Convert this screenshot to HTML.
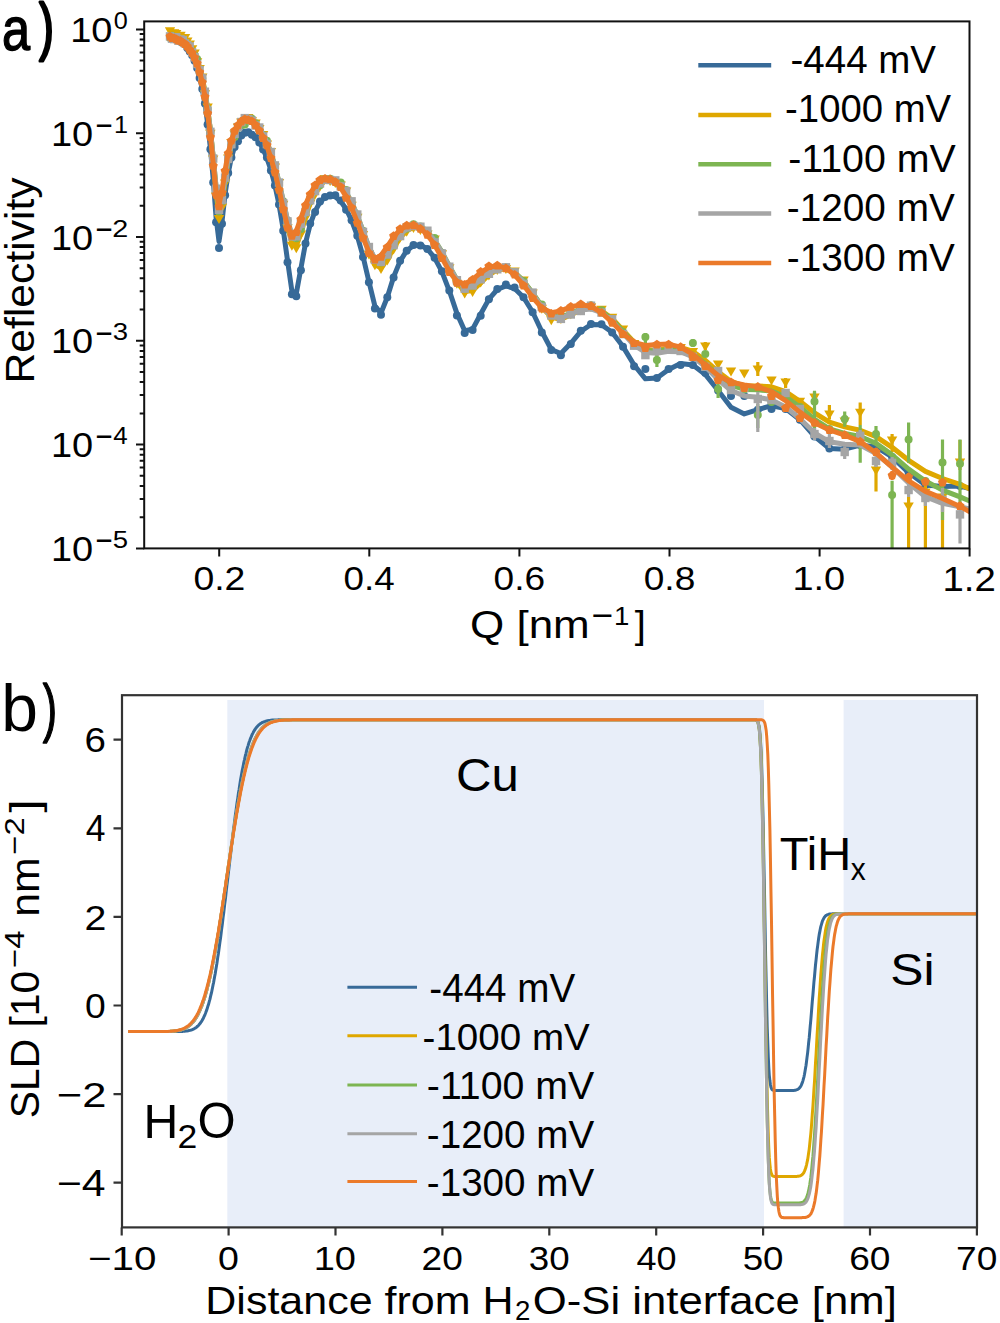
<!DOCTYPE html><html><head><meta charset="utf-8"><style>html,body{margin:0;padding:0;background:#fff;width:1000px;height:1323px;overflow:hidden;position:relative}text{font-family:"Liberation Sans",sans-serif}</style></head><body><svg width="1000" height="1323" viewBox="0 0 1000 1323" style="position:absolute;left:0;top:0">
<rect width="1000" height="1323" fill="#fff"/>
<defs><clipPath id="ca"><rect x="144.2" y="21.4" width="825.3" height="527"/></clipPath></defs>
<g clip-path="url(#ca)">
<g fill="#376a98"><circle cx="170.0" cy="36.2" r="4"/><circle cx="172.0" cy="36.6" r="4"/><circle cx="174.1" cy="37.8" r="4"/><circle cx="176.2" cy="39.1" r="4"/><circle cx="178.3" cy="40.0" r="4"/><circle cx="180.5" cy="41.7" r="4"/><circle cx="182.8" cy="42.8" r="4"/><circle cx="185.0" cy="44.1" r="4"/><circle cx="187.3" cy="48.0" r="4"/><circle cx="189.7" cy="51.5" r="4"/><circle cx="192.1" cy="55.2" r="4"/><circle cx="194.6" cy="60.8" r="4"/><circle cx="197.1" cy="68.1" r="4"/><circle cx="199.6" cy="77.9" r="4"/><circle cx="202.3" cy="89.1" r="4"/><circle cx="204.9" cy="103.6" r="4"/><circle cx="207.6" cy="124.4" r="4"/><circle cx="210.4" cy="149.2" r="4"/><circle cx="213.2" cy="182.4" r="4"/><circle cx="216.1" cy="222.3" r="4"/><circle cx="219.0" cy="247.9" r="4"/><circle cx="222.0" cy="223.7" r="4"/><circle cx="225.1" cy="195.3" r="4"/><circle cx="228.2" cy="173.0" r="4"/><circle cx="231.4" cy="157.4" r="4"/><circle cx="234.6" cy="146.9" r="4"/><circle cx="238.0" cy="141.2" r="4"/><circle cx="241.3" cy="135.4" r="4"/><circle cx="244.8" cy="132.8" r="4"/><circle cx="248.3" cy="132.3" r="4"/><circle cx="251.9" cy="134.8" r="4"/><circle cx="255.5" cy="137.3" r="4"/><circle cx="259.3" cy="142.6" r="4"/><circle cx="263.1" cy="149.4" r="4"/><circle cx="266.9" cy="157.5" r="4"/><circle cx="270.9" cy="170.6" r="4"/><circle cx="274.9" cy="185.4" r="4"/><circle cx="279.0" cy="204.4" r="4"/><circle cx="283.2" cy="230.7" r="4"/><circle cx="287.5" cy="262.3" r="4"/><circle cx="291.9" cy="294.3" r="4"/><circle cx="296.3" cy="296.3" r="4"/><circle cx="300.9" cy="270.2" r="4"/><circle cx="305.5" cy="243.4" r="4"/><circle cx="310.2" cy="223.4" r="4"/><circle cx="315.1" cy="211.9" r="4"/><circle cx="320.0" cy="201.5" r="4"/><circle cx="325.0" cy="196.9" r="4"/><circle cx="330.1" cy="195.6" r="4"/><circle cx="335.3" cy="195.3" r="4"/><circle cx="340.7" cy="200.6" r="4"/><circle cx="346.1" cy="209.7" r="4"/><circle cx="351.6" cy="220.3" r="4"/><circle cx="357.3" cy="235.7" r="4"/><circle cx="363.0" cy="257.0" r="4"/><circle cx="368.9" cy="282.3" r="4"/><circle cx="374.9" cy="308.4" r="4"/><circle cx="381.0" cy="314.7" r="4"/><circle cx="387.3" cy="297.2" r="4"/><circle cx="393.6" cy="277.6" r="4"/><circle cx="400.1" cy="260.8" r="4"/><circle cx="406.7" cy="250.7" r="4"/><circle cx="413.5" cy="245.1" r="4"/><circle cx="420.4" cy="245.4" r="4"/><circle cx="427.4" cy="249.1" r="4"/><circle cx="434.6" cy="257.8" r="4"/><circle cx="441.9" cy="271.2" r="4"/><circle cx="449.3" cy="290.6" r="4"/><circle cx="456.9" cy="315.5" r="4"/><circle cx="464.7" cy="333.1" r="4"/><circle cx="472.6" cy="330.1" r="4"/><circle cx="480.7" cy="315.7" r="4"/><circle cx="488.9" cy="299.2" r="4"/><circle cx="497.3" cy="289.1" r="4"/><circle cx="505.9" cy="284.6" r="4"/><circle cx="514.6" cy="287.6" r="4"/><circle cx="523.5" cy="297.2" r="4"/><circle cx="532.6" cy="312.3" r="4"/><circle cx="541.8" cy="332.5" r="4"/><circle cx="551.3" cy="350.1" r="4"/><circle cx="560.9" cy="355.3" r="4"/><circle cx="570.8" cy="343.9" r="4"/><circle cx="580.8" cy="330.8" r="4"/><circle cx="591.0" cy="324.0" r="4"/><circle cx="601.5" cy="324.3" r="4"/><circle cx="612.1" cy="332.6" r="4"/><circle cx="623.0" cy="346.8" r="4"/><circle cx="634.1" cy="366.2" r="4"/><circle cx="645.4" cy="369.0" r="4"/><circle cx="656.9" cy="378.0" r="4"/><circle cx="668.6" cy="369.0" r="4"/><circle cx="680.6" cy="365.0" r="4"/><circle cx="692.9" cy="365.0" r="4"/><circle cx="705.3" cy="373.0" r="4"/><circle cx="718.1" cy="390.5" r="4"/><circle cx="731.0" cy="396.0" r="4"/><circle cx="744.3" cy="396.0" r="4"/><circle cx="757.8" cy="409.7" r="4"/><circle cx="771.5" cy="409.0" r="4"/><circle cx="785.6" cy="409.0" r="4"/><circle cx="799.9" cy="419.7" r="4"/><circle cx="814.5" cy="436.4" r="4"/><circle cx="829.4" cy="448.6" r="4"/><circle cx="844.7" cy="449.2" r="4"/><circle cx="860.2" cy="445.0" r="4"/><circle cx="876.0" cy="446.9" r="4"/><circle cx="892.1" cy="457.0" r="4"/><circle cx="908.6" cy="472.6" r="4"/><circle cx="925.4" cy="484.9" r="4"/><circle cx="942.5" cy="486.6" r="4"/><circle cx="960.0" cy="486.0" r="4"/></g>
<polyline points="170.0,36.2 172.0,36.8 174.1,37.6 176.2,38.6 178.3,39.7 180.5,41.1 182.8,42.8 185.0,45.0 187.3,47.7 189.7,51.1 192.1,55.5 194.6,61.1 197.1,68.2 199.6,77.3 202.3,89.0 204.9,103.9 207.6,123.1 210.4,148.1 213.2,179.4 216.1,217.7 219.0,241.4 222.0,221.6 225.1,194.0 228.2,173.2 231.4,157.6 234.6,146.9 238.0,139.7 241.3,135.2 244.8,132.9 248.3,132.5 251.9,133.9 255.5,137.1 259.3,142.0 263.1,149.0 266.9,158.2 270.9,170.0 274.9,185.2 279.0,204.6 283.2,229.4 287.5,260.4 291.9,291.0 296.3,293.5 300.9,268.4 305.5,243.2 310.2,224.3 315.1,211.1 320.0,202.3 325.0,197.2 330.1,195.4 335.3,196.8 340.7,201.3 346.1,209.0 351.6,220.3 357.3,235.9 363.0,256.3 368.9,281.5 374.9,306.2 381.0,313.0 387.3,297.2 393.6,276.9 400.1,261.1 406.7,250.7 413.5,245.5 420.4,245.0 427.4,249.0 434.6,257.8 441.9,271.7 449.3,290.8 456.9,313.4 464.7,330.7 472.6,329.1 480.7,314.0 488.9,299.1 497.3,289.5 505.9,285.9 514.6,288.5 523.5,297.2 532.6,312.0 541.8,331.5 551.3,349.5 560.9,353.6 570.8,343.3 580.8,331.3 591.0,324.5 601.5,324.7 612.1,332.3 623.0,346.6 634.1,365.0 645.4,378.8 656.9,378.1 668.6,369.4 680.6,363.5 692.9,365.0 705.3,374.4 718.1,390.5 731.0,407.3 744.3,413.9 757.8,409.7 771.5,405.7 785.6,408.5 799.9,419.7 814.5,436.4 829.4,448.6 844.7,449.2 860.2,445.0 876.0,446.9 892.1,457.0 908.6,472.6 925.4,484.9 942.5,486.6 960.0,486.0 973.4,489.6" fill="none" stroke="#376a98" stroke-width="5" stroke-linejoin="round"/>
<g fill="#dfa700"><path d="M164.8,27.2H175.2L170.0,36.2Z"/><path d="M166.8,29.8H177.2L172.0,38.8Z"/><path d="M168.9,29.2H179.3L174.1,38.2Z"/><path d="M171.0,29.9H181.4L176.2,38.9Z"/><path d="M173.1,32.3H183.5L178.3,41.3Z"/><path d="M175.3,31.8H185.7L180.5,40.8Z"/><path d="M177.6,34.7H188.0L182.8,43.7Z"/><path d="M179.8,34.1H190.2L185.0,43.1Z"/><path d="M182.1,37.5H192.5L187.3,46.5Z"/><path d="M184.5,40.6H194.9L189.7,49.6Z"/><path d="M186.9,45.3H197.3L192.1,54.3Z"/><path d="M189.4,49.5H199.8L194.6,58.5Z"/><path d="M191.9,58.2H202.3L197.1,67.2Z"/><path d="M194.4,65.1H204.8L199.6,74.1Z"/><path d="M197.1,73.5H207.5L202.3,82.5Z"/><path d="M199.7,90.2H210.1L204.9,99.2Z"/><path d="M202.4,103.6H212.8L207.6,112.6Z"/><path d="M205.2,129.7H215.6L210.4,138.7Z"/><path d="M208.0,155.4H218.4L213.2,164.4Z"/><path d="M210.9,192.5H221.3L216.1,201.5Z"/><path d="M213.8,215.1H224.2L219.0,224.1Z"/><path d="M216.8,203.5H227.2L222.0,212.5Z"/><path d="M219.9,179.6H230.3L225.1,188.6Z"/><path d="M223.0,154.6H233.4L228.2,163.6Z"/><path d="M226.2,139.1H236.6L231.4,148.1Z"/><path d="M229.4,130.4H239.8L234.6,139.4Z"/><path d="M232.8,123.4H243.2L238.0,132.4Z"/><path d="M236.1,118.6H246.5L241.3,127.6Z"/><path d="M239.6,117.3H250.0L244.8,126.3Z"/><path d="M243.1,113.9H253.5L248.3,122.9Z"/><path d="M246.7,117.2H257.1L251.9,126.2Z"/><path d="M250.3,119.4H260.7L255.5,128.4Z"/><path d="M254.1,124.9H264.5L259.3,133.9Z"/><path d="M257.9,131.1H268.3L263.1,140.1Z"/><path d="M261.7,140.5H272.1L266.9,149.5Z"/><path d="M265.7,148.0H276.1L270.9,157.0Z"/><path d="M269.7,163.6H280.1L274.9,172.6Z"/><path d="M273.8,179.1H284.2L279.0,188.1Z"/><path d="M278.0,200.8H288.4L283.2,209.8Z"/><path d="M282.3,224.2H292.7L287.5,233.2Z"/><path d="M286.7,241.7H297.1L291.9,250.7Z"/><path d="M291.1,244.2H301.5L296.3,253.2Z"/><path d="M295.7,230.5H306.1L300.9,239.5Z"/><path d="M300.3,214.3H310.7L305.5,223.3Z"/><path d="M305.0,199.8H315.4L310.2,208.8Z"/><path d="M309.9,190.5H320.3L315.1,199.5Z"/><path d="M314.8,182.5H325.2L320.0,191.5Z"/><path d="M319.8,175.1H330.2L325.0,184.1Z"/><path d="M324.9,177.0H335.3L330.1,186.0Z"/><path d="M330.1,179.1H340.5L335.3,188.1Z"/><path d="M335.5,181.6H345.9L340.7,190.6Z"/><path d="M340.9,187.5H351.3L346.1,196.5Z"/><path d="M346.4,201.7H356.8L351.6,210.7Z"/><path d="M352.1,213.7H362.5L357.3,222.7Z"/><path d="M357.8,231.0H368.2L363.0,240.0Z"/><path d="M363.7,250.5H374.1L368.9,259.5Z"/><path d="M369.7,261.2H380.1L374.9,270.2Z"/><path d="M375.8,265.1H386.2L381.0,274.1Z"/><path d="M382.1,256.6H392.5L387.3,265.6Z"/><path d="M388.4,245.6H398.8L393.6,254.6Z"/><path d="M394.9,233.4H405.3L400.1,242.4Z"/><path d="M401.5,227.7H411.9L406.7,236.7Z"/><path d="M408.3,223.9H418.7L413.5,232.9Z"/><path d="M415.2,225.9H425.6L420.4,234.9Z"/><path d="M422.2,230.6H432.6L427.4,239.6Z"/><path d="M429.4,235.6H439.8L434.6,244.6Z"/><path d="M436.7,250.3H447.1L441.9,259.3Z"/><path d="M444.1,264.3H454.5L449.3,273.3Z"/><path d="M451.7,279.8H462.1L456.9,288.8Z"/><path d="M459.5,289.4H469.9L464.7,298.4Z"/><path d="M467.4,288.1H477.8L472.6,297.1Z"/><path d="M475.5,278.6H485.9L480.7,287.6Z"/><path d="M483.7,271.5H494.1L488.9,280.5Z"/><path d="M492.1,266.1H502.5L497.3,275.1Z"/><path d="M500.7,265.0H511.1L505.9,274.0Z"/><path d="M509.4,267.4H519.8L514.6,276.4Z"/><path d="M518.3,276.6H528.7L523.5,285.6Z"/><path d="M527.4,289.5H537.8L532.6,298.5Z"/><path d="M536.6,304.7H547.0L541.8,313.7Z"/><path d="M546.1,316.2H556.5L551.3,325.2Z"/><path d="M555.7,315.0H566.1L560.9,324.0Z"/><path d="M565.6,310.2H576.0L570.8,319.2Z"/><path d="M575.6,306.2H586.0L580.8,315.2Z"/><path d="M585.8,303.2H596.2L591.0,312.2Z"/><path d="M596.3,305.7H606.7L601.5,314.7Z"/><path d="M606.9,313.7H617.3L612.1,322.7Z"/><path d="M617.8,325.5H628.2L623.0,334.5Z"/><path d="M628.9,339.9H639.3L634.1,348.9Z"/><path d="M640.2,344.8H650.6L645.4,353.8Z"/><path d="M651.7,349.0H662.1L656.9,358.0Z"/><path d="M663.4,342.9H673.8L668.6,351.9Z"/><path d="M675.4,343.9H685.8L680.6,352.9Z"/><path d="M687.7,347.9H698.1L692.9,356.9Z"/><path d="M705.3,342.0V350.0" stroke="#dfa700" stroke-width="3.2"/><path d="M700.1,342.4H710.5L705.3,351.4Z"/><path d="M712.9,360.4H723.3L718.1,369.4Z"/><path d="M725.8,367.4H736.2L731.0,376.4Z"/><path d="M739.1,369.4H749.5L744.3,378.4Z"/><path d="M757.8,362.0V376.0" stroke="#dfa700" stroke-width="3.2"/><path d="M752.6,365.4H763.0L757.8,374.4Z"/><path d="M766.3,376.4H776.7L771.5,385.4Z"/><path d="M785.6,378.0V388.0" stroke="#dfa700" stroke-width="3.2"/><path d="M780.4,378.4H790.8L785.6,387.4Z"/><path d="M794.7,397.7H805.1L799.9,406.7Z"/><path d="M814.5,392.0V402.0" stroke="#dfa700" stroke-width="3.2"/><path d="M809.3,393.4H819.7L814.5,402.4Z"/><path d="M829.4,405.0V419.6" stroke="#dfa700" stroke-width="3.2"/><path d="M824.2,410.4H834.6L829.4,419.4Z"/><path d="M844.7,415.0V427.0" stroke="#dfa700" stroke-width="3.2"/><path d="M839.5,417.4H849.9L844.7,426.4Z"/><path d="M860.2,402.5V425.0" stroke="#dfa700" stroke-width="3.2"/><path d="M855.0,408.8H865.4L860.2,417.8Z"/><path d="M876.0,461.0V491.6" stroke="#dfa700" stroke-width="3.2"/><path d="M870.8,466.4H881.2L876.0,475.4Z"/><path d="M892.1,434.0V452.0" stroke="#dfa700" stroke-width="3.2"/><path d="M886.9,436.4H897.3L892.1,445.4Z"/><path d="M908.6,497.0V548.0" stroke="#dfa700" stroke-width="3.2"/><path d="M903.4,502.4H913.8L908.6,511.4Z"/><path d="M925.4,480.0V548.0" stroke="#dfa700" stroke-width="3.2"/><path d="M920.2,488.4H930.6L925.4,497.4Z"/><path d="M942.5,488.0V548.0" stroke="#dfa700" stroke-width="3.2"/><path d="M937.3,493.4H947.7L942.5,502.4Z"/><path d="M960.0,440.0V470.0" stroke="#dfa700" stroke-width="3.2"/><path d="M954.8,458.4H965.2L960.0,467.4Z"/></g>
<polyline points="170.0,31.5 172.0,32.0 174.1,32.7 176.2,33.5 178.3,34.5 180.5,35.7 182.8,37.2 185.0,39.1 187.3,41.4 189.7,44.3 192.1,48.1 194.6,52.9 197.1,59.2 199.6,67.2 202.3,77.5 204.9,90.9 207.6,108.1 210.4,130.3 213.2,158.7 216.1,192.4 219.0,216.2 222.0,205.4 225.1,180.6 228.2,159.8 231.4,144.7 234.6,134.0 238.0,126.8 241.3,122.2 244.8,119.7 248.3,119.1 251.9,120.2 255.5,123.0 259.3,127.5 263.1,133.9 266.9,142.4 270.9,153.2 274.9,166.9 279.0,183.7 283.2,203.8 287.5,225.8 291.9,243.4 296.3,245.8 300.9,233.4 305.5,217.2 310.2,203.1 315.1,192.4 320.0,185.2 325.0,181.1 330.1,179.9 335.3,181.5 340.7,185.9 346.1,193.1 351.6,203.4 357.3,216.9 363.0,233.3 368.9,250.9 374.9,264.7 381.0,267.7 387.3,259.8 393.6,248.1 400.1,237.8 406.7,230.8 413.5,227.6 420.4,228.3 427.4,232.8 434.6,241.1 441.9,253.1 449.3,267.9 456.9,282.6 464.7,291.5 472.6,290.5 480.7,282.9 488.9,274.8 497.3,269.8 505.9,269.0 514.6,272.9 523.5,281.3 532.6,293.4 541.8,307.0 551.3,317.2 560.9,319.3 570.8,315.0 580.8,309.8 591.0,307.9 601.5,310.7 612.1,318.5 623.0,330.1 634.1,342.2 645.4,349.8 656.9,350.5 668.6,348.0 680.6,347.5 692.9,351.5 705.3,360.4 718.1,371.7 731.0,381.4 744.3,385.8 757.8,385.9 771.5,386.8 785.6,391.7 799.9,401.3 814.5,412.8 829.4,422.2 844.7,426.9 860.2,430.3 876.0,436.6 892.1,447.3 908.6,460.3 925.4,471.4 942.5,478.5 960.0,484.4 973.4,490.5" fill="none" stroke="#dfa700" stroke-width="5" stroke-linejoin="round"/>
<g fill="#7db552"><circle cx="170.0" cy="38.1" r="4"/><circle cx="172.0" cy="35.7" r="4"/><circle cx="174.1" cy="37.1" r="4"/><circle cx="176.2" cy="37.2" r="4"/><circle cx="178.3" cy="40.0" r="4"/><circle cx="180.5" cy="40.7" r="4"/><circle cx="182.8" cy="42.5" r="4"/><circle cx="185.0" cy="44.1" r="4"/><circle cx="187.3" cy="44.8" r="4"/><circle cx="189.7" cy="48.9" r="4"/><circle cx="192.1" cy="50.9" r="4"/><circle cx="194.6" cy="55.5" r="4"/><circle cx="197.1" cy="59.1" r="4"/><circle cx="199.6" cy="71.5" r="4"/><circle cx="202.3" cy="78.3" r="4"/><circle cx="204.9" cy="92.5" r="4"/><circle cx="207.6" cy="109.1" r="4"/><circle cx="210.4" cy="132.7" r="4"/><circle cx="213.2" cy="158.7" r="4"/><circle cx="216.1" cy="188.8" r="4"/><circle cx="219.0" cy="211.4" r="4"/><circle cx="222.0" cy="201.6" r="4"/><circle cx="225.1" cy="179.2" r="4"/><circle cx="228.2" cy="157.4" r="4"/><circle cx="231.4" cy="144.5" r="4"/><circle cx="234.6" cy="137.1" r="4"/><circle cx="238.0" cy="128.0" r="4"/><circle cx="241.3" cy="125.2" r="4"/><circle cx="244.8" cy="124.6" r="4"/><circle cx="248.3" cy="120.2" r="4"/><circle cx="251.9" cy="118.8" r="4"/><circle cx="255.5" cy="123.3" r="4"/><circle cx="259.3" cy="129.4" r="4"/><circle cx="263.1" cy="135.3" r="4"/><circle cx="266.9" cy="140.7" r="4"/><circle cx="270.9" cy="152.6" r="4"/><circle cx="274.9" cy="166.0" r="4"/><circle cx="279.0" cy="182.4" r="4"/><circle cx="283.2" cy="201.3" r="4"/><circle cx="287.5" cy="220.4" r="4"/><circle cx="291.9" cy="236.1" r="4"/><circle cx="296.3" cy="238.3" r="4"/><circle cx="300.9" cy="229.1" r="4"/><circle cx="305.5" cy="212.4" r="4"/><circle cx="310.2" cy="201.1" r="4"/><circle cx="315.1" cy="188.7" r="4"/><circle cx="320.0" cy="185.3" r="4"/><circle cx="325.0" cy="179.9" r="4"/><circle cx="330.1" cy="178.8" r="4"/><circle cx="335.3" cy="182.3" r="4"/><circle cx="340.7" cy="182.5" r="4"/><circle cx="346.1" cy="190.1" r="4"/><circle cx="351.6" cy="203.0" r="4"/><circle cx="357.3" cy="214.4" r="4"/><circle cx="363.0" cy="230.8" r="4"/><circle cx="368.9" cy="251.4" r="4"/><circle cx="374.9" cy="259.7" r="4"/><circle cx="381.0" cy="262.4" r="4"/><circle cx="387.3" cy="254.8" r="4"/><circle cx="393.6" cy="245.7" r="4"/><circle cx="400.1" cy="235.2" r="4"/><circle cx="406.7" cy="228.8" r="4"/><circle cx="413.5" cy="224.2" r="4"/><circle cx="420.4" cy="226.4" r="4"/><circle cx="427.4" cy="231.6" r="4"/><circle cx="434.6" cy="237.9" r="4"/><circle cx="441.9" cy="252.8" r="4"/><circle cx="449.3" cy="267.0" r="4"/><circle cx="456.9" cy="282.8" r="4"/><circle cx="464.7" cy="286.1" r="4"/><circle cx="472.6" cy="285.5" r="4"/><circle cx="480.7" cy="278.4" r="4"/><circle cx="488.9" cy="271.4" r="4"/><circle cx="497.3" cy="267.8" r="4"/><circle cx="505.9" cy="267.5" r="4"/><circle cx="514.6" cy="272.4" r="4"/><circle cx="523.5" cy="281.1" r="4"/><circle cx="532.6" cy="293.0" r="4"/><circle cx="541.8" cy="304.4" r="4"/><circle cx="551.3" cy="315.3" r="4"/><circle cx="560.9" cy="317.8" r="4"/><circle cx="570.8" cy="314.2" r="4"/><circle cx="580.8" cy="309.6" r="4"/><circle cx="591.0" cy="305.2" r="4"/><circle cx="601.5" cy="310.2" r="4"/><circle cx="612.1" cy="319.3" r="4"/><circle cx="623.0" cy="331.9" r="4"/><circle cx="634.1" cy="345.3" r="4"/><path d="M645.4,333.0V343.0" stroke="#7db552" stroke-width="3.2"/><circle cx="645.4" cy="337.0" r="4"/><path d="M656.9,353.0V367.0" stroke="#7db552" stroke-width="3.2"/><circle cx="656.9" cy="360.0" r="4"/><circle cx="668.6" cy="349.7" r="4"/><circle cx="680.6" cy="349.5" r="4"/><path d="M692.9,339.0V347.0" stroke="#7db552" stroke-width="3.2"/><circle cx="692.9" cy="343.0" r="4"/><circle cx="705.3" cy="354.0" r="4"/><path d="M718.1,384.0V398.0" stroke="#7db552" stroke-width="3.2"/><circle cx="718.1" cy="389.0" r="4"/><circle cx="731.0" cy="385.1" r="4"/><circle cx="744.3" cy="389.4" r="4"/><path d="M757.8,404.0V428.0" stroke="#7db552" stroke-width="3.2"/><circle cx="757.8" cy="415.0" r="4"/><circle cx="771.5" cy="402.0" r="4"/><circle cx="785.6" cy="396.7" r="4"/><circle cx="799.9" cy="407.0" r="4"/><path d="M814.5,390.8V437.6" stroke="#7db552" stroke-width="3.2"/><circle cx="814.5" cy="401.6" r="4"/><circle cx="829.4" cy="428.9" r="4"/><path d="M844.7,411.5V426.8" stroke="#7db552" stroke-width="3.2"/><circle cx="844.7" cy="419.0" r="4"/><path d="M860.2,425.0V462.8" stroke="#7db552" stroke-width="3.2"/><circle cx="860.2" cy="443.0" r="4"/><path d="M876.0,426.0V443.0" stroke="#7db552" stroke-width="3.2"/><circle cx="876.0" cy="434.0" r="4"/><path d="M892.1,480.8V548.0" stroke="#7db552" stroke-width="3.2"/><circle cx="892.1" cy="495.0" r="4"/><path d="M908.6,422.5V462.8" stroke="#7db552" stroke-width="3.2"/><circle cx="908.6" cy="439.4" r="4"/><circle cx="925.4" cy="481.0" r="4"/><path d="M942.5,439.6V520.0" stroke="#7db552" stroke-width="3.2"/><circle cx="942.5" cy="462.4" r="4"/><path d="M960.0,439.6V503.0" stroke="#7db552" stroke-width="3.2"/><circle cx="960.0" cy="463.7" r="4"/></g>
<polyline points="170.0,35.8 172.0,36.4 174.1,37.0 176.2,37.7 178.3,38.7 180.5,39.8 182.8,41.2 185.0,42.9 187.3,45.1 189.7,47.9 192.1,51.5 194.6,56.0 197.1,61.9 199.6,69.6 202.3,79.5 204.9,92.3 207.6,108.8 210.4,130.1 213.2,156.9 216.1,187.6 219.0,208.4 222.0,200.2 225.1,178.3 228.2,159.0 231.4,144.5 234.6,134.2 238.0,127.2 241.3,122.7 244.8,120.2 248.3,119.6 251.9,120.7 255.5,123.4 259.3,127.8 263.1,134.1 266.9,142.3 270.9,152.8 274.9,166.0 279.0,182.0 283.2,200.8 287.5,220.6 291.9,235.6 296.3,237.5 300.9,227.1 305.5,212.9 310.2,200.2 315.1,190.4 320.0,183.7 325.0,180.0 330.1,179.0 335.3,180.7 340.7,185.1 346.1,192.2 351.6,202.3 357.3,215.3 363.0,230.9 368.9,247.0 374.9,259.1 381.0,261.5 387.3,254.5 393.6,244.2 400.1,235.0 406.7,228.8 413.5,226.1 420.4,227.1 427.4,231.8 434.6,240.1 441.9,251.9 449.3,266.0 456.9,279.6 464.7,287.5 472.6,286.4 480.7,279.6 488.9,272.5 497.3,268.3 505.9,268.1 514.6,272.3 523.5,280.9 532.6,292.9 541.8,305.9 551.3,315.4 560.9,317.2 570.8,313.4 580.8,309.0 591.0,307.8 601.5,311.3 612.1,319.5 623.0,331.2 634.1,343.1 645.4,350.4 656.9,351.2 668.6,349.3 680.6,349.5 692.9,354.2 705.3,363.8 718.1,375.3 731.0,385.1 744.3,389.4 757.8,389.8 771.5,391.1 785.6,396.7 799.9,407.0 814.5,419.4 829.4,428.9 844.7,433.4 860.2,436.5 876.0,443.4 892.1,454.9 908.6,469.1 925.4,481.0 942.5,490.1 960.0,496.9 973.4,502.6" fill="none" stroke="#7db552" stroke-width="5" stroke-linejoin="round"/>
<g fill="#a5a5a5"><rect x="165.8" y="32.2" width="8.4" height="8.4"/><rect x="167.8" y="34.5" width="8.4" height="8.4"/><rect x="169.9" y="34.9" width="8.4" height="8.4"/><rect x="172.0" y="33.0" width="8.4" height="8.4"/><rect x="174.1" y="36.4" width="8.4" height="8.4"/><rect x="176.3" y="35.2" width="8.4" height="8.4"/><rect x="178.6" y="36.1" width="8.4" height="8.4"/><rect x="180.8" y="39.2" width="8.4" height="8.4"/><rect x="183.1" y="41.0" width="8.4" height="8.4"/><rect x="185.5" y="42.2" width="8.4" height="8.4"/><rect x="187.9" y="48.2" width="8.4" height="8.4"/><rect x="190.4" y="53.1" width="8.4" height="8.4"/><rect x="192.9" y="59.9" width="8.4" height="8.4"/><rect x="195.4" y="65.9" width="8.4" height="8.4"/><rect x="198.1" y="74.1" width="8.4" height="8.4"/><rect x="200.7" y="87.5" width="8.4" height="8.4"/><rect x="203.4" y="106.3" width="8.4" height="8.4"/><rect x="206.2" y="127.6" width="8.4" height="8.4"/><rect x="209.0" y="154.3" width="8.4" height="8.4"/><rect x="211.9" y="184.5" width="8.4" height="8.4"/><rect x="214.8" y="205.7" width="8.4" height="8.4"/><rect x="217.8" y="195.8" width="8.4" height="8.4"/><rect x="220.9" y="173.4" width="8.4" height="8.4"/><rect x="224.0" y="154.7" width="8.4" height="8.4"/><rect x="227.2" y="140.0" width="8.4" height="8.4"/><rect x="230.4" y="129.6" width="8.4" height="8.4"/><rect x="233.8" y="122.9" width="8.4" height="8.4"/><rect x="237.1" y="117.8" width="8.4" height="8.4"/><rect x="240.6" y="113.9" width="8.4" height="8.4"/><rect x="244.1" y="114.8" width="8.4" height="8.4"/><rect x="247.7" y="116.5" width="8.4" height="8.4"/><rect x="251.3" y="121.2" width="8.4" height="8.4"/><rect x="255.1" y="123.3" width="8.4" height="8.4"/><rect x="258.9" y="132.2" width="8.4" height="8.4"/><rect x="262.7" y="139.9" width="8.4" height="8.4"/><rect x="266.7" y="147.8" width="8.4" height="8.4"/><rect x="270.7" y="161.2" width="8.4" height="8.4"/><rect x="274.8" y="178.3" width="8.4" height="8.4"/><rect x="279.0" y="199.0" width="8.4" height="8.4"/><rect x="283.3" y="217.2" width="8.4" height="8.4"/><rect x="287.7" y="232.2" width="8.4" height="8.4"/><rect x="292.1" y="232.1" width="8.4" height="8.4"/><rect x="296.7" y="219.6" width="8.4" height="8.4"/><rect x="301.3" y="207.7" width="8.4" height="8.4"/><rect x="306.0" y="196.1" width="8.4" height="8.4"/><rect x="310.9" y="186.9" width="8.4" height="8.4"/><rect x="315.8" y="179.1" width="8.4" height="8.4"/><rect x="320.8" y="175.6" width="8.4" height="8.4"/><rect x="325.9" y="175.8" width="8.4" height="8.4"/><rect x="331.1" y="176.2" width="8.4" height="8.4"/><rect x="336.5" y="182.1" width="8.4" height="8.4"/><rect x="341.9" y="186.8" width="8.4" height="8.4"/><rect x="347.4" y="197.1" width="8.4" height="8.4"/><rect x="353.1" y="210.3" width="8.4" height="8.4"/><rect x="358.8" y="227.7" width="8.4" height="8.4"/><rect x="364.7" y="242.8" width="8.4" height="8.4"/><rect x="370.7" y="255.5" width="8.4" height="8.4"/><rect x="376.8" y="257.7" width="8.4" height="8.4"/><rect x="383.1" y="250.3" width="8.4" height="8.4"/><rect x="389.4" y="240.9" width="8.4" height="8.4"/><rect x="395.9" y="231.9" width="8.4" height="8.4"/><rect x="402.5" y="223.2" width="8.4" height="8.4"/><rect x="409.3" y="221.8" width="8.4" height="8.4"/><rect x="416.2" y="222.5" width="8.4" height="8.4"/><rect x="423.2" y="226.5" width="8.4" height="8.4"/><rect x="430.4" y="238.2" width="8.4" height="8.4"/><rect x="437.7" y="249.2" width="8.4" height="8.4"/><rect x="445.1" y="262.5" width="8.4" height="8.4"/><rect x="452.7" y="276.0" width="8.4" height="8.4"/><rect x="460.5" y="284.5" width="8.4" height="8.4"/><rect x="468.4" y="281.3" width="8.4" height="8.4"/><rect x="476.5" y="275.1" width="8.4" height="8.4"/><rect x="484.7" y="269.6" width="8.4" height="8.4"/><rect x="493.1" y="265.1" width="8.4" height="8.4"/><rect x="501.7" y="263.1" width="8.4" height="8.4"/><rect x="510.4" y="268.1" width="8.4" height="8.4"/><rect x="519.3" y="279.7" width="8.4" height="8.4"/><rect x="528.4" y="288.4" width="8.4" height="8.4"/><rect x="537.6" y="302.7" width="8.4" height="8.4"/><rect x="547.1" y="311.3" width="8.4" height="8.4"/><rect x="556.7" y="314.7" width="8.4" height="8.4"/><rect x="566.6" y="310.3" width="8.4" height="8.4"/><rect x="576.6" y="306.8" width="8.4" height="8.4"/><rect x="586.8" y="301.5" width="8.4" height="8.4"/><rect x="597.3" y="308.4" width="8.4" height="8.4"/><rect x="607.9" y="315.0" width="8.4" height="8.4"/><rect x="618.8" y="329.9" width="8.4" height="8.4"/><rect x="629.9" y="341.5" width="8.4" height="8.4"/><rect x="641.2" y="350.9" width="8.4" height="8.4"/><rect x="652.7" y="344.8" width="8.4" height="8.4"/><rect x="664.4" y="344.8" width="8.4" height="8.4"/><rect x="676.4" y="346.8" width="8.4" height="8.4"/><rect x="688.7" y="352.7" width="8.4" height="8.4"/><rect x="701.1" y="362.6" width="8.4" height="8.4"/><rect x="713.9" y="366.8" width="8.4" height="8.4"/><rect x="726.8" y="385.8" width="8.4" height="8.4"/><rect x="740.1" y="383.8" width="8.4" height="8.4"/><path d="M757.8,392.0V432.0" stroke="#a5a5a5" stroke-width="3.2"/><rect x="753.6" y="394.8" width="8.4" height="8.4"/><rect x="767.3" y="395.7" width="8.4" height="8.4"/><rect x="781.4" y="388.8" width="8.4" height="8.4"/><rect x="795.7" y="404.8" width="8.4" height="8.4"/><path d="M814.5,428.0V440.0" stroke="#a5a5a5" stroke-width="3.2"/><rect x="810.3" y="429.8" width="8.4" height="8.4"/><path d="M829.4,434.0V448.0" stroke="#a5a5a5" stroke-width="3.2"/><rect x="825.2" y="436.8" width="8.4" height="8.4"/><path d="M844.7,446.6V459.0" stroke="#a5a5a5" stroke-width="3.2"/><rect x="840.5" y="447.8" width="8.4" height="8.4"/><path d="M860.2,430.0V441.0" stroke="#a5a5a5" stroke-width="3.2"/><rect x="856.0" y="431.6" width="8.4" height="8.4"/><path d="M876.0,455.0V467.0" stroke="#a5a5a5" stroke-width="3.2"/><rect x="871.8" y="456.8" width="8.4" height="8.4"/><path d="M892.1,457.0V470.0" stroke="#a5a5a5" stroke-width="3.2"/><rect x="887.9" y="458.6" width="8.4" height="8.4"/><path d="M908.6,484.0V497.0" stroke="#a5a5a5" stroke-width="3.2"/><rect x="904.4" y="485.8" width="8.4" height="8.4"/><path d="M925.4,491.6V506.0" stroke="#a5a5a5" stroke-width="3.2"/><rect x="921.2" y="493.8" width="8.4" height="8.4"/><path d="M942.5,488.0V512.0" stroke="#a5a5a5" stroke-width="3.2"/><rect x="938.3" y="495.8" width="8.4" height="8.4"/><path d="M960.0,505.0V543.6" stroke="#a5a5a5" stroke-width="3.2"/><rect x="955.8" y="510.2" width="8.4" height="8.4"/></g>
<polyline points="170.0,36.7 172.0,37.3 174.1,37.9 176.2,38.6 178.3,39.5 180.5,40.7 182.8,42.0 185.0,43.7 187.3,45.9 189.7,48.7 192.1,52.2 194.6,56.7 197.1,62.6 199.6,70.1 202.3,80.0 204.9,92.7 207.6,109.2 210.4,130.3 213.2,156.8 216.1,186.9 219.0,206.9 222.0,198.8 225.1,177.5 228.2,158.5 231.4,144.3 234.6,134.1 238.0,127.2 241.3,122.7 244.8,120.3 248.3,119.8 251.9,120.9 255.5,123.6 259.3,128.0 263.1,134.2 266.9,142.5 270.9,153.0 274.9,166.1 279.0,182.0 283.2,200.6 287.5,220.0 291.9,234.4 296.3,236.0 300.9,225.8 305.5,212.0 310.2,199.5 315.1,189.9 320.0,183.4 325.0,179.8 330.1,178.9 335.3,180.7 340.7,185.1 346.1,192.4 351.6,202.5 357.3,215.5 363.0,231.0 368.9,246.9 374.9,258.6 381.0,260.7 387.3,253.7 393.6,243.5 400.1,234.6 406.7,228.6 413.5,226.1 420.4,227.2 427.4,232.1 434.6,240.5 441.9,252.4 449.3,266.5 456.9,279.9 464.7,287.5 472.6,286.2 480.7,279.5 488.9,272.6 497.3,268.6 505.9,268.6 514.6,273.1 523.5,281.8 532.6,293.9 541.8,307.0 551.3,316.3 560.9,318.0 570.8,314.1 580.8,309.9 591.0,309.0 601.5,312.7 612.1,321.1 623.0,333.1 634.1,345.2 645.4,352.5 656.9,353.2 668.6,351.4 680.6,351.8 692.9,356.9 705.3,366.8 718.1,379.5 731.0,390.5 744.3,395.9 757.8,397.3 771.5,399.9 785.6,406.9 799.9,418.7 814.5,432.8 829.4,441.8 844.7,444.3 860.2,445.1 876.0,453.5 892.1,466.9 908.6,483.0 925.4,496.7 942.5,503.4 960.0,506.7 973.4,509.7" fill="none" stroke="#a5a5a5" stroke-width="5" stroke-linejoin="round"/>
<g fill="#eb7a2a"><polygon points="170.0,31.7 174.6,35.1 172.9,40.4 167.2,40.4 165.5,35.1"/><polygon points="172.0,33.4 176.6,36.8 174.9,42.1 169.2,42.1 167.5,36.8"/><polygon points="174.1,33.4 178.7,36.8 176.9,42.1 171.3,42.1 169.5,36.8"/><polygon points="176.2,34.5 180.8,37.8 179.0,43.2 173.4,43.2 171.6,37.8"/><polygon points="178.3,35.7 182.9,39.0 181.2,44.4 175.5,44.4 173.8,39.0"/><polygon points="180.5,36.1 185.1,39.4 183.3,44.8 177.7,44.8 176.0,39.4"/><polygon points="182.8,37.9 187.3,41.2 185.6,46.6 179.9,46.6 178.2,41.2"/><polygon points="185.0,39.2 189.6,42.5 187.8,47.9 182.2,47.9 180.5,42.5"/><polygon points="187.3,41.8 191.9,45.1 190.2,50.5 184.5,50.5 182.8,45.1"/><polygon points="189.7,45.1 194.3,48.5 192.5,53.8 186.9,53.8 185.1,48.5"/><polygon points="192.1,48.3 196.7,51.6 194.9,56.9 189.3,56.9 187.6,51.6"/><polygon points="194.6,52.9 199.1,56.2 197.4,61.6 191.8,61.6 190.0,56.2"/><polygon points="197.1,58.6 201.7,61.9 199.9,67.2 194.3,67.2 192.5,61.9"/><polygon points="199.6,67.5 204.2,70.8 202.5,76.2 196.8,76.2 195.1,70.8"/><polygon points="202.3,77.5 206.8,80.9 205.1,86.2 199.4,86.2 197.7,80.9"/><polygon points="204.9,92.1 209.5,95.4 207.7,100.7 202.1,100.7 200.4,95.4"/><polygon points="207.6,108.6 212.2,111.9 210.5,117.3 204.8,117.3 203.1,111.9"/><polygon points="210.4,132.4 215.0,135.7 213.2,141.1 207.6,141.1 205.8,135.7"/><polygon points="213.2,161.1 217.8,164.4 216.0,169.8 210.4,169.8 208.7,164.4"/><polygon points="216.1,190.1 220.7,193.4 218.9,198.8 213.3,198.8 211.5,193.4"/><polygon points="219.0,201.7 223.6,205.0 221.9,210.3 216.2,210.3 214.5,205.0"/><polygon points="222.0,187.9 226.6,191.2 224.9,196.6 219.2,196.6 217.5,191.2"/><polygon points="225.1,166.2 229.7,169.6 227.9,174.9 222.3,174.9 220.5,169.6"/><polygon points="228.2,148.6 232.8,151.9 231.0,157.3 225.4,157.3 223.7,151.9"/><polygon points="231.4,135.9 236.0,139.2 234.2,144.5 228.6,144.5 226.8,139.2"/><polygon points="234.6,126.0 239.2,129.3 237.5,134.7 231.8,134.7 230.1,129.3"/><polygon points="238.0,120.6 242.5,123.9 240.8,129.2 235.1,129.2 233.4,123.9"/><polygon points="241.3,116.8 245.9,120.1 244.2,125.5 238.5,125.5 236.8,120.1"/><polygon points="244.8,114.5 249.3,117.8 247.6,123.1 242.0,123.1 240.2,117.8"/><polygon points="248.3,115.2 252.9,118.6 251.1,123.9 245.5,123.9 243.7,118.6"/><polygon points="251.9,116.4 256.4,119.7 254.7,125.1 249.1,125.1 247.3,119.7"/><polygon points="255.5,120.5 260.1,123.8 258.3,129.2 252.7,129.2 251.0,123.8"/><polygon points="259.3,125.8 263.8,129.1 262.1,134.5 256.4,134.5 254.7,129.1"/><polygon points="263.1,133.2 267.6,136.5 265.9,141.9 260.2,141.9 258.5,136.5"/><polygon points="266.9,140.5 271.5,143.8 269.8,149.2 264.1,149.2 262.4,143.8"/><polygon points="270.9,153.3 275.5,156.7 273.7,162.0 268.1,162.0 266.3,156.7"/><polygon points="274.9,167.5 279.5,170.8 277.7,176.2 272.1,176.2 270.4,170.8"/><polygon points="279.0,185.0 283.6,188.4 281.9,193.7 276.2,193.7 274.5,188.4"/><polygon points="283.2,204.5 287.8,207.8 286.1,213.2 280.4,213.2 278.7,207.8"/><polygon points="287.5,222.9 292.1,226.2 290.3,231.5 284.7,231.5 283.0,226.2"/><polygon points="291.9,231.0 296.4,234.3 294.7,239.7 289.1,239.7 287.3,234.3"/><polygon points="296.3,227.5 300.9,230.8 299.2,236.1 293.5,236.1 291.8,230.8"/><polygon points="300.9,214.6 305.4,217.9 303.7,223.3 298.1,223.3 296.3,217.9"/><polygon points="305.5,200.6 310.1,203.9 308.3,209.3 302.7,209.3 301.0,203.9"/><polygon points="310.2,189.6 314.8,192.9 313.1,198.3 307.4,198.3 305.7,192.9"/><polygon points="315.1,180.4 319.6,183.7 317.9,189.1 312.2,189.1 310.5,183.7"/><polygon points="320.0,175.3 324.5,178.6 322.8,183.9 317.2,183.9 315.4,178.6"/><polygon points="325.0,173.9 329.6,177.3 327.8,182.6 322.2,182.6 320.4,177.3"/><polygon points="330.1,174.6 334.7,177.9 332.9,183.3 327.3,183.3 325.6,177.9"/><polygon points="335.3,177.2 339.9,180.5 338.2,185.9 332.5,185.9 330.8,180.5"/><polygon points="340.7,182.2 345.2,185.5 343.5,190.9 337.8,190.9 336.1,185.5"/><polygon points="346.1,193.1 350.7,196.4 348.9,201.7 343.3,201.7 341.5,196.4"/><polygon points="351.6,203.0 356.2,206.3 354.4,211.6 348.8,211.6 347.1,206.3"/><polygon points="357.3,218.2 361.8,221.5 360.1,226.8 354.5,226.8 352.7,221.5"/><polygon points="363.0,233.1 367.6,236.4 365.9,241.7 360.2,241.7 358.5,236.4"/><polygon points="368.9,248.4 373.5,251.8 371.7,257.1 366.1,257.1 364.4,251.8"/><polygon points="374.9,254.8 379.5,258.1 377.7,263.5 372.1,263.5 370.3,258.1"/><polygon points="381.0,252.0 385.6,255.3 383.8,260.7 378.2,260.7 376.5,255.3"/><polygon points="387.3,242.4 391.8,245.7 390.1,251.0 384.4,251.0 382.7,245.7"/><polygon points="393.6,231.3 398.2,234.6 396.4,240.0 390.8,240.0 389.1,234.6"/><polygon points="400.1,224.2 404.7,227.5 402.9,232.9 397.3,232.9 395.6,227.5"/><polygon points="406.7,220.7 411.3,224.1 409.6,229.4 403.9,229.4 402.2,224.1"/><polygon points="413.5,220.5 418.1,223.8 416.3,229.2 410.7,229.2 408.9,223.8"/><polygon points="420.4,224.1 424.9,227.5 423.2,232.8 417.6,232.8 415.8,227.5"/><polygon points="427.4,230.1 432.0,233.4 430.2,238.8 424.6,238.8 422.8,233.4"/><polygon points="434.6,240.2 439.1,243.5 437.4,248.9 431.7,248.9 430.0,243.5"/><polygon points="441.9,253.3 446.4,256.6 444.7,262.0 439.0,262.0 437.3,256.6"/><polygon points="449.3,267.2 453.9,270.5 452.1,275.9 446.5,275.9 444.8,270.5"/><polygon points="456.9,278.1 461.5,281.4 459.8,286.8 454.1,286.8 452.4,281.4"/><polygon points="464.7,279.9 469.2,283.2 467.5,288.5 461.9,288.5 460.1,283.2"/><polygon points="472.6,274.9 477.2,278.2 475.4,283.6 469.8,283.6 468.0,278.2"/><polygon points="480.7,267.1 485.2,270.4 483.5,275.7 477.8,275.7 476.1,270.4"/><polygon points="488.9,261.4 493.5,264.7 491.7,270.1 486.1,270.1 484.3,264.7"/><polygon points="497.3,260.7 501.9,264.0 500.1,269.4 494.5,269.4 492.7,264.0"/><polygon points="505.9,263.5 510.4,266.8 508.7,272.2 503.0,272.2 501.3,266.8"/><polygon points="514.6,269.9 519.1,273.2 517.4,278.6 511.8,278.6 510.0,273.2"/><polygon points="523.5,280.7 528.1,284.0 526.3,289.4 520.7,289.4 518.9,284.0"/><polygon points="532.6,293.3 537.1,296.6 535.4,302.0 529.8,302.0 528.0,296.6"/><polygon points="541.8,303.8 546.4,307.1 544.7,312.5 539.0,312.5 537.3,307.1"/><polygon points="551.3,308.9 555.9,312.2 554.1,317.6 548.5,317.6 546.7,312.2"/><polygon points="560.9,306.0 565.5,309.3 563.8,314.7 558.1,314.7 556.4,309.3"/><polygon points="570.8,302.0 575.3,305.3 573.6,310.7 568.0,310.7 566.2,305.3"/><polygon points="580.8,299.4 585.4,302.7 583.6,308.1 578.0,308.1 576.2,302.7"/><polygon points="591.0,301.3 595.6,304.6 593.9,310.0 588.2,310.0 586.5,304.6"/><polygon points="601.5,307.9 606.0,311.2 604.3,316.5 598.7,316.5 596.9,311.2"/><polygon points="612.1,318.1 616.7,321.4 615.0,326.8 609.3,326.8 607.6,321.4"/><polygon points="623.0,329.4 627.6,332.7 625.8,338.1 620.2,338.1 618.4,332.7"/><polygon points="634.1,338.4 638.6,341.7 636.9,347.1 631.2,347.1 629.5,341.7"/><polygon points="645.4,343.2 649.9,346.5 648.2,351.9 642.5,351.9 640.8,346.5"/><polygon points="656.9,339.7 661.5,343.0 659.7,348.4 654.1,348.4 652.3,343.0"/><polygon points="668.6,339.7 673.2,343.1 671.5,348.4 665.8,348.4 664.1,343.1"/><polygon points="680.6,342.3 685.2,345.6 683.5,351.0 677.8,351.0 676.1,345.6"/><polygon points="692.9,352.2 697.4,355.5 695.7,360.9 690.0,360.9 688.3,355.5"/><polygon points="705.3,361.2 709.9,364.5 708.2,369.9 702.5,369.9 700.8,364.5"/><polygon points="718.1,375.2 722.6,378.5 720.9,383.9 715.2,383.9 713.5,378.5"/><polygon points="731.0,377.5 735.6,380.8 733.9,386.2 728.2,386.2 726.5,380.8"/><polygon points="744.3,383.2 748.8,386.5 747.1,391.9 741.5,391.9 739.7,386.5"/><polygon points="757.8,382.1 762.3,385.4 760.6,390.8 755.0,390.8 753.2,385.4"/><polygon points="771.5,391.2 776.1,394.5 774.4,399.9 768.7,399.9 767.0,394.5"/><polygon points="785.6,403.2 790.2,406.5 788.4,411.9 782.8,411.9 781.0,406.5"/><polygon points="799.9,413.2 804.5,416.5 802.7,421.9 797.1,421.9 795.4,416.5"/><polygon points="814.5,418.0 819.1,421.3 817.4,426.7 811.7,426.7 810.0,421.3"/><polygon points="829.4,425.2 834.0,428.5 832.3,433.9 826.6,433.9 824.9,428.5"/><polygon points="844.7,430.3 849.2,433.6 847.5,438.9 841.8,438.9 840.1,433.6"/><polygon points="860.2,436.8 864.7,440.2 863.0,445.5 857.3,445.5 855.6,440.2"/><path d="M876.0,448.0V456.0" stroke="#eb7a2a" stroke-width="3.2"/><polygon points="876.0,447.2 880.5,450.5 878.8,455.9 873.2,455.9 871.4,450.5"/><path d="M892.1,471.0V480.0" stroke="#eb7a2a" stroke-width="3.2"/><polygon points="892.1,470.6 896.7,473.9 894.9,479.3 889.3,479.3 887.6,473.9"/><path d="M908.6,473.0V481.0" stroke="#eb7a2a" stroke-width="3.2"/><polygon points="908.6,472.2 913.1,475.5 911.4,480.9 905.8,480.9 904.0,475.5"/><path d="M925.4,478.0V486.0" stroke="#eb7a2a" stroke-width="3.2"/><polygon points="925.4,476.9 929.9,480.2 928.2,485.6 922.5,485.6 920.8,480.2"/><path d="M942.5,479.0V486.0" stroke="#eb7a2a" stroke-width="3.2"/><polygon points="942.5,477.8 947.1,481.1 945.3,486.5 939.7,486.5 937.9,481.1"/><path d="M960.0,502.0V510.0" stroke="#eb7a2a" stroke-width="3.2"/><polygon points="960.0,501.2 964.5,504.5 962.8,509.9 957.1,509.9 955.4,504.5"/></g>
<polyline points="170.0,37.3 172.0,37.8 174.1,38.5 176.2,39.2 178.3,40.1 180.5,41.2 182.8,42.6 185.0,44.4 187.3,46.6 189.7,49.4 192.1,53.1 194.6,57.8 197.1,63.9 199.6,71.9 202.3,82.3 204.9,95.9 207.6,113.4 210.4,135.9 213.2,163.6 216.1,192.4 219.0,204.5 222.0,190.8 225.1,170.2 228.2,153.0 231.4,140.2 234.6,131.1 238.0,125.1 241.3,121.4 244.8,119.7 248.3,119.8 251.9,121.5 255.5,124.9 259.3,130.1 263.1,137.1 266.9,146.3 270.9,157.9 274.9,172.2 279.0,189.4 283.2,208.7 287.5,226.6 291.9,235.6 296.3,230.9 300.9,218.3 305.5,204.8 310.2,193.8 315.1,185.7 320.0,180.7 325.0,178.4 330.1,178.9 335.3,182.0 340.7,187.8 346.1,196.4 351.6,207.9 357.3,222.1 363.0,237.8 368.9,251.9 374.9,258.6 381.0,255.5 387.3,246.5 393.6,236.9 400.1,229.6 406.7,225.6 413.5,225.1 420.4,228.2 427.4,234.9 434.6,244.9 441.9,257.8 449.3,271.4 456.9,281.5 464.7,284.0 472.6,279.4 480.7,272.6 488.9,267.4 497.3,265.8 505.9,268.2 514.6,274.9 523.5,285.1 532.6,297.3 541.8,307.9 551.3,312.6 560.9,310.9 570.8,306.9 580.8,304.7 591.0,306.4 601.5,312.5 612.1,322.3 623.0,333.6 634.1,342.3 645.4,345.4 656.9,344.6 668.6,344.1 680.6,347.1 692.9,354.4 705.3,364.9 718.1,375.5 731.0,382.3 744.3,384.9 757.8,386.9 771.5,391.7 785.6,400.6 799.9,412.1 814.5,422.8 829.4,430.0 844.7,435.1 860.2,441.6 876.0,453.0 892.1,467.1 908.6,480.8 925.4,491.4 942.5,498.4 960.0,506.4 973.4,513.9" fill="none" stroke="#eb7a2a" stroke-width="5" stroke-linejoin="round"/>
</g>
<rect x="144.2" y="21.4" width="825.3" height="527.0" fill="none" stroke="#111" stroke-width="2"/>
<path d="M136.0,29.4H144.2 M136.0,133.2H144.2 M139.7,102.0H144.2 M139.7,83.7H144.2 M139.7,70.7H144.2 M139.7,60.6H144.2 M139.7,52.4H144.2 M139.7,45.5H144.2 M139.7,39.5H144.2 M139.7,34.1H144.2 M136.0,237.0H144.2 M139.7,205.8H144.2 M139.7,187.5H144.2 M139.7,174.5H144.2 M139.7,164.4H144.2 M139.7,156.2H144.2 M139.7,149.3H144.2 M139.7,143.3H144.2 M139.7,137.9H144.2 M136.0,340.8H144.2 M139.7,309.6H144.2 M139.7,291.3H144.2 M139.7,278.3H144.2 M139.7,268.2H144.2 M139.7,260.0H144.2 M139.7,253.1H144.2 M139.7,247.1H144.2 M139.7,241.7H144.2 M136.0,444.6H144.2 M139.7,413.4H144.2 M139.7,395.1H144.2 M139.7,382.1H144.2 M139.7,372.0H144.2 M139.7,363.8H144.2 M139.7,356.9H144.2 M139.7,350.9H144.2 M139.7,345.5H144.2 M136.0,548.4H144.2 M139.7,517.2H144.2 M139.7,498.9H144.2 M139.7,485.9H144.2 M139.7,475.8H144.2 M139.7,467.6H144.2 M139.7,460.7H144.2 M139.7,454.7H144.2 M139.7,449.3H144.2 M219.2,548.4V556.6 M369.3,548.4V556.6 M519.4,548.4V556.6 M669.5,548.4V556.6 M819.6,548.4V556.6 M969.6,548.4V556.6" stroke="#111" stroke-width="2" fill="none"/>
<g font-family="Liberation Sans, sans-serif">
<text font-size="34.93" fill="#000" transform="translate(70.15,42.05) scale(1.0879,1)">10</text>
<text font-size="24.79" fill="#000" transform="translate(113.79,28.95) scale(1.0169,1)">0</text>
<text font-size="34.79" fill="#000" transform="translate(50.90,145.85) scale(1.0909,1)">10</text>
<text font-size="34.29" fill="#000" transform="translate(95.23,136.99) scale(0.8600,1)">−</text>
<text font-size="23.91" fill="#000" transform="translate(114.00,133.00) scale(1.0575,1)">1</text>
<text font-size="34.79" fill="#000" transform="translate(50.90,249.65) scale(1.0909,1)">10</text>
<text font-size="34.29" fill="#000" transform="translate(95.23,240.79) scale(0.8600,1)">−</text>
<text font-size="23.57" fill="#000" transform="translate(112.36,236.80) scale(1.2214,1)">2</text>
<text font-size="34.79" fill="#000" transform="translate(50.90,353.45) scale(1.0909,1)">10</text>
<text font-size="34.29" fill="#000" transform="translate(95.23,344.59) scale(0.8600,1)">−</text>
<text font-size="23.24" fill="#000" transform="translate(112.70,340.37) scale(1.1867,1)">3</text>
<text font-size="34.79" fill="#000" transform="translate(50.90,457.25) scale(1.0909,1)">10</text>
<text font-size="34.29" fill="#000" transform="translate(95.23,448.39) scale(0.8600,1)">−</text>
<text font-size="23.91" fill="#000" transform="translate(113.28,444.40) scale(1.0848,1)">4</text>
<text font-size="34.79" fill="#000" transform="translate(50.90,561.05) scale(1.0909,1)">10</text>
<text font-size="34.29" fill="#000" transform="translate(95.23,552.19) scale(0.8600,1)">−</text>
<text font-size="23.57" fill="#000" transform="translate(112.70,547.96) scale(1.1700,1)">5</text>
<text font-size="33.94" fill="#000" transform="translate(193.44,590.26) scale(1.1014,1)">0.2</text>
<text font-size="33.94" fill="#000" transform="translate(343.55,590.26) scale(1.0847,1)">0.4</text>
<text font-size="33.94" fill="#000" transform="translate(493.62,590.26) scale(1.0930,1)">0.6</text>
<text font-size="33.94" fill="#000" transform="translate(643.70,590.26) scale(1.0930,1)">0.8</text>
<text font-size="33.94" fill="#000" transform="translate(792.41,590.26) scale(1.1186,1)">1.0</text>
<text font-size="34.43" fill="#000" transform="translate(942.46,590.60) scale(1.1159,1)">1.2</text>
<text font-size="38.99" fill="#000" transform="translate(470.02,638.20) scale(1.1280,1)">Q [nm</text>
<text font-size="34.29" fill="#000" transform="translate(591.14,627.49) scale(1.0825,1)">−</text>
<text font-size="26.09" fill="#000" transform="translate(613.93,625.00) scale(1.0575,1)">1</text>
<text font-size="38.99" fill="#000" transform="translate(634.80,638.20) scale(1.0260,1)">]</text>
<text font-size="40.72" fill="#000" transform="translate(33.50,383.62) rotate(-90) scale(1.0483,1)">Reflectivity</text>
<text font-size="61.64" fill="#000" transform="translate(1.98,49.68) scale(0.8191,1)" stroke="#000" stroke-width="1.4" stroke-linejoin="round">a</text>
<text font-size="63.37" fill="#000" transform="translate(39.28,48.19) scale(0.6848,1)" stroke="#000" stroke-width="3" stroke-linejoin="round">)</text>
<line x1="698.3" y1="65.3" x2="771.2" y2="65.3" stroke="#376a98" stroke-width="4.4"/>
<line x1="698.3" y1="115" x2="771.2" y2="115" stroke="#dfa700" stroke-width="4.4"/>
<line x1="698.3" y1="164.3" x2="771.2" y2="164.3" stroke="#7db552" stroke-width="4.4"/>
<line x1="698.3" y1="213.5" x2="771.2" y2="213.5" stroke="#a5a5a5" stroke-width="4.4"/>
<line x1="698.3" y1="263" x2="771.2" y2="263" stroke="#eb7a2a" stroke-width="4.4"/>
<text font-size="39.13" fill="#000" transform="translate(790.47,73.30) scale(0.9845,1)">-444 mV</text>
<text font-size="38.73" fill="#000" transform="translate(785.08,122.01) scale(0.9893,1)">-1000 mV</text>
<text font-size="38.59" fill="#000" transform="translate(788.13,172.31) scale(1.0193,1)">-1100 mV</text>
<text font-size="38.03" fill="#000" transform="translate(786.86,221.42) scale(1.0187,1)">-1200 mV</text>
<text font-size="38.03" fill="#000" transform="translate(786.86,270.92) scale(1.0187,1)">-1300 mV</text>
</g>
<rect x="227.3" y="700" width="536.7" height="527.4000000000001" fill="#e8eef9"/>
<rect x="843.6" y="700" width="133.4" height="527.4000000000001" fill="#e8eef9"/>
<defs><clipPath id="cb"><rect x="122" y="695.2" width="855" height="532.2"/></clipPath></defs><g clip-path="url(#cb)">
<polyline points="128.1,1031.6 128.6,1031.6 129.2,1031.6 129.7,1031.6 130.2,1031.6 130.8,1031.6 131.3,1031.6 131.8,1031.6 132.4,1031.6 132.9,1031.6 133.4,1031.6 134.0,1031.6 134.5,1031.6 135.0,1031.6 135.5,1031.6 136.1,1031.6 136.6,1031.6 137.1,1031.6 137.7,1031.6 138.2,1031.6 138.7,1031.6 139.3,1031.6 139.8,1031.6 140.3,1031.6 140.9,1031.6 141.4,1031.6 141.9,1031.6 142.4,1031.6 143.0,1031.6 143.5,1031.6 144.0,1031.6 144.6,1031.6 145.1,1031.6 145.6,1031.6 146.2,1031.6 146.7,1031.6 147.2,1031.6 147.8,1031.6 148.3,1031.6 148.8,1031.6 149.3,1031.6 149.9,1031.6 150.4,1031.6 150.9,1031.6 151.5,1031.6 152.0,1031.6 152.5,1031.6 153.1,1031.6 153.6,1031.6 154.1,1031.6 154.7,1031.6 155.2,1031.6 155.7,1031.6 156.2,1031.6 156.8,1031.6 157.3,1031.6 157.8,1031.6 158.4,1031.6 158.9,1031.6 159.4,1031.6 160.0,1031.6 160.5,1031.6 161.0,1031.6 161.6,1031.6 162.1,1031.6 162.6,1031.6 163.1,1031.6 163.7,1031.6 164.2,1031.6 164.7,1031.6 165.3,1031.6 165.8,1031.6 166.3,1031.6 166.9,1031.6 167.4,1031.6 167.9,1031.6 168.5,1031.6 169.0,1031.6 169.5,1031.6 170.0,1031.6 170.6,1031.6 171.1,1031.6 171.6,1031.6 172.2,1031.6 172.7,1031.6 173.2,1031.6 173.8,1031.6 174.3,1031.6 174.8,1031.6 175.4,1031.6 175.9,1031.6 176.4,1031.6 176.9,1031.6 177.5,1031.6 178.0,1031.6 178.5,1031.5 179.1,1031.5 179.6,1031.5 180.1,1031.5 180.7,1031.5 181.2,1031.5 181.7,1031.4 182.3,1031.4 182.8,1031.4 183.3,1031.3 183.9,1031.3 184.4,1031.3 184.9,1031.2 185.4,1031.1 186.0,1031.1 186.5,1031.0 187.0,1030.9 187.6,1030.9 188.1,1030.8 188.6,1030.7 189.2,1030.5 189.7,1030.4 190.2,1030.3 190.8,1030.1 191.3,1030.0 191.8,1029.8 192.3,1029.6 192.9,1029.3 193.4,1029.1 193.9,1028.8 194.5,1028.5 195.0,1028.2 195.5,1027.9 196.1,1027.5 196.6,1027.1 197.1,1026.6 197.7,1026.2 198.2,1025.7 198.7,1025.1 199.2,1024.5 199.8,1023.8 200.3,1023.2 200.8,1022.4 201.4,1021.6 201.9,1020.8 202.4,1019.8 203.0,1018.9 203.5,1017.8 204.0,1016.7 204.6,1015.5 205.1,1014.3 205.6,1013.0 206.1,1011.6 206.7,1010.1 207.2,1008.5 207.7,1006.8 208.3,1005.1 208.8,1003.3 209.3,1001.4 209.9,999.3 210.4,997.2 210.9,995.0 211.5,992.7 212.0,990.3 212.5,987.8 213.0,985.2 213.6,982.5 214.1,979.6 214.6,976.7 215.2,973.7 215.7,970.6 216.2,967.4 216.8,964.0 217.3,960.6 217.8,957.1 218.4,953.5 218.9,949.8 219.4,946.0 219.9,942.2 220.5,938.2 221.0,934.2 221.5,930.1 222.1,925.9 222.6,921.7 223.1,917.4 223.7,913.1 224.2,908.7 224.7,904.3 225.3,899.8 225.8,895.3 226.3,890.7 226.8,886.2 227.4,881.6 227.9,877.1 228.4,872.5 229.0,867.9 229.5,863.3 230.0,858.8 230.6,854.3 231.1,849.8 231.6,845.3 232.2,840.9 232.7,836.5 233.2,832.2 233.7,827.9 234.3,823.7 234.8,819.6 235.3,815.5 235.9,811.5 236.4,807.6 236.9,803.8 237.5,800.1 238.0,796.4 238.5,792.8 239.1,789.4 239.6,786.0 240.1,782.7 240.6,779.5 241.2,776.4 241.7,773.5 242.2,770.6 242.8,767.8 243.3,765.2 243.8,762.6 244.4,760.1 244.9,757.7 245.4,755.5 246.0,753.3 246.5,751.2 247.0,749.2 247.5,747.4 248.1,745.6 248.6,743.9 249.1,742.2 249.7,740.7 250.2,739.3 250.7,737.9 251.3,736.6 251.8,735.4 252.3,734.2 252.9,733.1 253.4,732.1 253.9,731.2 254.4,730.3 255.0,729.5 255.5,728.7 256.0,728.0 256.6,727.3 257.1,726.7 257.6,726.1 258.2,725.5 258.7,725.0 259.2,724.6 259.8,724.1 260.3,723.8 260.8,723.4 261.4,723.1 261.9,722.7 262.4,722.5 262.9,722.2 263.5,722.0 264.0,721.8 264.5,721.6 265.1,721.4 265.6,721.2 266.1,721.1 266.7,720.9 267.2,720.8 267.7,720.7 268.3,720.6 268.8,720.5 269.3,720.4 269.8,720.4 270.4,720.3 270.9,720.2 271.4,720.2 272.0,720.1 272.5,720.1 273.0,720.1 273.6,720.0 274.1,720.0 274.6,720.0 275.2,719.9 275.7,719.9 276.2,719.9 276.7,719.9 277.3,719.9 277.8,719.9 278.3,719.8 278.9,719.8 279.4,719.8 279.9,719.8 280.5,719.8 281.0,719.8 281.5,719.8 282.1,719.8 282.6,719.8 283.1,719.8 283.6,719.8 284.2,719.8 284.7,719.8 285.2,719.8 285.8,719.8 286.3,719.8 286.8,719.8 287.4,719.8 287.9,719.8 288.4,719.8 289.0,719.8 289.5,719.8 290.0,719.8 290.5,719.8 291.1,719.8 291.6,719.8 292.1,719.8 292.7,719.8 293.2,719.8 293.7,719.8 294.3,719.8 294.8,719.8 295.3,719.8 295.9,719.8 296.4,719.8 296.9,719.8 297.4,719.8 298.0,719.8 298.5,719.8 299.0,719.8 299.6,719.8 300.1,719.8 300.6,719.8 301.2,719.8 301.7,719.8 302.2,719.8 302.8,719.8 303.3,719.8 303.8,719.8 304.3,719.8 304.9,719.8 305.4,719.8 305.9,719.8 306.5,719.8 307.0,719.8 307.5,719.8 308.1,719.8 308.6,719.8 309.1,719.8 309.7,719.8 310.2,719.8 310.7,719.8 311.2,719.8 311.8,719.8 312.3,719.8 312.8,719.8 313.4,719.8 313.9,719.8 314.4,719.8 315.0,719.8 315.5,719.8 316.0,719.8 316.6,719.8 317.1,719.8 317.6,719.8 318.1,719.8 318.7,719.8 319.2,719.8 319.7,719.8 320.3,719.8 320.8,719.8 321.3,719.8 321.9,719.8 322.4,719.8 322.9,719.8 323.5,719.8 324.0,719.8 324.5,719.8 325.0,719.8 325.6,719.8 326.1,719.8 326.6,719.8 327.2,719.8 327.7,719.8 328.2,719.8 328.8,719.8 329.3,719.8 329.8,719.8 330.4,719.8 330.9,719.8 331.4,719.8 332.0,719.8 332.5,719.8 333.0,719.8 333.5,719.8 334.1,719.8 334.6,719.8 335.1,719.8 335.7,719.8 336.2,719.8 336.7,719.8 337.3,719.8 337.8,719.8 338.3,719.8 338.9,719.8 339.4,719.8 339.9,719.8 340.4,719.8 341.0,719.8 341.5,719.8 342.0,719.8 342.6,719.8 343.1,719.8 343.6,719.8 344.2,719.8 344.7,719.8 345.2,719.8 345.8,719.8 346.3,719.8 346.8,719.8 347.3,719.8 347.9,719.8 348.4,719.8 348.9,719.8 349.5,719.8 350.0,719.8 350.5,719.8 351.1,719.8 351.6,719.8 352.1,719.8 352.7,719.8 353.2,719.8 353.7,719.8 354.2,719.8 354.8,719.8 355.3,719.8 355.8,719.8 356.4,719.8 356.9,719.8 357.4,719.8 358.0,719.8 358.5,719.8 359.0,719.8 359.6,719.8 360.1,719.8 360.6,719.8 361.1,719.8 361.7,719.8 362.2,719.8 362.7,719.8 363.3,719.8 363.8,719.8 364.3,719.8 364.9,719.8 365.4,719.8 365.9,719.8 366.5,719.8 367.0,719.8 367.5,719.8 368.0,719.8 368.6,719.8 369.1,719.8 369.6,719.8 370.2,719.8 370.7,719.8 371.2,719.8 371.8,719.8 372.3,719.8 372.8,719.8 373.4,719.8 373.9,719.8 374.4,719.8 374.9,719.8 375.5,719.8 376.0,719.8 376.5,719.8 377.1,719.8 377.6,719.8 378.1,719.8 378.7,719.8 379.2,719.8 379.7,719.8 380.3,719.8 380.8,719.8 381.3,719.8 381.8,719.8 382.4,719.8 382.9,719.8 383.4,719.8 384.0,719.8 384.5,719.8 385.0,719.8 385.6,719.8 386.1,719.8 386.6,719.8 387.2,719.8 387.7,719.8 388.2,719.8 388.7,719.8 389.3,719.8 389.8,719.8 390.3,719.8 390.9,719.8 391.4,719.8 391.9,719.8 392.5,719.8 393.0,719.8 393.5,719.8 394.1,719.8 394.6,719.8 395.1,719.8 395.6,719.8 396.2,719.8 396.7,719.8 397.2,719.8 397.8,719.8 398.3,719.8 398.8,719.8 399.4,719.8 399.9,719.8 400.4,719.8 401.0,719.8 401.5,719.8 402.0,719.8 402.5,719.8 403.1,719.8 403.6,719.8 404.1,719.8 404.7,719.8 405.2,719.8 405.7,719.8 406.3,719.8 406.8,719.8 407.3,719.8 407.9,719.8 408.4,719.8 408.9,719.8 409.5,719.8 410.0,719.8 410.5,719.8 411.0,719.8 411.6,719.8 412.1,719.8 412.6,719.8 413.2,719.8 413.7,719.8 414.2,719.8 414.8,719.8 415.3,719.8 415.8,719.8 416.4,719.8 416.9,719.8 417.4,719.8 417.9,719.8 418.5,719.8 419.0,719.8 419.5,719.8 420.1,719.8 420.6,719.8 421.1,719.8 421.7,719.8 422.2,719.8 422.7,719.8 423.3,719.8 423.8,719.8 424.3,719.8 424.8,719.8 425.4,719.8 425.9,719.8 426.4,719.8 427.0,719.8 427.5,719.8 428.0,719.8 428.6,719.8 429.1,719.8 429.6,719.8 430.2,719.8 430.7,719.8 431.2,719.8 431.7,719.8 432.3,719.8 432.8,719.8 433.3,719.8 433.9,719.8 434.4,719.8 434.9,719.8 435.5,719.8 436.0,719.8 436.5,719.8 437.1,719.8 437.6,719.8 438.1,719.8 438.6,719.8 439.2,719.8 439.7,719.8 440.2,719.8 440.8,719.8 441.3,719.8 441.8,719.8 442.4,719.8 442.9,719.8 443.4,719.8 444.0,719.8 444.5,719.8 445.0,719.8 445.5,719.8 446.1,719.8 446.6,719.8 447.1,719.8 447.7,719.8 448.2,719.8 448.7,719.8 449.3,719.8 449.8,719.8 450.3,719.8 450.9,719.8 451.4,719.8 451.9,719.8 452.4,719.8 453.0,719.8 453.5,719.8 454.0,719.8 454.6,719.8 455.1,719.8 455.6,719.8 456.2,719.8 456.7,719.8 457.2,719.8 457.8,719.8 458.3,719.8 458.8,719.8 459.3,719.8 459.9,719.8 460.4,719.8 460.9,719.8 461.5,719.8 462.0,719.8 462.5,719.8 463.1,719.8 463.6,719.8 464.1,719.8 464.7,719.8 465.2,719.8 465.7,719.8 466.2,719.8 466.8,719.8 467.3,719.8 467.8,719.8 468.4,719.8 468.9,719.8 469.4,719.8 470.0,719.8 470.5,719.8 471.0,719.8 471.6,719.8 472.1,719.8 472.6,719.8 473.1,719.8 473.7,719.8 474.2,719.8 474.7,719.8 475.3,719.8 475.8,719.8 476.3,719.8 476.9,719.8 477.4,719.8 477.9,719.8 478.5,719.8 479.0,719.8 479.5,719.8 480.0,719.8 480.6,719.8 481.1,719.8 481.6,719.8 482.2,719.8 482.7,719.8 483.2,719.8 483.8,719.8 484.3,719.8 484.8,719.8 485.4,719.8 485.9,719.8 486.4,719.8 487.0,719.8 487.5,719.8 488.0,719.8 488.5,719.8 489.1,719.8 489.6,719.8 490.1,719.8 490.7,719.8 491.2,719.8 491.7,719.8 492.3,719.8 492.8,719.8 493.3,719.8 493.9,719.8 494.4,719.8 494.9,719.8 495.4,719.8 496.0,719.8 496.5,719.8 497.0,719.8 497.6,719.8 498.1,719.8 498.6,719.8 499.2,719.8 499.7,719.8 500.2,719.8 500.8,719.8 501.3,719.8 501.8,719.8 502.3,719.8 502.9,719.8 503.4,719.8 503.9,719.8 504.5,719.8 505.0,719.8 505.5,719.8 506.1,719.8 506.6,719.8 507.1,719.8 507.7,719.8 508.2,719.8 508.7,719.8 509.2,719.8 509.8,719.8 510.3,719.8 510.8,719.8 511.4,719.8 511.9,719.8 512.4,719.8 513.0,719.8 513.5,719.8 514.0,719.8 514.6,719.8 515.1,719.8 515.6,719.8 516.1,719.8 516.7,719.8 517.2,719.8 517.7,719.8 518.3,719.8 518.8,719.8 519.3,719.8 519.9,719.8 520.4,719.8 520.9,719.8 521.5,719.8 522.0,719.8 522.5,719.8 523.0,719.8 523.6,719.8 524.1,719.8 524.6,719.8 525.2,719.8 525.7,719.8 526.2,719.8 526.8,719.8 527.3,719.8 527.8,719.8 528.4,719.8 528.9,719.8 529.4,719.8 529.9,719.8 530.5,719.8 531.0,719.8 531.5,719.8 532.1,719.8 532.6,719.8 533.1,719.8 533.7,719.8 534.2,719.8 534.7,719.8 535.3,719.8 535.8,719.8 536.3,719.8 536.8,719.8 537.4,719.8 537.9,719.8 538.4,719.8 539.0,719.8 539.5,719.8 540.0,719.8 540.6,719.8 541.1,719.8 541.6,719.8 542.2,719.8 542.7,719.8 543.2,719.8 543.7,719.8 544.3,719.8 544.8,719.8 545.3,719.8 545.9,719.8 546.4,719.8 546.9,719.8 547.5,719.8 548.0,719.8 548.5,719.8 549.1,719.8 549.6,719.8 550.1,719.8 550.6,719.8 551.2,719.8 551.7,719.8 552.2,719.8 552.8,719.8 553.3,719.8 553.8,719.8 554.4,719.8 554.9,719.8 555.4,719.8 556.0,719.8 556.5,719.8 557.0,719.8 557.5,719.8 558.1,719.8 558.6,719.8 559.1,719.8 559.7,719.8 560.2,719.8 560.7,719.8 561.3,719.8 561.8,719.8 562.3,719.8 562.9,719.8 563.4,719.8 563.9,719.8 564.5,719.8 565.0,719.8 565.5,719.8 566.0,719.8 566.6,719.8 567.1,719.8 567.6,719.8 568.2,719.8 568.7,719.8 569.2,719.8 569.8,719.8 570.3,719.8 570.8,719.8 571.4,719.8 571.9,719.8 572.4,719.8 572.9,719.8 573.5,719.8 574.0,719.8 574.5,719.8 575.1,719.8 575.6,719.8 576.1,719.8 576.7,719.8 577.2,719.8 577.7,719.8 578.3,719.8 578.8,719.8 579.3,719.8 579.8,719.8 580.4,719.8 580.9,719.8 581.4,719.8 582.0,719.8 582.5,719.8 583.0,719.8 583.6,719.8 584.1,719.8 584.6,719.8 585.2,719.8 585.7,719.8 586.2,719.8 586.7,719.8 587.3,719.8 587.8,719.8 588.3,719.8 588.9,719.8 589.4,719.8 589.9,719.8 590.5,719.8 591.0,719.8 591.5,719.8 592.1,719.8 592.6,719.8 593.1,719.8 593.6,719.8 594.2,719.8 594.7,719.8 595.2,719.8 595.8,719.8 596.3,719.8 596.8,719.8 597.4,719.8 597.9,719.8 598.4,719.8 599.0,719.8 599.5,719.8 600.0,719.8 600.5,719.8 601.1,719.8 601.6,719.8 602.1,719.8 602.7,719.8 603.2,719.8 603.7,719.8 604.3,719.8 604.8,719.8 605.3,719.8 605.9,719.8 606.4,719.8 606.9,719.8 607.4,719.8 608.0,719.8 608.5,719.8 609.0,719.8 609.6,719.8 610.1,719.8 610.6,719.8 611.2,719.8 611.7,719.8 612.2,719.8 612.8,719.8 613.3,719.8 613.8,719.8 614.3,719.8 614.9,719.8 615.4,719.8 615.9,719.8 616.5,719.8 617.0,719.8 617.5,719.8 618.1,719.8 618.6,719.8 619.1,719.8 619.7,719.8 620.2,719.8 620.7,719.8 621.2,719.8 621.8,719.8 622.3,719.8 622.8,719.8 623.4,719.8 623.9,719.8 624.4,719.8 625.0,719.8 625.5,719.8 626.0,719.8 626.6,719.8 627.1,719.8 627.6,719.8 628.1,719.8 628.7,719.8 629.2,719.8 629.7,719.8 630.3,719.8 630.8,719.8 631.3,719.8 631.9,719.8 632.4,719.8 632.9,719.8 633.5,719.8 634.0,719.8 634.5,719.8 635.0,719.8 635.6,719.8 636.1,719.8 636.6,719.8 637.2,719.8 637.7,719.8 638.2,719.8 638.8,719.8 639.3,719.8 639.8,719.8 640.4,719.8 640.9,719.8 641.4,719.8 642.0,719.8 642.5,719.8 643.0,719.8 643.5,719.8 644.1,719.8 644.6,719.8 645.1,719.8 645.7,719.8 646.2,719.8 646.7,719.8 647.3,719.8 647.8,719.8 648.3,719.8 648.9,719.8 649.4,719.8 649.9,719.8 650.4,719.8 651.0,719.8 651.5,719.8 652.0,719.8 652.6,719.8 653.1,719.8 653.6,719.8 654.2,719.8 654.7,719.8 655.2,719.8 655.8,719.8 656.3,719.8 656.8,719.8 657.3,719.8 657.9,719.8 658.4,719.8 658.9,719.8 659.5,719.8 660.0,719.8 660.5,719.8 661.1,719.8 661.6,719.8 662.1,719.8 662.7,719.8 663.2,719.8 663.7,719.8 664.2,719.8 664.8,719.8 665.3,719.8 665.8,719.8 666.4,719.8 666.9,719.8 667.4,719.8 668.0,719.8 668.5,719.8 669.0,719.8 669.6,719.8 670.1,719.8 670.6,719.8 671.1,719.8 671.7,719.8 672.2,719.8 672.7,719.8 673.3,719.8 673.8,719.8 674.3,719.8 674.9,719.8 675.4,719.8 675.9,719.8 676.5,719.8 677.0,719.8 677.5,719.8 678.0,719.8 678.6,719.8 679.1,719.8 679.6,719.8 680.2,719.8 680.7,719.8 681.2,719.8 681.8,719.8 682.3,719.8 682.8,719.8 683.4,719.8 683.9,719.8 684.4,719.8 684.9,719.8 685.5,719.8 686.0,719.8 686.5,719.8 687.1,719.8 687.6,719.8 688.1,719.8 688.7,719.8 689.2,719.8 689.7,719.8 690.3,719.8 690.8,719.8 691.3,719.8 691.8,719.8 692.4,719.8 692.9,719.8 693.4,719.8 694.0,719.8 694.5,719.8 695.0,719.8 695.6,719.8 696.1,719.8 696.6,719.8 697.2,719.8 697.7,719.8 698.2,719.8 698.7,719.8 699.3,719.8 699.8,719.8 700.3,719.8 700.9,719.8 701.4,719.8 701.9,719.8 702.5,719.8 703.0,719.8 703.5,719.8 704.1,719.8 704.6,719.8 705.1,719.8 705.6,719.8 706.2,719.8 706.7,719.8 707.2,719.8 707.8,719.8 708.3,719.8 708.8,719.8 709.4,719.8 709.9,719.8 710.4,719.8 711.0,719.8 711.5,719.8 712.0,719.8 712.6,719.8 713.1,719.8 713.6,719.8 714.1,719.8 714.7,719.8 715.2,719.8 715.7,719.8 716.3,719.8 716.8,719.8 717.3,719.8 717.9,719.8 718.4,719.8 718.9,719.8 719.5,719.8 720.0,719.8 720.5,719.8 721.0,719.8 721.6,719.8 722.1,719.8 722.6,719.8 723.2,719.8 723.7,719.8 724.2,719.8 724.8,719.8 725.3,719.8 725.8,719.8 726.4,719.8 726.9,719.8 727.4,719.8 727.9,719.8 728.5,719.8 729.0,719.8 729.5,719.8 730.1,719.8 730.6,719.8 731.1,719.8 731.7,719.8 732.2,719.8 732.7,719.8 733.3,719.8 733.8,719.8 734.3,719.8 734.8,719.8 735.4,719.8 735.9,719.8 736.4,719.8 737.0,719.8 737.5,719.8 738.0,719.8 738.6,719.8 739.1,719.8 739.6,719.8 740.2,719.8 740.7,719.8 741.2,719.8 741.7,719.8 742.3,719.8 742.8,719.8 743.3,719.8 743.9,719.8 744.4,719.8 744.9,719.8 745.5,719.8 746.0,719.8 746.5,719.8 747.1,719.8 747.6,719.8 748.1,719.8 748.6,719.8 749.2,719.8 749.7,719.8 750.2,719.8 750.8,719.8 751.3,719.8 751.8,719.8 752.4,719.8 752.9,719.8 753.4,719.8 754.0,719.8 754.5,719.8 755.0,719.8 755.5,719.9 756.1,720.0 756.6,720.2 757.1,720.6 757.7,721.3 758.2,722.5 758.7,724.5 759.3,727.5 759.8,732.0 760.3,738.5 760.9,747.5 761.4,759.5 761.9,774.8 762.4,793.7 763.0,815.9 763.5,841.2 764.0,868.8 764.6,897.8 765.1,927.1 765.6,955.6 766.2,982.1 766.7,1005.9 767.2,1026.5 767.8,1043.6 768.3,1057.2 768.8,1067.6 769.3,1075.3 769.9,1080.8 770.4,1084.5 770.9,1086.9 771.5,1088.5 772.0,1089.4 772.5,1089.9 773.1,1090.2 773.6,1090.4 774.1,1090.5 774.7,1090.5 775.2,1090.5 775.7,1090.5 776.2,1090.6 776.8,1090.6 777.3,1090.6 777.8,1090.6 778.4,1090.6 778.9,1090.6 779.4,1090.6 780.0,1090.6 780.5,1090.6 781.0,1090.6 781.6,1090.6 782.1,1090.6 782.6,1090.6 783.1,1090.6 783.7,1090.6 784.2,1090.6 784.7,1090.6 785.3,1090.6 785.8,1090.6 786.3,1090.6 786.9,1090.6 787.4,1090.6 787.9,1090.6 788.5,1090.6 789.0,1090.5 789.5,1090.5 790.1,1090.5 790.6,1090.5 791.1,1090.5 791.6,1090.5 792.2,1090.5 792.7,1090.5 793.2,1090.4 793.8,1090.4 794.3,1090.4 794.8,1090.3 795.4,1090.2 795.9,1090.1 796.4,1089.9 797.0,1089.7 797.5,1089.5 798.0,1089.2 798.5,1088.8 799.1,1088.4 799.6,1087.8 800.1,1087.1 800.7,1086.3 801.2,1085.3 801.7,1084.1 802.3,1082.7 802.8,1081.1 803.3,1079.3 803.9,1077.1 804.4,1074.7 804.9,1071.9 805.4,1068.9 806.0,1065.5 806.5,1061.7 807.0,1057.6 807.6,1053.1 808.1,1048.3 808.6,1043.2 809.2,1037.9 809.7,1032.2 810.2,1026.3 810.8,1020.2 811.3,1014.0 811.8,1007.7 812.3,1001.3 812.9,995.0 813.4,988.7 813.9,982.5 814.5,976.5 815.0,970.6 815.5,965.0 816.1,959.7 816.6,954.7 817.1,950.0 817.7,945.6 818.2,941.6 818.7,938.0 819.2,934.6 819.8,931.6 820.3,929.0 820.8,926.6 821.4,924.6 821.9,922.8 822.4,921.2 823.0,919.9 823.5,918.8 824.0,917.8 824.6,917.0 825.1,916.4 825.6,915.9 826.1,915.4 826.7,915.1 827.2,914.8 827.7,914.6 828.3,914.4 828.8,914.2 829.3,914.1 829.9,914.0 830.4,914.0 830.9,913.9 831.5,913.9 832.0,913.9 832.5,913.8 833.0,913.8 833.6,913.8 834.1,913.8 834.6,913.8 835.2,913.8 835.7,913.8 836.2,913.8 836.8,913.8 837.3,913.8 837.8,913.8 838.4,913.8 838.9,913.8 839.4,913.8 839.9,913.8 840.5,913.8 841.0,913.8 841.5,913.8 842.1,913.8 842.6,913.8 843.1,913.8 843.7,913.8 844.2,913.8 844.7,913.8 845.3,913.8 845.8,913.8 846.3,913.8 846.8,913.8 847.4,913.8 847.9,913.8 848.4,913.8 849.0,913.8 849.5,913.8 850.0,913.8 850.6,913.8 851.1,913.8 851.6,913.8 852.2,913.8 852.7,913.8 853.2,913.8 853.7,913.8 854.3,913.8 854.8,913.8 855.3,913.8 855.9,913.8 856.4,913.8 856.9,913.8 857.5,913.8 858.0,913.8 858.5,913.8 859.1,913.8 859.6,913.8 860.1,913.8 860.6,913.8 861.2,913.8 861.7,913.8 862.2,913.8 862.8,913.8 863.3,913.8 863.8,913.8 864.4,913.8 864.9,913.8 865.4,913.8 866.0,913.8 866.5,913.8 867.0,913.8 867.6,913.8 868.1,913.8 868.6,913.8 869.1,913.8 869.7,913.8 870.2,913.8 870.7,913.8 871.3,913.8 871.8,913.8 872.3,913.8 872.9,913.8 873.4,913.8 873.9,913.8 874.5,913.8 875.0,913.8 875.5,913.8 876.0,913.8 876.6,913.8 877.1,913.8 877.6,913.8 878.2,913.8 878.7,913.8 879.2,913.8 879.8,913.8 880.3,913.8 880.8,913.8 881.4,913.8 881.9,913.8 882.4,913.8 882.9,913.8 883.5,913.8 884.0,913.8 884.5,913.8 885.1,913.8 885.6,913.8 886.1,913.8 886.7,913.8 887.2,913.8 887.7,913.8 888.3,913.8 888.8,913.8 889.3,913.8 889.8,913.8 890.4,913.8 890.9,913.8 891.4,913.8 892.0,913.8 892.5,913.8 893.0,913.8 893.6,913.8 894.1,913.8 894.6,913.8 895.2,913.8 895.7,913.8 896.2,913.8 896.7,913.8 897.3,913.8 897.8,913.8 898.3,913.8 898.9,913.8 899.4,913.8 899.9,913.8 900.5,913.8 901.0,913.8 901.5,913.8 902.1,913.8 902.6,913.8 903.1,913.8 903.6,913.8 904.2,913.8 904.7,913.8 905.2,913.8 905.8,913.8 906.3,913.8 906.8,913.8 907.4,913.8 907.9,913.8 908.4,913.8 909.0,913.8 909.5,913.8 910.0,913.8 910.5,913.8 911.1,913.8 911.6,913.8 912.1,913.8 912.7,913.8 913.2,913.8 913.7,913.8 914.3,913.8 914.8,913.8 915.3,913.8 915.9,913.8 916.4,913.8 916.9,913.8 917.4,913.8 918.0,913.8 918.5,913.8 919.0,913.8 919.6,913.8 920.1,913.8 920.6,913.8 921.2,913.8 921.7,913.8 922.2,913.8 922.8,913.8 923.3,913.8 923.8,913.8 924.3,913.8 924.9,913.8 925.4,913.8 925.9,913.8 926.5,913.8 927.0,913.8 927.5,913.8 928.1,913.8 928.6,913.8 929.1,913.8 929.7,913.8 930.2,913.8 930.7,913.8 931.2,913.8 931.8,913.8 932.3,913.8 932.8,913.8 933.4,913.8 933.9,913.8 934.4,913.8 935.0,913.8 935.5,913.8 936.0,913.8 936.6,913.8 937.1,913.8 937.6,913.8 938.1,913.8 938.7,913.8 939.2,913.8 939.7,913.8 940.3,913.8 940.8,913.8 941.3,913.8 941.9,913.8 942.4,913.8 942.9,913.8 943.5,913.8 944.0,913.8 944.5,913.8 945.1,913.8 945.6,913.8 946.1,913.8 946.6,913.8 947.2,913.8 947.7,913.8 948.2,913.8 948.8,913.8 949.3,913.8 949.8,913.8 950.4,913.8 950.9,913.8 951.4,913.8 952.0,913.8 952.5,913.8 953.0,913.8 953.5,913.8 954.1,913.8 954.6,913.8 955.1,913.8 955.7,913.8 956.2,913.8 956.7,913.8 957.3,913.8 957.8,913.8 958.3,913.8 958.9,913.8 959.4,913.8 959.9,913.8 960.4,913.8 961.0,913.8 961.5,913.8 962.0,913.8 962.6,913.8 963.1,913.8 963.6,913.8 964.2,913.8 964.7,913.8 965.2,913.8 965.8,913.8 966.3,913.8 966.8,913.8 967.3,913.8 967.9,913.8 968.4,913.8 968.9,913.8 969.5,913.8 970.0,913.8 970.5,913.8 971.1,913.8 971.6,913.8 972.1,913.8 972.7,913.8 973.2,913.8 973.7,913.8 974.2,913.8 974.8,913.8 975.3,913.8 975.8,913.8 976.4,913.8 976.9,913.8" fill="none" stroke="#376a98" stroke-width="3" stroke-linejoin="round"/>
<polyline points="128.1,1031.6 128.6,1031.6 129.2,1031.6 129.7,1031.6 130.2,1031.6 130.8,1031.6 131.3,1031.6 131.8,1031.6 132.4,1031.6 132.9,1031.6 133.4,1031.6 134.0,1031.6 134.5,1031.6 135.0,1031.6 135.5,1031.6 136.1,1031.6 136.6,1031.6 137.1,1031.6 137.7,1031.6 138.2,1031.6 138.7,1031.6 139.3,1031.6 139.8,1031.6 140.3,1031.6 140.9,1031.6 141.4,1031.6 141.9,1031.6 142.4,1031.6 143.0,1031.6 143.5,1031.6 144.0,1031.6 144.6,1031.6 145.1,1031.6 145.6,1031.6 146.2,1031.6 146.7,1031.6 147.2,1031.6 147.8,1031.6 148.3,1031.6 148.8,1031.6 149.3,1031.6 149.9,1031.6 150.4,1031.6 150.9,1031.6 151.5,1031.6 152.0,1031.6 152.5,1031.6 153.1,1031.6 153.6,1031.6 154.1,1031.6 154.7,1031.6 155.2,1031.6 155.7,1031.6 156.2,1031.6 156.8,1031.6 157.3,1031.6 157.8,1031.6 158.4,1031.6 158.9,1031.6 159.4,1031.6 160.0,1031.6 160.5,1031.6 161.0,1031.6 161.6,1031.6 162.1,1031.6 162.6,1031.6 163.1,1031.6 163.7,1031.6 164.2,1031.6 164.7,1031.5 165.3,1031.5 165.8,1031.5 166.3,1031.5 166.9,1031.5 167.4,1031.5 167.9,1031.5 168.5,1031.4 169.0,1031.4 169.5,1031.4 170.0,1031.4 170.6,1031.3 171.1,1031.3 171.6,1031.3 172.2,1031.2 172.7,1031.2 173.2,1031.2 173.8,1031.1 174.3,1031.1 174.8,1031.0 175.4,1030.9 175.9,1030.9 176.4,1030.8 176.9,1030.7 177.5,1030.6 178.0,1030.5 178.5,1030.4 179.1,1030.3 179.6,1030.2 180.1,1030.1 180.7,1030.0 181.2,1029.8 181.7,1029.7 182.3,1029.5 182.8,1029.3 183.3,1029.1 183.9,1028.9 184.4,1028.7 184.9,1028.4 185.4,1028.2 186.0,1027.9 186.5,1027.6 187.0,1027.3 187.6,1027.0 188.1,1026.6 188.6,1026.2 189.2,1025.8 189.7,1025.4 190.2,1024.9 190.8,1024.4 191.3,1023.9 191.8,1023.4 192.3,1022.8 192.9,1022.2 193.4,1021.6 193.9,1020.9 194.5,1020.2 195.0,1019.4 195.5,1018.6 196.1,1017.8 196.6,1016.9 197.1,1016.0 197.7,1015.1 198.2,1014.0 198.7,1013.0 199.2,1011.9 199.8,1010.7 200.3,1009.5 200.8,1008.2 201.4,1006.9 201.9,1005.6 202.4,1004.1 203.0,1002.6 203.5,1001.1 204.0,999.5 204.6,997.8 205.1,996.1 205.6,994.3 206.1,992.5 206.7,990.5 207.2,988.6 207.7,986.5 208.3,984.4 208.8,982.3 209.3,980.0 209.9,977.7 210.4,975.4 210.9,972.9 211.5,970.4 212.0,967.9 212.5,965.3 213.0,962.6 213.6,959.9 214.1,957.1 214.6,954.2 215.2,951.3 215.7,948.3 216.2,945.3 216.8,942.2 217.3,939.1 217.8,935.9 218.4,932.7 218.9,929.4 219.4,926.1 219.9,922.8 220.5,919.4 221.0,916.0 221.5,912.5 222.1,909.0 222.6,905.5 223.1,902.0 223.7,898.4 224.2,894.8 224.7,891.2 225.3,887.6 225.8,884.0 226.3,880.4 226.8,876.7 227.4,873.1 227.9,869.5 228.4,865.8 229.0,862.2 229.5,858.6 230.0,855.0 230.6,851.4 231.1,847.9 231.6,844.4 232.2,840.9 232.7,837.4 233.2,833.9 233.7,830.5 234.3,827.1 234.8,823.8 235.3,820.5 235.9,817.3 236.4,814.1 236.9,810.9 237.5,807.8 238.0,804.8 238.5,801.8 239.1,798.8 239.6,795.9 240.1,793.1 240.6,790.3 241.2,787.6 241.7,785.0 242.2,782.4 242.8,779.9 243.3,777.4 243.8,775.0 244.4,772.7 244.9,770.4 245.4,768.2 246.0,766.0 246.5,764.0 247.0,762.0 247.5,760.0 248.1,758.1 248.6,756.3 249.1,754.5 249.7,752.8 250.2,751.2 250.7,749.6 251.3,748.1 251.8,746.6 252.3,745.2 252.9,743.9 253.4,742.6 253.9,741.4 254.4,740.2 255.0,739.0 255.5,738.0 256.0,736.9 256.6,735.9 257.1,735.0 257.6,734.1 258.2,733.2 258.7,732.4 259.2,731.6 259.8,730.9 260.3,730.2 260.8,729.5 261.4,728.9 261.9,728.3 262.4,727.8 262.9,727.2 263.5,726.7 264.0,726.3 264.5,725.8 265.1,725.4 265.6,725.0 266.1,724.6 266.7,724.3 267.2,724.0 267.7,723.7 268.3,723.4 268.8,723.1 269.3,722.9 269.8,722.6 270.4,722.4 270.9,722.2 271.4,722.0 272.0,721.8 272.5,721.7 273.0,721.5 273.6,721.4 274.1,721.3 274.6,721.1 275.2,721.0 275.7,720.9 276.2,720.8 276.7,720.7 277.3,720.6 277.8,720.6 278.3,720.5 278.9,720.4 279.4,720.4 279.9,720.3 280.5,720.3 281.0,720.2 281.5,720.2 282.1,720.1 282.6,720.1 283.1,720.1 283.6,720.0 284.2,720.0 284.7,720.0 285.2,720.0 285.8,720.0 286.3,719.9 286.8,719.9 287.4,719.9 287.9,719.9 288.4,719.9 289.0,719.9 289.5,719.9 290.0,719.8 290.5,719.8 291.1,719.8 291.6,719.8 292.1,719.8 292.7,719.8 293.2,719.8 293.7,719.8 294.3,719.8 294.8,719.8 295.3,719.8 295.9,719.8 296.4,719.8 296.9,719.8 297.4,719.8 298.0,719.8 298.5,719.8 299.0,719.8 299.6,719.8 300.1,719.8 300.6,719.8 301.2,719.8 301.7,719.8 302.2,719.8 302.8,719.8 303.3,719.8 303.8,719.8 304.3,719.8 304.9,719.8 305.4,719.8 305.9,719.8 306.5,719.8 307.0,719.8 307.5,719.8 308.1,719.8 308.6,719.8 309.1,719.8 309.7,719.8 310.2,719.8 310.7,719.8 311.2,719.8 311.8,719.8 312.3,719.8 312.8,719.8 313.4,719.8 313.9,719.8 314.4,719.8 315.0,719.8 315.5,719.8 316.0,719.8 316.6,719.8 317.1,719.8 317.6,719.8 318.1,719.8 318.7,719.8 319.2,719.8 319.7,719.8 320.3,719.8 320.8,719.8 321.3,719.8 321.9,719.8 322.4,719.8 322.9,719.8 323.5,719.8 324.0,719.8 324.5,719.8 325.0,719.8 325.6,719.8 326.1,719.8 326.6,719.8 327.2,719.8 327.7,719.8 328.2,719.8 328.8,719.8 329.3,719.8 329.8,719.8 330.4,719.8 330.9,719.8 331.4,719.8 332.0,719.8 332.5,719.8 333.0,719.8 333.5,719.8 334.1,719.8 334.6,719.8 335.1,719.8 335.7,719.8 336.2,719.8 336.7,719.8 337.3,719.8 337.8,719.8 338.3,719.8 338.9,719.8 339.4,719.8 339.9,719.8 340.4,719.8 341.0,719.8 341.5,719.8 342.0,719.8 342.6,719.8 343.1,719.8 343.6,719.8 344.2,719.8 344.7,719.8 345.2,719.8 345.8,719.8 346.3,719.8 346.8,719.8 347.3,719.8 347.9,719.8 348.4,719.8 348.9,719.8 349.5,719.8 350.0,719.8 350.5,719.8 351.1,719.8 351.6,719.8 352.1,719.8 352.7,719.8 353.2,719.8 353.7,719.8 354.2,719.8 354.8,719.8 355.3,719.8 355.8,719.8 356.4,719.8 356.9,719.8 357.4,719.8 358.0,719.8 358.5,719.8 359.0,719.8 359.6,719.8 360.1,719.8 360.6,719.8 361.1,719.8 361.7,719.8 362.2,719.8 362.7,719.8 363.3,719.8 363.8,719.8 364.3,719.8 364.9,719.8 365.4,719.8 365.9,719.8 366.5,719.8 367.0,719.8 367.5,719.8 368.0,719.8 368.6,719.8 369.1,719.8 369.6,719.8 370.2,719.8 370.7,719.8 371.2,719.8 371.8,719.8 372.3,719.8 372.8,719.8 373.4,719.8 373.9,719.8 374.4,719.8 374.9,719.8 375.5,719.8 376.0,719.8 376.5,719.8 377.1,719.8 377.6,719.8 378.1,719.8 378.7,719.8 379.2,719.8 379.7,719.8 380.3,719.8 380.8,719.8 381.3,719.8 381.8,719.8 382.4,719.8 382.9,719.8 383.4,719.8 384.0,719.8 384.5,719.8 385.0,719.8 385.6,719.8 386.1,719.8 386.6,719.8 387.2,719.8 387.7,719.8 388.2,719.8 388.7,719.8 389.3,719.8 389.8,719.8 390.3,719.8 390.9,719.8 391.4,719.8 391.9,719.8 392.5,719.8 393.0,719.8 393.5,719.8 394.1,719.8 394.6,719.8 395.1,719.8 395.6,719.8 396.2,719.8 396.7,719.8 397.2,719.8 397.8,719.8 398.3,719.8 398.8,719.8 399.4,719.8 399.9,719.8 400.4,719.8 401.0,719.8 401.5,719.8 402.0,719.8 402.5,719.8 403.1,719.8 403.6,719.8 404.1,719.8 404.7,719.8 405.2,719.8 405.7,719.8 406.3,719.8 406.8,719.8 407.3,719.8 407.9,719.8 408.4,719.8 408.9,719.8 409.5,719.8 410.0,719.8 410.5,719.8 411.0,719.8 411.6,719.8 412.1,719.8 412.6,719.8 413.2,719.8 413.7,719.8 414.2,719.8 414.8,719.8 415.3,719.8 415.8,719.8 416.4,719.8 416.9,719.8 417.4,719.8 417.9,719.8 418.5,719.8 419.0,719.8 419.5,719.8 420.1,719.8 420.6,719.8 421.1,719.8 421.7,719.8 422.2,719.8 422.7,719.8 423.3,719.8 423.8,719.8 424.3,719.8 424.8,719.8 425.4,719.8 425.9,719.8 426.4,719.8 427.0,719.8 427.5,719.8 428.0,719.8 428.6,719.8 429.1,719.8 429.6,719.8 430.2,719.8 430.7,719.8 431.2,719.8 431.7,719.8 432.3,719.8 432.8,719.8 433.3,719.8 433.9,719.8 434.4,719.8 434.9,719.8 435.5,719.8 436.0,719.8 436.5,719.8 437.1,719.8 437.6,719.8 438.1,719.8 438.6,719.8 439.2,719.8 439.7,719.8 440.2,719.8 440.8,719.8 441.3,719.8 441.8,719.8 442.4,719.8 442.9,719.8 443.4,719.8 444.0,719.8 444.5,719.8 445.0,719.8 445.5,719.8 446.1,719.8 446.6,719.8 447.1,719.8 447.7,719.8 448.2,719.8 448.7,719.8 449.3,719.8 449.8,719.8 450.3,719.8 450.9,719.8 451.4,719.8 451.9,719.8 452.4,719.8 453.0,719.8 453.5,719.8 454.0,719.8 454.6,719.8 455.1,719.8 455.6,719.8 456.2,719.8 456.7,719.8 457.2,719.8 457.8,719.8 458.3,719.8 458.8,719.8 459.3,719.8 459.9,719.8 460.4,719.8 460.9,719.8 461.5,719.8 462.0,719.8 462.5,719.8 463.1,719.8 463.6,719.8 464.1,719.8 464.7,719.8 465.2,719.8 465.7,719.8 466.2,719.8 466.8,719.8 467.3,719.8 467.8,719.8 468.4,719.8 468.9,719.8 469.4,719.8 470.0,719.8 470.5,719.8 471.0,719.8 471.6,719.8 472.1,719.8 472.6,719.8 473.1,719.8 473.7,719.8 474.2,719.8 474.7,719.8 475.3,719.8 475.8,719.8 476.3,719.8 476.9,719.8 477.4,719.8 477.9,719.8 478.5,719.8 479.0,719.8 479.5,719.8 480.0,719.8 480.6,719.8 481.1,719.8 481.6,719.8 482.2,719.8 482.7,719.8 483.2,719.8 483.8,719.8 484.3,719.8 484.8,719.8 485.4,719.8 485.9,719.8 486.4,719.8 487.0,719.8 487.5,719.8 488.0,719.8 488.5,719.8 489.1,719.8 489.6,719.8 490.1,719.8 490.7,719.8 491.2,719.8 491.7,719.8 492.3,719.8 492.8,719.8 493.3,719.8 493.9,719.8 494.4,719.8 494.9,719.8 495.4,719.8 496.0,719.8 496.5,719.8 497.0,719.8 497.6,719.8 498.1,719.8 498.6,719.8 499.2,719.8 499.7,719.8 500.2,719.8 500.8,719.8 501.3,719.8 501.8,719.8 502.3,719.8 502.9,719.8 503.4,719.8 503.9,719.8 504.5,719.8 505.0,719.8 505.5,719.8 506.1,719.8 506.6,719.8 507.1,719.8 507.7,719.8 508.2,719.8 508.7,719.8 509.2,719.8 509.8,719.8 510.3,719.8 510.8,719.8 511.4,719.8 511.9,719.8 512.4,719.8 513.0,719.8 513.5,719.8 514.0,719.8 514.6,719.8 515.1,719.8 515.6,719.8 516.1,719.8 516.7,719.8 517.2,719.8 517.7,719.8 518.3,719.8 518.8,719.8 519.3,719.8 519.9,719.8 520.4,719.8 520.9,719.8 521.5,719.8 522.0,719.8 522.5,719.8 523.0,719.8 523.6,719.8 524.1,719.8 524.6,719.8 525.2,719.8 525.7,719.8 526.2,719.8 526.8,719.8 527.3,719.8 527.8,719.8 528.4,719.8 528.9,719.8 529.4,719.8 529.9,719.8 530.5,719.8 531.0,719.8 531.5,719.8 532.1,719.8 532.6,719.8 533.1,719.8 533.7,719.8 534.2,719.8 534.7,719.8 535.3,719.8 535.8,719.8 536.3,719.8 536.8,719.8 537.4,719.8 537.9,719.8 538.4,719.8 539.0,719.8 539.5,719.8 540.0,719.8 540.6,719.8 541.1,719.8 541.6,719.8 542.2,719.8 542.7,719.8 543.2,719.8 543.7,719.8 544.3,719.8 544.8,719.8 545.3,719.8 545.9,719.8 546.4,719.8 546.9,719.8 547.5,719.8 548.0,719.8 548.5,719.8 549.1,719.8 549.6,719.8 550.1,719.8 550.6,719.8 551.2,719.8 551.7,719.8 552.2,719.8 552.8,719.8 553.3,719.8 553.8,719.8 554.4,719.8 554.9,719.8 555.4,719.8 556.0,719.8 556.5,719.8 557.0,719.8 557.5,719.8 558.1,719.8 558.6,719.8 559.1,719.8 559.7,719.8 560.2,719.8 560.7,719.8 561.3,719.8 561.8,719.8 562.3,719.8 562.9,719.8 563.4,719.8 563.9,719.8 564.5,719.8 565.0,719.8 565.5,719.8 566.0,719.8 566.6,719.8 567.1,719.8 567.6,719.8 568.2,719.8 568.7,719.8 569.2,719.8 569.8,719.8 570.3,719.8 570.8,719.8 571.4,719.8 571.9,719.8 572.4,719.8 572.9,719.8 573.5,719.8 574.0,719.8 574.5,719.8 575.1,719.8 575.6,719.8 576.1,719.8 576.7,719.8 577.2,719.8 577.7,719.8 578.3,719.8 578.8,719.8 579.3,719.8 579.8,719.8 580.4,719.8 580.9,719.8 581.4,719.8 582.0,719.8 582.5,719.8 583.0,719.8 583.6,719.8 584.1,719.8 584.6,719.8 585.2,719.8 585.7,719.8 586.2,719.8 586.7,719.8 587.3,719.8 587.8,719.8 588.3,719.8 588.9,719.8 589.4,719.8 589.9,719.8 590.5,719.8 591.0,719.8 591.5,719.8 592.1,719.8 592.6,719.8 593.1,719.8 593.6,719.8 594.2,719.8 594.7,719.8 595.2,719.8 595.8,719.8 596.3,719.8 596.8,719.8 597.4,719.8 597.9,719.8 598.4,719.8 599.0,719.8 599.5,719.8 600.0,719.8 600.5,719.8 601.1,719.8 601.6,719.8 602.1,719.8 602.7,719.8 603.2,719.8 603.7,719.8 604.3,719.8 604.8,719.8 605.3,719.8 605.9,719.8 606.4,719.8 606.9,719.8 607.4,719.8 608.0,719.8 608.5,719.8 609.0,719.8 609.6,719.8 610.1,719.8 610.6,719.8 611.2,719.8 611.7,719.8 612.2,719.8 612.8,719.8 613.3,719.8 613.8,719.8 614.3,719.8 614.9,719.8 615.4,719.8 615.9,719.8 616.5,719.8 617.0,719.8 617.5,719.8 618.1,719.8 618.6,719.8 619.1,719.8 619.7,719.8 620.2,719.8 620.7,719.8 621.2,719.8 621.8,719.8 622.3,719.8 622.8,719.8 623.4,719.8 623.9,719.8 624.4,719.8 625.0,719.8 625.5,719.8 626.0,719.8 626.6,719.8 627.1,719.8 627.6,719.8 628.1,719.8 628.7,719.8 629.2,719.8 629.7,719.8 630.3,719.8 630.8,719.8 631.3,719.8 631.9,719.8 632.4,719.8 632.9,719.8 633.5,719.8 634.0,719.8 634.5,719.8 635.0,719.8 635.6,719.8 636.1,719.8 636.6,719.8 637.2,719.8 637.7,719.8 638.2,719.8 638.8,719.8 639.3,719.8 639.8,719.8 640.4,719.8 640.9,719.8 641.4,719.8 642.0,719.8 642.5,719.8 643.0,719.8 643.5,719.8 644.1,719.8 644.6,719.8 645.1,719.8 645.7,719.8 646.2,719.8 646.7,719.8 647.3,719.8 647.8,719.8 648.3,719.8 648.9,719.8 649.4,719.8 649.9,719.8 650.4,719.8 651.0,719.8 651.5,719.8 652.0,719.8 652.6,719.8 653.1,719.8 653.6,719.8 654.2,719.8 654.7,719.8 655.2,719.8 655.8,719.8 656.3,719.8 656.8,719.8 657.3,719.8 657.9,719.8 658.4,719.8 658.9,719.8 659.5,719.8 660.0,719.8 660.5,719.8 661.1,719.8 661.6,719.8 662.1,719.8 662.7,719.8 663.2,719.8 663.7,719.8 664.2,719.8 664.8,719.8 665.3,719.8 665.8,719.8 666.4,719.8 666.9,719.8 667.4,719.8 668.0,719.8 668.5,719.8 669.0,719.8 669.6,719.8 670.1,719.8 670.6,719.8 671.1,719.8 671.7,719.8 672.2,719.8 672.7,719.8 673.3,719.8 673.8,719.8 674.3,719.8 674.9,719.8 675.4,719.8 675.9,719.8 676.5,719.8 677.0,719.8 677.5,719.8 678.0,719.8 678.6,719.8 679.1,719.8 679.6,719.8 680.2,719.8 680.7,719.8 681.2,719.8 681.8,719.8 682.3,719.8 682.8,719.8 683.4,719.8 683.9,719.8 684.4,719.8 684.9,719.8 685.5,719.8 686.0,719.8 686.5,719.8 687.1,719.8 687.6,719.8 688.1,719.8 688.7,719.8 689.2,719.8 689.7,719.8 690.3,719.8 690.8,719.8 691.3,719.8 691.8,719.8 692.4,719.8 692.9,719.8 693.4,719.8 694.0,719.8 694.5,719.8 695.0,719.8 695.6,719.8 696.1,719.8 696.6,719.8 697.2,719.8 697.7,719.8 698.2,719.8 698.7,719.8 699.3,719.8 699.8,719.8 700.3,719.8 700.9,719.8 701.4,719.8 701.9,719.8 702.5,719.8 703.0,719.8 703.5,719.8 704.1,719.8 704.6,719.8 705.1,719.8 705.6,719.8 706.2,719.8 706.7,719.8 707.2,719.8 707.8,719.8 708.3,719.8 708.8,719.8 709.4,719.8 709.9,719.8 710.4,719.8 711.0,719.8 711.5,719.8 712.0,719.8 712.6,719.8 713.1,719.8 713.6,719.8 714.1,719.8 714.7,719.8 715.2,719.8 715.7,719.8 716.3,719.8 716.8,719.8 717.3,719.8 717.9,719.8 718.4,719.8 718.9,719.8 719.5,719.8 720.0,719.8 720.5,719.8 721.0,719.8 721.6,719.8 722.1,719.8 722.6,719.8 723.2,719.8 723.7,719.8 724.2,719.8 724.8,719.8 725.3,719.8 725.8,719.8 726.4,719.8 726.9,719.8 727.4,719.8 727.9,719.8 728.5,719.8 729.0,719.8 729.5,719.8 730.1,719.8 730.6,719.8 731.1,719.8 731.7,719.8 732.2,719.8 732.7,719.8 733.3,719.8 733.8,719.8 734.3,719.8 734.8,719.8 735.4,719.8 735.9,719.8 736.4,719.8 737.0,719.8 737.5,719.8 738.0,719.8 738.6,719.8 739.1,719.8 739.6,719.8 740.2,719.8 740.7,719.8 741.2,719.8 741.7,719.8 742.3,719.8 742.8,719.8 743.3,719.8 743.9,719.8 744.4,719.8 744.9,719.8 745.5,719.8 746.0,719.8 746.5,719.8 747.1,719.8 747.6,719.8 748.1,719.8 748.6,719.8 749.2,719.8 749.7,719.8 750.2,719.8 750.8,719.8 751.3,719.8 751.8,719.8 752.4,719.8 752.9,719.8 753.4,719.8 754.0,719.8 754.5,719.8 755.0,719.8 755.5,719.9 756.1,720.1 756.6,720.3 757.1,720.8 757.7,721.7 758.2,723.2 758.7,725.6 759.3,729.3 759.8,734.9 760.3,742.9 760.9,754.0 761.4,768.7 761.9,787.6 762.4,810.8 763.0,838.2 763.5,869.3 764.0,903.4 764.6,939.1 765.1,975.2 765.6,1010.2 766.2,1042.9 766.7,1072.3 767.2,1097.6 767.8,1118.6 768.3,1135.4 768.8,1148.2 769.3,1157.7 769.9,1164.4 770.4,1169.0 770.9,1172.0 771.5,1173.9 772.0,1175.1 772.5,1175.7 773.1,1176.1 773.6,1176.3 774.1,1176.4 774.7,1176.5 775.2,1176.5 775.7,1176.5 776.2,1176.5 776.8,1176.5 777.3,1176.5 777.8,1176.5 778.4,1176.5 778.9,1176.5 779.4,1176.5 780.0,1176.5 780.5,1176.5 781.0,1176.5 781.6,1176.5 782.1,1176.5 782.6,1176.5 783.1,1176.5 783.7,1176.5 784.2,1176.5 784.7,1176.5 785.3,1176.5 785.8,1176.5 786.3,1176.5 786.9,1176.5 787.4,1176.5 787.9,1176.5 788.5,1176.5 789.0,1176.5 789.5,1176.5 790.1,1176.5 790.6,1176.5 791.1,1176.5 791.6,1176.5 792.2,1176.5 792.7,1176.5 793.2,1176.5 793.8,1176.5 794.3,1176.5 794.8,1176.5 795.4,1176.5 795.9,1176.4 796.4,1176.4 797.0,1176.4 797.5,1176.3 798.0,1176.3 798.5,1176.2 799.1,1176.1 799.6,1176.0 800.1,1175.8 800.7,1175.6 801.2,1175.3 801.7,1175.0 802.3,1174.5 802.8,1174.0 803.3,1173.3 803.9,1172.5 804.4,1171.4 804.9,1170.2 805.4,1168.8 806.0,1167.0 806.5,1165.0 807.0,1162.6 807.6,1159.9 808.1,1156.7 808.6,1153.1 809.2,1149.1 809.7,1144.5 810.2,1139.5 810.8,1133.9 811.3,1127.9 811.8,1121.3 812.3,1114.2 812.9,1106.6 813.4,1098.6 813.9,1090.2 814.5,1081.5 815.0,1072.5 815.5,1063.2 816.1,1053.9 816.6,1044.4 817.1,1035.0 817.7,1025.6 818.2,1016.4 818.7,1007.4 819.2,998.7 819.8,990.4 820.3,982.5 820.8,975.0 821.4,968.0 821.9,961.5 822.4,955.5 823.0,950.0 823.5,945.0 824.0,940.6 824.6,936.6 825.1,933.1 825.6,930.0 826.1,927.3 826.7,925.0 827.2,923.0 827.7,921.3 828.3,919.9 828.8,918.7 829.3,917.7 829.9,916.9 830.4,916.2 830.9,915.7 831.5,915.3 832.0,914.9 832.5,914.7 833.0,914.5 833.6,914.3 834.1,914.2 834.6,914.1 835.2,914.0 835.7,913.9 836.2,913.9 836.8,913.9 837.3,913.9 837.8,913.8 838.4,913.8 838.9,913.8 839.4,913.8 839.9,913.8 840.5,913.8 841.0,913.8 841.5,913.8 842.1,913.8 842.6,913.8 843.1,913.8 843.7,913.8 844.2,913.8 844.7,913.8 845.3,913.8 845.8,913.8 846.3,913.8 846.8,913.8 847.4,913.8 847.9,913.8 848.4,913.8 849.0,913.8 849.5,913.8 850.0,913.8 850.6,913.8 851.1,913.8 851.6,913.8 852.2,913.8 852.7,913.8 853.2,913.8 853.7,913.8 854.3,913.8 854.8,913.8 855.3,913.8 855.9,913.8 856.4,913.8 856.9,913.8 857.5,913.8 858.0,913.8 858.5,913.8 859.1,913.8 859.6,913.8 860.1,913.8 860.6,913.8 861.2,913.8 861.7,913.8 862.2,913.8 862.8,913.8 863.3,913.8 863.8,913.8 864.4,913.8 864.9,913.8 865.4,913.8 866.0,913.8 866.5,913.8 867.0,913.8 867.6,913.8 868.1,913.8 868.6,913.8 869.1,913.8 869.7,913.8 870.2,913.8 870.7,913.8 871.3,913.8 871.8,913.8 872.3,913.8 872.9,913.8 873.4,913.8 873.9,913.8 874.5,913.8 875.0,913.8 875.5,913.8 876.0,913.8 876.6,913.8 877.1,913.8 877.6,913.8 878.2,913.8 878.7,913.8 879.2,913.8 879.8,913.8 880.3,913.8 880.8,913.8 881.4,913.8 881.9,913.8 882.4,913.8 882.9,913.8 883.5,913.8 884.0,913.8 884.5,913.8 885.1,913.8 885.6,913.8 886.1,913.8 886.7,913.8 887.2,913.8 887.7,913.8 888.3,913.8 888.8,913.8 889.3,913.8 889.8,913.8 890.4,913.8 890.9,913.8 891.4,913.8 892.0,913.8 892.5,913.8 893.0,913.8 893.6,913.8 894.1,913.8 894.6,913.8 895.2,913.8 895.7,913.8 896.2,913.8 896.7,913.8 897.3,913.8 897.8,913.8 898.3,913.8 898.9,913.8 899.4,913.8 899.9,913.8 900.5,913.8 901.0,913.8 901.5,913.8 902.1,913.8 902.6,913.8 903.1,913.8 903.6,913.8 904.2,913.8 904.7,913.8 905.2,913.8 905.8,913.8 906.3,913.8 906.8,913.8 907.4,913.8 907.9,913.8 908.4,913.8 909.0,913.8 909.5,913.8 910.0,913.8 910.5,913.8 911.1,913.8 911.6,913.8 912.1,913.8 912.7,913.8 913.2,913.8 913.7,913.8 914.3,913.8 914.8,913.8 915.3,913.8 915.9,913.8 916.4,913.8 916.9,913.8 917.4,913.8 918.0,913.8 918.5,913.8 919.0,913.8 919.6,913.8 920.1,913.8 920.6,913.8 921.2,913.8 921.7,913.8 922.2,913.8 922.8,913.8 923.3,913.8 923.8,913.8 924.3,913.8 924.9,913.8 925.4,913.8 925.9,913.8 926.5,913.8 927.0,913.8 927.5,913.8 928.1,913.8 928.6,913.8 929.1,913.8 929.7,913.8 930.2,913.8 930.7,913.8 931.2,913.8 931.8,913.8 932.3,913.8 932.8,913.8 933.4,913.8 933.9,913.8 934.4,913.8 935.0,913.8 935.5,913.8 936.0,913.8 936.6,913.8 937.1,913.8 937.6,913.8 938.1,913.8 938.7,913.8 939.2,913.8 939.7,913.8 940.3,913.8 940.8,913.8 941.3,913.8 941.9,913.8 942.4,913.8 942.9,913.8 943.5,913.8 944.0,913.8 944.5,913.8 945.1,913.8 945.6,913.8 946.1,913.8 946.6,913.8 947.2,913.8 947.7,913.8 948.2,913.8 948.8,913.8 949.3,913.8 949.8,913.8 950.4,913.8 950.9,913.8 951.4,913.8 952.0,913.8 952.5,913.8 953.0,913.8 953.5,913.8 954.1,913.8 954.6,913.8 955.1,913.8 955.7,913.8 956.2,913.8 956.7,913.8 957.3,913.8 957.8,913.8 958.3,913.8 958.9,913.8 959.4,913.8 959.9,913.8 960.4,913.8 961.0,913.8 961.5,913.8 962.0,913.8 962.6,913.8 963.1,913.8 963.6,913.8 964.2,913.8 964.7,913.8 965.2,913.8 965.8,913.8 966.3,913.8 966.8,913.8 967.3,913.8 967.9,913.8 968.4,913.8 968.9,913.8 969.5,913.8 970.0,913.8 970.5,913.8 971.1,913.8 971.6,913.8 972.1,913.8 972.7,913.8 973.2,913.8 973.7,913.8 974.2,913.8 974.8,913.8 975.3,913.8 975.8,913.8 976.4,913.8 976.9,913.8" fill="none" stroke="#dfa700" stroke-width="3" stroke-linejoin="round"/>
<polyline points="128.1,1031.6 128.6,1031.6 129.2,1031.6 129.7,1031.6 130.2,1031.6 130.8,1031.6 131.3,1031.6 131.8,1031.6 132.4,1031.6 132.9,1031.6 133.4,1031.6 134.0,1031.6 134.5,1031.6 135.0,1031.6 135.5,1031.6 136.1,1031.6 136.6,1031.6 137.1,1031.6 137.7,1031.6 138.2,1031.6 138.7,1031.6 139.3,1031.6 139.8,1031.6 140.3,1031.6 140.9,1031.6 141.4,1031.6 141.9,1031.6 142.4,1031.6 143.0,1031.6 143.5,1031.6 144.0,1031.6 144.6,1031.6 145.1,1031.6 145.6,1031.6 146.2,1031.6 146.7,1031.6 147.2,1031.6 147.8,1031.6 148.3,1031.6 148.8,1031.6 149.3,1031.6 149.9,1031.6 150.4,1031.6 150.9,1031.6 151.5,1031.6 152.0,1031.6 152.5,1031.6 153.1,1031.6 153.6,1031.6 154.1,1031.6 154.7,1031.6 155.2,1031.6 155.7,1031.6 156.2,1031.6 156.8,1031.6 157.3,1031.6 157.8,1031.6 158.4,1031.6 158.9,1031.6 159.4,1031.6 160.0,1031.6 160.5,1031.6 161.0,1031.6 161.6,1031.6 162.1,1031.6 162.6,1031.6 163.1,1031.6 163.7,1031.6 164.2,1031.6 164.7,1031.5 165.3,1031.5 165.8,1031.5 166.3,1031.5 166.9,1031.5 167.4,1031.5 167.9,1031.5 168.5,1031.4 169.0,1031.4 169.5,1031.4 170.0,1031.4 170.6,1031.3 171.1,1031.3 171.6,1031.3 172.2,1031.2 172.7,1031.2 173.2,1031.2 173.8,1031.1 174.3,1031.1 174.8,1031.0 175.4,1030.9 175.9,1030.9 176.4,1030.8 176.9,1030.7 177.5,1030.6 178.0,1030.5 178.5,1030.4 179.1,1030.3 179.6,1030.2 180.1,1030.1 180.7,1030.0 181.2,1029.8 181.7,1029.7 182.3,1029.5 182.8,1029.3 183.3,1029.1 183.9,1028.9 184.4,1028.7 184.9,1028.4 185.4,1028.2 186.0,1027.9 186.5,1027.6 187.0,1027.3 187.6,1027.0 188.1,1026.6 188.6,1026.2 189.2,1025.8 189.7,1025.4 190.2,1024.9 190.8,1024.4 191.3,1023.9 191.8,1023.4 192.3,1022.8 192.9,1022.2 193.4,1021.6 193.9,1020.9 194.5,1020.2 195.0,1019.4 195.5,1018.6 196.1,1017.8 196.6,1016.9 197.1,1016.0 197.7,1015.1 198.2,1014.0 198.7,1013.0 199.2,1011.9 199.8,1010.7 200.3,1009.5 200.8,1008.2 201.4,1006.9 201.9,1005.6 202.4,1004.1 203.0,1002.6 203.5,1001.1 204.0,999.5 204.6,997.8 205.1,996.1 205.6,994.3 206.1,992.5 206.7,990.5 207.2,988.6 207.7,986.5 208.3,984.4 208.8,982.3 209.3,980.0 209.9,977.7 210.4,975.4 210.9,972.9 211.5,970.4 212.0,967.9 212.5,965.3 213.0,962.6 213.6,959.9 214.1,957.1 214.6,954.2 215.2,951.3 215.7,948.3 216.2,945.3 216.8,942.2 217.3,939.1 217.8,935.9 218.4,932.7 218.9,929.4 219.4,926.1 219.9,922.8 220.5,919.4 221.0,916.0 221.5,912.5 222.1,909.0 222.6,905.5 223.1,902.0 223.7,898.4 224.2,894.8 224.7,891.2 225.3,887.6 225.8,884.0 226.3,880.4 226.8,876.7 227.4,873.1 227.9,869.5 228.4,865.8 229.0,862.2 229.5,858.6 230.0,855.0 230.6,851.4 231.1,847.9 231.6,844.4 232.2,840.9 232.7,837.4 233.2,833.9 233.7,830.5 234.3,827.1 234.8,823.8 235.3,820.5 235.9,817.3 236.4,814.1 236.9,810.9 237.5,807.8 238.0,804.8 238.5,801.8 239.1,798.8 239.6,795.9 240.1,793.1 240.6,790.3 241.2,787.6 241.7,785.0 242.2,782.4 242.8,779.9 243.3,777.4 243.8,775.0 244.4,772.7 244.9,770.4 245.4,768.2 246.0,766.0 246.5,764.0 247.0,762.0 247.5,760.0 248.1,758.1 248.6,756.3 249.1,754.5 249.7,752.8 250.2,751.2 250.7,749.6 251.3,748.1 251.8,746.6 252.3,745.2 252.9,743.9 253.4,742.6 253.9,741.4 254.4,740.2 255.0,739.0 255.5,738.0 256.0,736.9 256.6,735.9 257.1,735.0 257.6,734.1 258.2,733.2 258.7,732.4 259.2,731.6 259.8,730.9 260.3,730.2 260.8,729.5 261.4,728.9 261.9,728.3 262.4,727.8 262.9,727.2 263.5,726.7 264.0,726.3 264.5,725.8 265.1,725.4 265.6,725.0 266.1,724.6 266.7,724.3 267.2,724.0 267.7,723.7 268.3,723.4 268.8,723.1 269.3,722.9 269.8,722.6 270.4,722.4 270.9,722.2 271.4,722.0 272.0,721.8 272.5,721.7 273.0,721.5 273.6,721.4 274.1,721.3 274.6,721.1 275.2,721.0 275.7,720.9 276.2,720.8 276.7,720.7 277.3,720.6 277.8,720.6 278.3,720.5 278.9,720.4 279.4,720.4 279.9,720.3 280.5,720.3 281.0,720.2 281.5,720.2 282.1,720.1 282.6,720.1 283.1,720.1 283.6,720.0 284.2,720.0 284.7,720.0 285.2,720.0 285.8,720.0 286.3,719.9 286.8,719.9 287.4,719.9 287.9,719.9 288.4,719.9 289.0,719.9 289.5,719.9 290.0,719.8 290.5,719.8 291.1,719.8 291.6,719.8 292.1,719.8 292.7,719.8 293.2,719.8 293.7,719.8 294.3,719.8 294.8,719.8 295.3,719.8 295.9,719.8 296.4,719.8 296.9,719.8 297.4,719.8 298.0,719.8 298.5,719.8 299.0,719.8 299.6,719.8 300.1,719.8 300.6,719.8 301.2,719.8 301.7,719.8 302.2,719.8 302.8,719.8 303.3,719.8 303.8,719.8 304.3,719.8 304.9,719.8 305.4,719.8 305.9,719.8 306.5,719.8 307.0,719.8 307.5,719.8 308.1,719.8 308.6,719.8 309.1,719.8 309.7,719.8 310.2,719.8 310.7,719.8 311.2,719.8 311.8,719.8 312.3,719.8 312.8,719.8 313.4,719.8 313.9,719.8 314.4,719.8 315.0,719.8 315.5,719.8 316.0,719.8 316.6,719.8 317.1,719.8 317.6,719.8 318.1,719.8 318.7,719.8 319.2,719.8 319.7,719.8 320.3,719.8 320.8,719.8 321.3,719.8 321.9,719.8 322.4,719.8 322.9,719.8 323.5,719.8 324.0,719.8 324.5,719.8 325.0,719.8 325.6,719.8 326.1,719.8 326.6,719.8 327.2,719.8 327.7,719.8 328.2,719.8 328.8,719.8 329.3,719.8 329.8,719.8 330.4,719.8 330.9,719.8 331.4,719.8 332.0,719.8 332.5,719.8 333.0,719.8 333.5,719.8 334.1,719.8 334.6,719.8 335.1,719.8 335.7,719.8 336.2,719.8 336.7,719.8 337.3,719.8 337.8,719.8 338.3,719.8 338.9,719.8 339.4,719.8 339.9,719.8 340.4,719.8 341.0,719.8 341.5,719.8 342.0,719.8 342.6,719.8 343.1,719.8 343.6,719.8 344.2,719.8 344.7,719.8 345.2,719.8 345.8,719.8 346.3,719.8 346.8,719.8 347.3,719.8 347.9,719.8 348.4,719.8 348.9,719.8 349.5,719.8 350.0,719.8 350.5,719.8 351.1,719.8 351.6,719.8 352.1,719.8 352.7,719.8 353.2,719.8 353.7,719.8 354.2,719.8 354.8,719.8 355.3,719.8 355.8,719.8 356.4,719.8 356.9,719.8 357.4,719.8 358.0,719.8 358.5,719.8 359.0,719.8 359.6,719.8 360.1,719.8 360.6,719.8 361.1,719.8 361.7,719.8 362.2,719.8 362.7,719.8 363.3,719.8 363.8,719.8 364.3,719.8 364.9,719.8 365.4,719.8 365.9,719.8 366.5,719.8 367.0,719.8 367.5,719.8 368.0,719.8 368.6,719.8 369.1,719.8 369.6,719.8 370.2,719.8 370.7,719.8 371.2,719.8 371.8,719.8 372.3,719.8 372.8,719.8 373.4,719.8 373.9,719.8 374.4,719.8 374.9,719.8 375.5,719.8 376.0,719.8 376.5,719.8 377.1,719.8 377.6,719.8 378.1,719.8 378.7,719.8 379.2,719.8 379.7,719.8 380.3,719.8 380.8,719.8 381.3,719.8 381.8,719.8 382.4,719.8 382.9,719.8 383.4,719.8 384.0,719.8 384.5,719.8 385.0,719.8 385.6,719.8 386.1,719.8 386.6,719.8 387.2,719.8 387.7,719.8 388.2,719.8 388.7,719.8 389.3,719.8 389.8,719.8 390.3,719.8 390.9,719.8 391.4,719.8 391.9,719.8 392.5,719.8 393.0,719.8 393.5,719.8 394.1,719.8 394.6,719.8 395.1,719.8 395.6,719.8 396.2,719.8 396.7,719.8 397.2,719.8 397.8,719.8 398.3,719.8 398.8,719.8 399.4,719.8 399.9,719.8 400.4,719.8 401.0,719.8 401.5,719.8 402.0,719.8 402.5,719.8 403.1,719.8 403.6,719.8 404.1,719.8 404.7,719.8 405.2,719.8 405.7,719.8 406.3,719.8 406.8,719.8 407.3,719.8 407.9,719.8 408.4,719.8 408.9,719.8 409.5,719.8 410.0,719.8 410.5,719.8 411.0,719.8 411.6,719.8 412.1,719.8 412.6,719.8 413.2,719.8 413.7,719.8 414.2,719.8 414.8,719.8 415.3,719.8 415.8,719.8 416.4,719.8 416.9,719.8 417.4,719.8 417.9,719.8 418.5,719.8 419.0,719.8 419.5,719.8 420.1,719.8 420.6,719.8 421.1,719.8 421.7,719.8 422.2,719.8 422.7,719.8 423.3,719.8 423.8,719.8 424.3,719.8 424.8,719.8 425.4,719.8 425.9,719.8 426.4,719.8 427.0,719.8 427.5,719.8 428.0,719.8 428.6,719.8 429.1,719.8 429.6,719.8 430.2,719.8 430.7,719.8 431.2,719.8 431.7,719.8 432.3,719.8 432.8,719.8 433.3,719.8 433.9,719.8 434.4,719.8 434.9,719.8 435.5,719.8 436.0,719.8 436.5,719.8 437.1,719.8 437.6,719.8 438.1,719.8 438.6,719.8 439.2,719.8 439.7,719.8 440.2,719.8 440.8,719.8 441.3,719.8 441.8,719.8 442.4,719.8 442.9,719.8 443.4,719.8 444.0,719.8 444.5,719.8 445.0,719.8 445.5,719.8 446.1,719.8 446.6,719.8 447.1,719.8 447.7,719.8 448.2,719.8 448.7,719.8 449.3,719.8 449.8,719.8 450.3,719.8 450.9,719.8 451.4,719.8 451.9,719.8 452.4,719.8 453.0,719.8 453.5,719.8 454.0,719.8 454.6,719.8 455.1,719.8 455.6,719.8 456.2,719.8 456.7,719.8 457.2,719.8 457.8,719.8 458.3,719.8 458.8,719.8 459.3,719.8 459.9,719.8 460.4,719.8 460.9,719.8 461.5,719.8 462.0,719.8 462.5,719.8 463.1,719.8 463.6,719.8 464.1,719.8 464.7,719.8 465.2,719.8 465.7,719.8 466.2,719.8 466.8,719.8 467.3,719.8 467.8,719.8 468.4,719.8 468.9,719.8 469.4,719.8 470.0,719.8 470.5,719.8 471.0,719.8 471.6,719.8 472.1,719.8 472.6,719.8 473.1,719.8 473.7,719.8 474.2,719.8 474.7,719.8 475.3,719.8 475.8,719.8 476.3,719.8 476.9,719.8 477.4,719.8 477.9,719.8 478.5,719.8 479.0,719.8 479.5,719.8 480.0,719.8 480.6,719.8 481.1,719.8 481.6,719.8 482.2,719.8 482.7,719.8 483.2,719.8 483.8,719.8 484.3,719.8 484.8,719.8 485.4,719.8 485.9,719.8 486.4,719.8 487.0,719.8 487.5,719.8 488.0,719.8 488.5,719.8 489.1,719.8 489.6,719.8 490.1,719.8 490.7,719.8 491.2,719.8 491.7,719.8 492.3,719.8 492.8,719.8 493.3,719.8 493.9,719.8 494.4,719.8 494.9,719.8 495.4,719.8 496.0,719.8 496.5,719.8 497.0,719.8 497.6,719.8 498.1,719.8 498.6,719.8 499.2,719.8 499.7,719.8 500.2,719.8 500.8,719.8 501.3,719.8 501.8,719.8 502.3,719.8 502.9,719.8 503.4,719.8 503.9,719.8 504.5,719.8 505.0,719.8 505.5,719.8 506.1,719.8 506.6,719.8 507.1,719.8 507.7,719.8 508.2,719.8 508.7,719.8 509.2,719.8 509.8,719.8 510.3,719.8 510.8,719.8 511.4,719.8 511.9,719.8 512.4,719.8 513.0,719.8 513.5,719.8 514.0,719.8 514.6,719.8 515.1,719.8 515.6,719.8 516.1,719.8 516.7,719.8 517.2,719.8 517.7,719.8 518.3,719.8 518.8,719.8 519.3,719.8 519.9,719.8 520.4,719.8 520.9,719.8 521.5,719.8 522.0,719.8 522.5,719.8 523.0,719.8 523.6,719.8 524.1,719.8 524.6,719.8 525.2,719.8 525.7,719.8 526.2,719.8 526.8,719.8 527.3,719.8 527.8,719.8 528.4,719.8 528.9,719.8 529.4,719.8 529.9,719.8 530.5,719.8 531.0,719.8 531.5,719.8 532.1,719.8 532.6,719.8 533.1,719.8 533.7,719.8 534.2,719.8 534.7,719.8 535.3,719.8 535.8,719.8 536.3,719.8 536.8,719.8 537.4,719.8 537.9,719.8 538.4,719.8 539.0,719.8 539.5,719.8 540.0,719.8 540.6,719.8 541.1,719.8 541.6,719.8 542.2,719.8 542.7,719.8 543.2,719.8 543.7,719.8 544.3,719.8 544.8,719.8 545.3,719.8 545.9,719.8 546.4,719.8 546.9,719.8 547.5,719.8 548.0,719.8 548.5,719.8 549.1,719.8 549.6,719.8 550.1,719.8 550.6,719.8 551.2,719.8 551.7,719.8 552.2,719.8 552.8,719.8 553.3,719.8 553.8,719.8 554.4,719.8 554.9,719.8 555.4,719.8 556.0,719.8 556.5,719.8 557.0,719.8 557.5,719.8 558.1,719.8 558.6,719.8 559.1,719.8 559.7,719.8 560.2,719.8 560.7,719.8 561.3,719.8 561.8,719.8 562.3,719.8 562.9,719.8 563.4,719.8 563.9,719.8 564.5,719.8 565.0,719.8 565.5,719.8 566.0,719.8 566.6,719.8 567.1,719.8 567.6,719.8 568.2,719.8 568.7,719.8 569.2,719.8 569.8,719.8 570.3,719.8 570.8,719.8 571.4,719.8 571.9,719.8 572.4,719.8 572.9,719.8 573.5,719.8 574.0,719.8 574.5,719.8 575.1,719.8 575.6,719.8 576.1,719.8 576.7,719.8 577.2,719.8 577.7,719.8 578.3,719.8 578.8,719.8 579.3,719.8 579.8,719.8 580.4,719.8 580.9,719.8 581.4,719.8 582.0,719.8 582.5,719.8 583.0,719.8 583.6,719.8 584.1,719.8 584.6,719.8 585.2,719.8 585.7,719.8 586.2,719.8 586.7,719.8 587.3,719.8 587.8,719.8 588.3,719.8 588.9,719.8 589.4,719.8 589.9,719.8 590.5,719.8 591.0,719.8 591.5,719.8 592.1,719.8 592.6,719.8 593.1,719.8 593.6,719.8 594.2,719.8 594.7,719.8 595.2,719.8 595.8,719.8 596.3,719.8 596.8,719.8 597.4,719.8 597.9,719.8 598.4,719.8 599.0,719.8 599.5,719.8 600.0,719.8 600.5,719.8 601.1,719.8 601.6,719.8 602.1,719.8 602.7,719.8 603.2,719.8 603.7,719.8 604.3,719.8 604.8,719.8 605.3,719.8 605.9,719.8 606.4,719.8 606.9,719.8 607.4,719.8 608.0,719.8 608.5,719.8 609.0,719.8 609.6,719.8 610.1,719.8 610.6,719.8 611.2,719.8 611.7,719.8 612.2,719.8 612.8,719.8 613.3,719.8 613.8,719.8 614.3,719.8 614.9,719.8 615.4,719.8 615.9,719.8 616.5,719.8 617.0,719.8 617.5,719.8 618.1,719.8 618.6,719.8 619.1,719.8 619.7,719.8 620.2,719.8 620.7,719.8 621.2,719.8 621.8,719.8 622.3,719.8 622.8,719.8 623.4,719.8 623.9,719.8 624.4,719.8 625.0,719.8 625.5,719.8 626.0,719.8 626.6,719.8 627.1,719.8 627.6,719.8 628.1,719.8 628.7,719.8 629.2,719.8 629.7,719.8 630.3,719.8 630.8,719.8 631.3,719.8 631.9,719.8 632.4,719.8 632.9,719.8 633.5,719.8 634.0,719.8 634.5,719.8 635.0,719.8 635.6,719.8 636.1,719.8 636.6,719.8 637.2,719.8 637.7,719.8 638.2,719.8 638.8,719.8 639.3,719.8 639.8,719.8 640.4,719.8 640.9,719.8 641.4,719.8 642.0,719.8 642.5,719.8 643.0,719.8 643.5,719.8 644.1,719.8 644.6,719.8 645.1,719.8 645.7,719.8 646.2,719.8 646.7,719.8 647.3,719.8 647.8,719.8 648.3,719.8 648.9,719.8 649.4,719.8 649.9,719.8 650.4,719.8 651.0,719.8 651.5,719.8 652.0,719.8 652.6,719.8 653.1,719.8 653.6,719.8 654.2,719.8 654.7,719.8 655.2,719.8 655.8,719.8 656.3,719.8 656.8,719.8 657.3,719.8 657.9,719.8 658.4,719.8 658.9,719.8 659.5,719.8 660.0,719.8 660.5,719.8 661.1,719.8 661.6,719.8 662.1,719.8 662.7,719.8 663.2,719.8 663.7,719.8 664.2,719.8 664.8,719.8 665.3,719.8 665.8,719.8 666.4,719.8 666.9,719.8 667.4,719.8 668.0,719.8 668.5,719.8 669.0,719.8 669.6,719.8 670.1,719.8 670.6,719.8 671.1,719.8 671.7,719.8 672.2,719.8 672.7,719.8 673.3,719.8 673.8,719.8 674.3,719.8 674.9,719.8 675.4,719.8 675.9,719.8 676.5,719.8 677.0,719.8 677.5,719.8 678.0,719.8 678.6,719.8 679.1,719.8 679.6,719.8 680.2,719.8 680.7,719.8 681.2,719.8 681.8,719.8 682.3,719.8 682.8,719.8 683.4,719.8 683.9,719.8 684.4,719.8 684.9,719.8 685.5,719.8 686.0,719.8 686.5,719.8 687.1,719.8 687.6,719.8 688.1,719.8 688.7,719.8 689.2,719.8 689.7,719.8 690.3,719.8 690.8,719.8 691.3,719.8 691.8,719.8 692.4,719.8 692.9,719.8 693.4,719.8 694.0,719.8 694.5,719.8 695.0,719.8 695.6,719.8 696.1,719.8 696.6,719.8 697.2,719.8 697.7,719.8 698.2,719.8 698.7,719.8 699.3,719.8 699.8,719.8 700.3,719.8 700.9,719.8 701.4,719.8 701.9,719.8 702.5,719.8 703.0,719.8 703.5,719.8 704.1,719.8 704.6,719.8 705.1,719.8 705.6,719.8 706.2,719.8 706.7,719.8 707.2,719.8 707.8,719.8 708.3,719.8 708.8,719.8 709.4,719.8 709.9,719.8 710.4,719.8 711.0,719.8 711.5,719.8 712.0,719.8 712.6,719.8 713.1,719.8 713.6,719.8 714.1,719.8 714.7,719.8 715.2,719.8 715.7,719.8 716.3,719.8 716.8,719.8 717.3,719.8 717.9,719.8 718.4,719.8 718.9,719.8 719.5,719.8 720.0,719.8 720.5,719.8 721.0,719.8 721.6,719.8 722.1,719.8 722.6,719.8 723.2,719.8 723.7,719.8 724.2,719.8 724.8,719.8 725.3,719.8 725.8,719.8 726.4,719.8 726.9,719.8 727.4,719.8 727.9,719.8 728.5,719.8 729.0,719.8 729.5,719.8 730.1,719.8 730.6,719.8 731.1,719.8 731.7,719.8 732.2,719.8 732.7,719.8 733.3,719.8 733.8,719.8 734.3,719.8 734.8,719.8 735.4,719.8 735.9,719.8 736.4,719.8 737.0,719.8 737.5,719.8 738.0,719.8 738.6,719.8 739.1,719.8 739.6,719.8 740.2,719.8 740.7,719.8 741.2,719.8 741.7,719.8 742.3,719.8 742.8,719.8 743.3,719.8 743.9,719.8 744.4,719.8 744.9,719.8 745.5,719.8 746.0,719.8 746.5,719.8 747.1,719.8 747.6,719.8 748.1,719.8 748.6,719.8 749.2,719.8 749.7,719.8 750.2,719.8 750.8,719.8 751.3,719.8 751.8,719.8 752.4,719.8 752.9,719.8 753.4,719.8 754.0,719.8 754.5,719.8 755.0,719.8 755.5,719.9 756.1,720.1 756.6,720.4 757.1,720.9 757.7,721.8 758.2,723.4 758.7,725.9 759.3,729.9 759.8,735.8 760.3,744.2 760.9,756.0 761.4,771.6 761.9,791.5 762.4,816.1 763.0,845.1 763.5,878.0 764.0,914.0 764.6,951.9 765.1,990.0 765.6,1027.1 766.2,1061.7 766.7,1092.8 767.2,1119.6 767.8,1141.8 768.3,1159.6 768.8,1173.2 769.3,1183.2 769.9,1190.3 770.4,1195.2 770.9,1198.3 771.5,1200.3 772.0,1201.6 772.5,1202.3 773.1,1202.7 773.6,1202.9 774.1,1203.0 774.7,1203.0 775.2,1203.1 775.7,1203.1 776.2,1203.1 776.8,1203.1 777.3,1203.1 777.8,1203.1 778.4,1203.1 778.9,1203.1 779.4,1203.1 780.0,1203.1 780.5,1203.1 781.0,1203.1 781.6,1203.1 782.1,1203.1 782.6,1203.1 783.1,1203.1 783.7,1203.1 784.2,1203.1 784.7,1203.1 785.3,1203.1 785.8,1203.1 786.3,1203.1 786.9,1203.1 787.4,1203.1 787.9,1203.1 788.5,1203.1 789.0,1203.1 789.5,1203.1 790.1,1203.1 790.6,1203.1 791.1,1203.1 791.6,1203.1 792.2,1203.1 792.7,1203.1 793.2,1203.1 793.8,1203.1 794.3,1203.1 794.8,1203.1 795.4,1203.1 795.9,1203.1 796.4,1203.1 797.0,1203.0 797.5,1203.0 798.0,1203.0 798.5,1203.0 799.1,1203.0 799.6,1202.9 800.1,1202.8 800.7,1202.8 801.2,1202.7 801.7,1202.5 802.3,1202.3 802.8,1202.1 803.3,1201.8 803.9,1201.4 804.4,1200.9 804.9,1200.3 805.4,1199.6 806.0,1198.7 806.5,1197.5 807.0,1196.2 807.6,1194.6 808.1,1192.7 808.6,1190.5 809.2,1187.9 809.7,1184.9 810.2,1181.4 810.8,1177.5 811.3,1173.0 811.8,1168.0 812.3,1162.5 812.9,1156.4 813.4,1149.7 813.9,1142.5 814.5,1134.7 815.0,1126.4 815.5,1117.6 816.1,1108.3 816.6,1098.7 817.1,1088.8 817.7,1078.6 818.2,1068.3 818.7,1057.9 819.2,1047.5 819.8,1037.2 820.3,1027.1 820.8,1017.2 821.4,1007.6 821.9,998.4 822.4,989.7 823.0,981.4 823.5,973.7 824.0,966.5 824.6,959.9 825.1,953.8 825.6,948.3 826.1,943.4 826.7,939.0 827.2,935.1 827.7,931.7 828.3,928.7 828.8,926.2 829.3,924.0 829.9,922.1 830.4,920.5 830.9,919.2 831.5,918.1 832.0,917.2 832.5,916.5 833.0,915.9 833.6,915.4 834.1,915.1 834.6,914.8 835.2,914.5 835.7,914.3 836.2,914.2 836.8,914.1 837.3,914.0 837.8,914.0 838.4,913.9 838.9,913.9 839.4,913.9 839.9,913.8 840.5,913.8 841.0,913.8 841.5,913.8 842.1,913.8 842.6,913.8 843.1,913.8 843.7,913.8 844.2,913.8 844.7,913.8 845.3,913.8 845.8,913.8 846.3,913.8 846.8,913.8 847.4,913.8 847.9,913.8 848.4,913.8 849.0,913.8 849.5,913.8 850.0,913.8 850.6,913.8 851.1,913.8 851.6,913.8 852.2,913.8 852.7,913.8 853.2,913.8 853.7,913.8 854.3,913.8 854.8,913.8 855.3,913.8 855.9,913.8 856.4,913.8 856.9,913.8 857.5,913.8 858.0,913.8 858.5,913.8 859.1,913.8 859.6,913.8 860.1,913.8 860.6,913.8 861.2,913.8 861.7,913.8 862.2,913.8 862.8,913.8 863.3,913.8 863.8,913.8 864.4,913.8 864.9,913.8 865.4,913.8 866.0,913.8 866.5,913.8 867.0,913.8 867.6,913.8 868.1,913.8 868.6,913.8 869.1,913.8 869.7,913.8 870.2,913.8 870.7,913.8 871.3,913.8 871.8,913.8 872.3,913.8 872.9,913.8 873.4,913.8 873.9,913.8 874.5,913.8 875.0,913.8 875.5,913.8 876.0,913.8 876.6,913.8 877.1,913.8 877.6,913.8 878.2,913.8 878.7,913.8 879.2,913.8 879.8,913.8 880.3,913.8 880.8,913.8 881.4,913.8 881.9,913.8 882.4,913.8 882.9,913.8 883.5,913.8 884.0,913.8 884.5,913.8 885.1,913.8 885.6,913.8 886.1,913.8 886.7,913.8 887.2,913.8 887.7,913.8 888.3,913.8 888.8,913.8 889.3,913.8 889.8,913.8 890.4,913.8 890.9,913.8 891.4,913.8 892.0,913.8 892.5,913.8 893.0,913.8 893.6,913.8 894.1,913.8 894.6,913.8 895.2,913.8 895.7,913.8 896.2,913.8 896.7,913.8 897.3,913.8 897.8,913.8 898.3,913.8 898.9,913.8 899.4,913.8 899.9,913.8 900.5,913.8 901.0,913.8 901.5,913.8 902.1,913.8 902.6,913.8 903.1,913.8 903.6,913.8 904.2,913.8 904.7,913.8 905.2,913.8 905.8,913.8 906.3,913.8 906.8,913.8 907.4,913.8 907.9,913.8 908.4,913.8 909.0,913.8 909.5,913.8 910.0,913.8 910.5,913.8 911.1,913.8 911.6,913.8 912.1,913.8 912.7,913.8 913.2,913.8 913.7,913.8 914.3,913.8 914.8,913.8 915.3,913.8 915.9,913.8 916.4,913.8 916.9,913.8 917.4,913.8 918.0,913.8 918.5,913.8 919.0,913.8 919.6,913.8 920.1,913.8 920.6,913.8 921.2,913.8 921.7,913.8 922.2,913.8 922.8,913.8 923.3,913.8 923.8,913.8 924.3,913.8 924.9,913.8 925.4,913.8 925.9,913.8 926.5,913.8 927.0,913.8 927.5,913.8 928.1,913.8 928.6,913.8 929.1,913.8 929.7,913.8 930.2,913.8 930.7,913.8 931.2,913.8 931.8,913.8 932.3,913.8 932.8,913.8 933.4,913.8 933.9,913.8 934.4,913.8 935.0,913.8 935.5,913.8 936.0,913.8 936.6,913.8 937.1,913.8 937.6,913.8 938.1,913.8 938.7,913.8 939.2,913.8 939.7,913.8 940.3,913.8 940.8,913.8 941.3,913.8 941.9,913.8 942.4,913.8 942.9,913.8 943.5,913.8 944.0,913.8 944.5,913.8 945.1,913.8 945.6,913.8 946.1,913.8 946.6,913.8 947.2,913.8 947.7,913.8 948.2,913.8 948.8,913.8 949.3,913.8 949.8,913.8 950.4,913.8 950.9,913.8 951.4,913.8 952.0,913.8 952.5,913.8 953.0,913.8 953.5,913.8 954.1,913.8 954.6,913.8 955.1,913.8 955.7,913.8 956.2,913.8 956.7,913.8 957.3,913.8 957.8,913.8 958.3,913.8 958.9,913.8 959.4,913.8 959.9,913.8 960.4,913.8 961.0,913.8 961.5,913.8 962.0,913.8 962.6,913.8 963.1,913.8 963.6,913.8 964.2,913.8 964.7,913.8 965.2,913.8 965.8,913.8 966.3,913.8 966.8,913.8 967.3,913.8 967.9,913.8 968.4,913.8 968.9,913.8 969.5,913.8 970.0,913.8 970.5,913.8 971.1,913.8 971.6,913.8 972.1,913.8 972.7,913.8 973.2,913.8 973.7,913.8 974.2,913.8 974.8,913.8 975.3,913.8 975.8,913.8 976.4,913.8 976.9,913.8" fill="none" stroke="#7db552" stroke-width="3" stroke-linejoin="round"/>
<polyline points="128.1,1031.6 128.6,1031.6 129.2,1031.6 129.7,1031.6 130.2,1031.6 130.8,1031.6 131.3,1031.6 131.8,1031.6 132.4,1031.6 132.9,1031.6 133.4,1031.6 134.0,1031.6 134.5,1031.6 135.0,1031.6 135.5,1031.6 136.1,1031.6 136.6,1031.6 137.1,1031.6 137.7,1031.6 138.2,1031.6 138.7,1031.6 139.3,1031.6 139.8,1031.6 140.3,1031.6 140.9,1031.6 141.4,1031.6 141.9,1031.6 142.4,1031.6 143.0,1031.6 143.5,1031.6 144.0,1031.6 144.6,1031.6 145.1,1031.6 145.6,1031.6 146.2,1031.6 146.7,1031.6 147.2,1031.6 147.8,1031.6 148.3,1031.6 148.8,1031.6 149.3,1031.6 149.9,1031.6 150.4,1031.6 150.9,1031.6 151.5,1031.6 152.0,1031.6 152.5,1031.6 153.1,1031.6 153.6,1031.6 154.1,1031.6 154.7,1031.6 155.2,1031.6 155.7,1031.6 156.2,1031.6 156.8,1031.6 157.3,1031.6 157.8,1031.6 158.4,1031.6 158.9,1031.6 159.4,1031.6 160.0,1031.6 160.5,1031.6 161.0,1031.6 161.6,1031.6 162.1,1031.6 162.6,1031.6 163.1,1031.6 163.7,1031.6 164.2,1031.6 164.7,1031.5 165.3,1031.5 165.8,1031.5 166.3,1031.5 166.9,1031.5 167.4,1031.5 167.9,1031.5 168.5,1031.4 169.0,1031.4 169.5,1031.4 170.0,1031.4 170.6,1031.3 171.1,1031.3 171.6,1031.3 172.2,1031.2 172.7,1031.2 173.2,1031.2 173.8,1031.1 174.3,1031.1 174.8,1031.0 175.4,1030.9 175.9,1030.9 176.4,1030.8 176.9,1030.7 177.5,1030.6 178.0,1030.5 178.5,1030.4 179.1,1030.3 179.6,1030.2 180.1,1030.1 180.7,1030.0 181.2,1029.8 181.7,1029.7 182.3,1029.5 182.8,1029.3 183.3,1029.1 183.9,1028.9 184.4,1028.7 184.9,1028.4 185.4,1028.2 186.0,1027.9 186.5,1027.6 187.0,1027.3 187.6,1027.0 188.1,1026.6 188.6,1026.2 189.2,1025.8 189.7,1025.4 190.2,1024.9 190.8,1024.4 191.3,1023.9 191.8,1023.4 192.3,1022.8 192.9,1022.2 193.4,1021.6 193.9,1020.9 194.5,1020.2 195.0,1019.4 195.5,1018.6 196.1,1017.8 196.6,1016.9 197.1,1016.0 197.7,1015.1 198.2,1014.0 198.7,1013.0 199.2,1011.9 199.8,1010.7 200.3,1009.5 200.8,1008.2 201.4,1006.9 201.9,1005.6 202.4,1004.1 203.0,1002.6 203.5,1001.1 204.0,999.5 204.6,997.8 205.1,996.1 205.6,994.3 206.1,992.5 206.7,990.5 207.2,988.6 207.7,986.5 208.3,984.4 208.8,982.3 209.3,980.0 209.9,977.7 210.4,975.4 210.9,972.9 211.5,970.4 212.0,967.9 212.5,965.3 213.0,962.6 213.6,959.9 214.1,957.1 214.6,954.2 215.2,951.3 215.7,948.3 216.2,945.3 216.8,942.2 217.3,939.1 217.8,935.9 218.4,932.7 218.9,929.4 219.4,926.1 219.9,922.8 220.5,919.4 221.0,916.0 221.5,912.5 222.1,909.0 222.6,905.5 223.1,902.0 223.7,898.4 224.2,894.8 224.7,891.2 225.3,887.6 225.8,884.0 226.3,880.4 226.8,876.7 227.4,873.1 227.9,869.5 228.4,865.8 229.0,862.2 229.5,858.6 230.0,855.0 230.6,851.4 231.1,847.9 231.6,844.4 232.2,840.9 232.7,837.4 233.2,833.9 233.7,830.5 234.3,827.1 234.8,823.8 235.3,820.5 235.9,817.3 236.4,814.1 236.9,810.9 237.5,807.8 238.0,804.8 238.5,801.8 239.1,798.8 239.6,795.9 240.1,793.1 240.6,790.3 241.2,787.6 241.7,785.0 242.2,782.4 242.8,779.9 243.3,777.4 243.8,775.0 244.4,772.7 244.9,770.4 245.4,768.2 246.0,766.0 246.5,764.0 247.0,762.0 247.5,760.0 248.1,758.1 248.6,756.3 249.1,754.5 249.7,752.8 250.2,751.2 250.7,749.6 251.3,748.1 251.8,746.6 252.3,745.2 252.9,743.9 253.4,742.6 253.9,741.4 254.4,740.2 255.0,739.0 255.5,738.0 256.0,736.9 256.6,735.9 257.1,735.0 257.6,734.1 258.2,733.2 258.7,732.4 259.2,731.6 259.8,730.9 260.3,730.2 260.8,729.5 261.4,728.9 261.9,728.3 262.4,727.8 262.9,727.2 263.5,726.7 264.0,726.3 264.5,725.8 265.1,725.4 265.6,725.0 266.1,724.6 266.7,724.3 267.2,724.0 267.7,723.7 268.3,723.4 268.8,723.1 269.3,722.9 269.8,722.6 270.4,722.4 270.9,722.2 271.4,722.0 272.0,721.8 272.5,721.7 273.0,721.5 273.6,721.4 274.1,721.3 274.6,721.1 275.2,721.0 275.7,720.9 276.2,720.8 276.7,720.7 277.3,720.6 277.8,720.6 278.3,720.5 278.9,720.4 279.4,720.4 279.9,720.3 280.5,720.3 281.0,720.2 281.5,720.2 282.1,720.1 282.6,720.1 283.1,720.1 283.6,720.0 284.2,720.0 284.7,720.0 285.2,720.0 285.8,720.0 286.3,719.9 286.8,719.9 287.4,719.9 287.9,719.9 288.4,719.9 289.0,719.9 289.5,719.9 290.0,719.8 290.5,719.8 291.1,719.8 291.6,719.8 292.1,719.8 292.7,719.8 293.2,719.8 293.7,719.8 294.3,719.8 294.8,719.8 295.3,719.8 295.9,719.8 296.4,719.8 296.9,719.8 297.4,719.8 298.0,719.8 298.5,719.8 299.0,719.8 299.6,719.8 300.1,719.8 300.6,719.8 301.2,719.8 301.7,719.8 302.2,719.8 302.8,719.8 303.3,719.8 303.8,719.8 304.3,719.8 304.9,719.8 305.4,719.8 305.9,719.8 306.5,719.8 307.0,719.8 307.5,719.8 308.1,719.8 308.6,719.8 309.1,719.8 309.7,719.8 310.2,719.8 310.7,719.8 311.2,719.8 311.8,719.8 312.3,719.8 312.8,719.8 313.4,719.8 313.9,719.8 314.4,719.8 315.0,719.8 315.5,719.8 316.0,719.8 316.6,719.8 317.1,719.8 317.6,719.8 318.1,719.8 318.7,719.8 319.2,719.8 319.7,719.8 320.3,719.8 320.8,719.8 321.3,719.8 321.9,719.8 322.4,719.8 322.9,719.8 323.5,719.8 324.0,719.8 324.5,719.8 325.0,719.8 325.6,719.8 326.1,719.8 326.6,719.8 327.2,719.8 327.7,719.8 328.2,719.8 328.8,719.8 329.3,719.8 329.8,719.8 330.4,719.8 330.9,719.8 331.4,719.8 332.0,719.8 332.5,719.8 333.0,719.8 333.5,719.8 334.1,719.8 334.6,719.8 335.1,719.8 335.7,719.8 336.2,719.8 336.7,719.8 337.3,719.8 337.8,719.8 338.3,719.8 338.9,719.8 339.4,719.8 339.9,719.8 340.4,719.8 341.0,719.8 341.5,719.8 342.0,719.8 342.6,719.8 343.1,719.8 343.6,719.8 344.2,719.8 344.7,719.8 345.2,719.8 345.8,719.8 346.3,719.8 346.8,719.8 347.3,719.8 347.9,719.8 348.4,719.8 348.9,719.8 349.5,719.8 350.0,719.8 350.5,719.8 351.1,719.8 351.6,719.8 352.1,719.8 352.7,719.8 353.2,719.8 353.7,719.8 354.2,719.8 354.8,719.8 355.3,719.8 355.8,719.8 356.4,719.8 356.9,719.8 357.4,719.8 358.0,719.8 358.5,719.8 359.0,719.8 359.6,719.8 360.1,719.8 360.6,719.8 361.1,719.8 361.7,719.8 362.2,719.8 362.7,719.8 363.3,719.8 363.8,719.8 364.3,719.8 364.9,719.8 365.4,719.8 365.9,719.8 366.5,719.8 367.0,719.8 367.5,719.8 368.0,719.8 368.6,719.8 369.1,719.8 369.6,719.8 370.2,719.8 370.7,719.8 371.2,719.8 371.8,719.8 372.3,719.8 372.8,719.8 373.4,719.8 373.9,719.8 374.4,719.8 374.9,719.8 375.5,719.8 376.0,719.8 376.5,719.8 377.1,719.8 377.6,719.8 378.1,719.8 378.7,719.8 379.2,719.8 379.7,719.8 380.3,719.8 380.8,719.8 381.3,719.8 381.8,719.8 382.4,719.8 382.9,719.8 383.4,719.8 384.0,719.8 384.5,719.8 385.0,719.8 385.6,719.8 386.1,719.8 386.6,719.8 387.2,719.8 387.7,719.8 388.2,719.8 388.7,719.8 389.3,719.8 389.8,719.8 390.3,719.8 390.9,719.8 391.4,719.8 391.9,719.8 392.5,719.8 393.0,719.8 393.5,719.8 394.1,719.8 394.6,719.8 395.1,719.8 395.6,719.8 396.2,719.8 396.7,719.8 397.2,719.8 397.8,719.8 398.3,719.8 398.8,719.8 399.4,719.8 399.9,719.8 400.4,719.8 401.0,719.8 401.5,719.8 402.0,719.8 402.5,719.8 403.1,719.8 403.6,719.8 404.1,719.8 404.7,719.8 405.2,719.8 405.7,719.8 406.3,719.8 406.8,719.8 407.3,719.8 407.9,719.8 408.4,719.8 408.9,719.8 409.5,719.8 410.0,719.8 410.5,719.8 411.0,719.8 411.6,719.8 412.1,719.8 412.6,719.8 413.2,719.8 413.7,719.8 414.2,719.8 414.8,719.8 415.3,719.8 415.8,719.8 416.4,719.8 416.9,719.8 417.4,719.8 417.9,719.8 418.5,719.8 419.0,719.8 419.5,719.8 420.1,719.8 420.6,719.8 421.1,719.8 421.7,719.8 422.2,719.8 422.7,719.8 423.3,719.8 423.8,719.8 424.3,719.8 424.8,719.8 425.4,719.8 425.9,719.8 426.4,719.8 427.0,719.8 427.5,719.8 428.0,719.8 428.6,719.8 429.1,719.8 429.6,719.8 430.2,719.8 430.7,719.8 431.2,719.8 431.7,719.8 432.3,719.8 432.8,719.8 433.3,719.8 433.9,719.8 434.4,719.8 434.9,719.8 435.5,719.8 436.0,719.8 436.5,719.8 437.1,719.8 437.6,719.8 438.1,719.8 438.6,719.8 439.2,719.8 439.7,719.8 440.2,719.8 440.8,719.8 441.3,719.8 441.8,719.8 442.4,719.8 442.9,719.8 443.4,719.8 444.0,719.8 444.5,719.8 445.0,719.8 445.5,719.8 446.1,719.8 446.6,719.8 447.1,719.8 447.7,719.8 448.2,719.8 448.7,719.8 449.3,719.8 449.8,719.8 450.3,719.8 450.9,719.8 451.4,719.8 451.9,719.8 452.4,719.8 453.0,719.8 453.5,719.8 454.0,719.8 454.6,719.8 455.1,719.8 455.6,719.8 456.2,719.8 456.7,719.8 457.2,719.8 457.8,719.8 458.3,719.8 458.8,719.8 459.3,719.8 459.9,719.8 460.4,719.8 460.9,719.8 461.5,719.8 462.0,719.8 462.5,719.8 463.1,719.8 463.6,719.8 464.1,719.8 464.7,719.8 465.2,719.8 465.7,719.8 466.2,719.8 466.8,719.8 467.3,719.8 467.8,719.8 468.4,719.8 468.9,719.8 469.4,719.8 470.0,719.8 470.5,719.8 471.0,719.8 471.6,719.8 472.1,719.8 472.6,719.8 473.1,719.8 473.7,719.8 474.2,719.8 474.7,719.8 475.3,719.8 475.8,719.8 476.3,719.8 476.9,719.8 477.4,719.8 477.9,719.8 478.5,719.8 479.0,719.8 479.5,719.8 480.0,719.8 480.6,719.8 481.1,719.8 481.6,719.8 482.2,719.8 482.7,719.8 483.2,719.8 483.8,719.8 484.3,719.8 484.8,719.8 485.4,719.8 485.9,719.8 486.4,719.8 487.0,719.8 487.5,719.8 488.0,719.8 488.5,719.8 489.1,719.8 489.6,719.8 490.1,719.8 490.7,719.8 491.2,719.8 491.7,719.8 492.3,719.8 492.8,719.8 493.3,719.8 493.9,719.8 494.4,719.8 494.9,719.8 495.4,719.8 496.0,719.8 496.5,719.8 497.0,719.8 497.6,719.8 498.1,719.8 498.6,719.8 499.2,719.8 499.7,719.8 500.2,719.8 500.8,719.8 501.3,719.8 501.8,719.8 502.3,719.8 502.9,719.8 503.4,719.8 503.9,719.8 504.5,719.8 505.0,719.8 505.5,719.8 506.1,719.8 506.6,719.8 507.1,719.8 507.7,719.8 508.2,719.8 508.7,719.8 509.2,719.8 509.8,719.8 510.3,719.8 510.8,719.8 511.4,719.8 511.9,719.8 512.4,719.8 513.0,719.8 513.5,719.8 514.0,719.8 514.6,719.8 515.1,719.8 515.6,719.8 516.1,719.8 516.7,719.8 517.2,719.8 517.7,719.8 518.3,719.8 518.8,719.8 519.3,719.8 519.9,719.8 520.4,719.8 520.9,719.8 521.5,719.8 522.0,719.8 522.5,719.8 523.0,719.8 523.6,719.8 524.1,719.8 524.6,719.8 525.2,719.8 525.7,719.8 526.2,719.8 526.8,719.8 527.3,719.8 527.8,719.8 528.4,719.8 528.9,719.8 529.4,719.8 529.9,719.8 530.5,719.8 531.0,719.8 531.5,719.8 532.1,719.8 532.6,719.8 533.1,719.8 533.7,719.8 534.2,719.8 534.7,719.8 535.3,719.8 535.8,719.8 536.3,719.8 536.8,719.8 537.4,719.8 537.9,719.8 538.4,719.8 539.0,719.8 539.5,719.8 540.0,719.8 540.6,719.8 541.1,719.8 541.6,719.8 542.2,719.8 542.7,719.8 543.2,719.8 543.7,719.8 544.3,719.8 544.8,719.8 545.3,719.8 545.9,719.8 546.4,719.8 546.9,719.8 547.5,719.8 548.0,719.8 548.5,719.8 549.1,719.8 549.6,719.8 550.1,719.8 550.6,719.8 551.2,719.8 551.7,719.8 552.2,719.8 552.8,719.8 553.3,719.8 553.8,719.8 554.4,719.8 554.9,719.8 555.4,719.8 556.0,719.8 556.5,719.8 557.0,719.8 557.5,719.8 558.1,719.8 558.6,719.8 559.1,719.8 559.7,719.8 560.2,719.8 560.7,719.8 561.3,719.8 561.8,719.8 562.3,719.8 562.9,719.8 563.4,719.8 563.9,719.8 564.5,719.8 565.0,719.8 565.5,719.8 566.0,719.8 566.6,719.8 567.1,719.8 567.6,719.8 568.2,719.8 568.7,719.8 569.2,719.8 569.8,719.8 570.3,719.8 570.8,719.8 571.4,719.8 571.9,719.8 572.4,719.8 572.9,719.8 573.5,719.8 574.0,719.8 574.5,719.8 575.1,719.8 575.6,719.8 576.1,719.8 576.7,719.8 577.2,719.8 577.7,719.8 578.3,719.8 578.8,719.8 579.3,719.8 579.8,719.8 580.4,719.8 580.9,719.8 581.4,719.8 582.0,719.8 582.5,719.8 583.0,719.8 583.6,719.8 584.1,719.8 584.6,719.8 585.2,719.8 585.7,719.8 586.2,719.8 586.7,719.8 587.3,719.8 587.8,719.8 588.3,719.8 588.9,719.8 589.4,719.8 589.9,719.8 590.5,719.8 591.0,719.8 591.5,719.8 592.1,719.8 592.6,719.8 593.1,719.8 593.6,719.8 594.2,719.8 594.7,719.8 595.2,719.8 595.8,719.8 596.3,719.8 596.8,719.8 597.4,719.8 597.9,719.8 598.4,719.8 599.0,719.8 599.5,719.8 600.0,719.8 600.5,719.8 601.1,719.8 601.6,719.8 602.1,719.8 602.7,719.8 603.2,719.8 603.7,719.8 604.3,719.8 604.8,719.8 605.3,719.8 605.9,719.8 606.4,719.8 606.9,719.8 607.4,719.8 608.0,719.8 608.5,719.8 609.0,719.8 609.6,719.8 610.1,719.8 610.6,719.8 611.2,719.8 611.7,719.8 612.2,719.8 612.8,719.8 613.3,719.8 613.8,719.8 614.3,719.8 614.9,719.8 615.4,719.8 615.9,719.8 616.5,719.8 617.0,719.8 617.5,719.8 618.1,719.8 618.6,719.8 619.1,719.8 619.7,719.8 620.2,719.8 620.7,719.8 621.2,719.8 621.8,719.8 622.3,719.8 622.8,719.8 623.4,719.8 623.9,719.8 624.4,719.8 625.0,719.8 625.5,719.8 626.0,719.8 626.6,719.8 627.1,719.8 627.6,719.8 628.1,719.8 628.7,719.8 629.2,719.8 629.7,719.8 630.3,719.8 630.8,719.8 631.3,719.8 631.9,719.8 632.4,719.8 632.9,719.8 633.5,719.8 634.0,719.8 634.5,719.8 635.0,719.8 635.6,719.8 636.1,719.8 636.6,719.8 637.2,719.8 637.7,719.8 638.2,719.8 638.8,719.8 639.3,719.8 639.8,719.8 640.4,719.8 640.9,719.8 641.4,719.8 642.0,719.8 642.5,719.8 643.0,719.8 643.5,719.8 644.1,719.8 644.6,719.8 645.1,719.8 645.7,719.8 646.2,719.8 646.7,719.8 647.3,719.8 647.8,719.8 648.3,719.8 648.9,719.8 649.4,719.8 649.9,719.8 650.4,719.8 651.0,719.8 651.5,719.8 652.0,719.8 652.6,719.8 653.1,719.8 653.6,719.8 654.2,719.8 654.7,719.8 655.2,719.8 655.8,719.8 656.3,719.8 656.8,719.8 657.3,719.8 657.9,719.8 658.4,719.8 658.9,719.8 659.5,719.8 660.0,719.8 660.5,719.8 661.1,719.8 661.6,719.8 662.1,719.8 662.7,719.8 663.2,719.8 663.7,719.8 664.2,719.8 664.8,719.8 665.3,719.8 665.8,719.8 666.4,719.8 666.9,719.8 667.4,719.8 668.0,719.8 668.5,719.8 669.0,719.8 669.6,719.8 670.1,719.8 670.6,719.8 671.1,719.8 671.7,719.8 672.2,719.8 672.7,719.8 673.3,719.8 673.8,719.8 674.3,719.8 674.9,719.8 675.4,719.8 675.9,719.8 676.5,719.8 677.0,719.8 677.5,719.8 678.0,719.8 678.6,719.8 679.1,719.8 679.6,719.8 680.2,719.8 680.7,719.8 681.2,719.8 681.8,719.8 682.3,719.8 682.8,719.8 683.4,719.8 683.9,719.8 684.4,719.8 684.9,719.8 685.5,719.8 686.0,719.8 686.5,719.8 687.1,719.8 687.6,719.8 688.1,719.8 688.7,719.8 689.2,719.8 689.7,719.8 690.3,719.8 690.8,719.8 691.3,719.8 691.8,719.8 692.4,719.8 692.9,719.8 693.4,719.8 694.0,719.8 694.5,719.8 695.0,719.8 695.6,719.8 696.1,719.8 696.6,719.8 697.2,719.8 697.7,719.8 698.2,719.8 698.7,719.8 699.3,719.8 699.8,719.8 700.3,719.8 700.9,719.8 701.4,719.8 701.9,719.8 702.5,719.8 703.0,719.8 703.5,719.8 704.1,719.8 704.6,719.8 705.1,719.8 705.6,719.8 706.2,719.8 706.7,719.8 707.2,719.8 707.8,719.8 708.3,719.8 708.8,719.8 709.4,719.8 709.9,719.8 710.4,719.8 711.0,719.8 711.5,719.8 712.0,719.8 712.6,719.8 713.1,719.8 713.6,719.8 714.1,719.8 714.7,719.8 715.2,719.8 715.7,719.8 716.3,719.8 716.8,719.8 717.3,719.8 717.9,719.8 718.4,719.8 718.9,719.8 719.5,719.8 720.0,719.8 720.5,719.8 721.0,719.8 721.6,719.8 722.1,719.8 722.6,719.8 723.2,719.8 723.7,719.8 724.2,719.8 724.8,719.8 725.3,719.8 725.8,719.8 726.4,719.8 726.9,719.8 727.4,719.8 727.9,719.8 728.5,719.8 729.0,719.8 729.5,719.8 730.1,719.8 730.6,719.8 731.1,719.8 731.7,719.8 732.2,719.8 732.7,719.8 733.3,719.8 733.8,719.8 734.3,719.8 734.8,719.8 735.4,719.8 735.9,719.8 736.4,719.8 737.0,719.8 737.5,719.8 738.0,719.8 738.6,719.8 739.1,719.8 739.6,719.8 740.2,719.8 740.7,719.8 741.2,719.8 741.7,719.8 742.3,719.8 742.8,719.8 743.3,719.8 743.9,719.8 744.4,719.8 744.9,719.8 745.5,719.8 746.0,719.8 746.5,719.8 747.1,719.8 747.6,719.8 748.1,719.8 748.6,719.8 749.2,719.8 749.7,719.8 750.2,719.8 750.8,719.8 751.3,719.8 751.8,719.8 752.4,719.8 752.9,719.8 753.4,719.8 754.0,719.8 754.5,719.8 755.0,719.8 755.5,719.9 756.1,720.1 756.6,720.4 757.1,720.9 757.7,721.8 758.2,723.4 758.7,725.9 759.3,729.9 759.8,735.8 760.3,744.3 760.9,756.1 761.4,771.8 761.9,791.8 762.4,816.4 763.0,845.5 763.5,878.6 764.0,914.7 764.6,952.7 765.1,991.0 765.6,1028.2 766.2,1063.0 766.7,1094.2 767.2,1121.1 767.8,1143.4 768.3,1161.2 768.8,1174.8 769.3,1184.9 769.9,1192.0 770.4,1196.9 770.9,1200.1 771.5,1202.1 772.0,1203.3 772.5,1204.0 773.1,1204.4 773.6,1204.6 774.1,1204.7 774.7,1204.8 775.2,1204.8 775.7,1204.8 776.2,1204.8 776.8,1204.8 777.3,1204.8 777.8,1204.8 778.4,1204.8 778.9,1204.8 779.4,1204.8 780.0,1204.8 780.5,1204.8 781.0,1204.8 781.6,1204.8 782.1,1204.8 782.6,1204.8 783.1,1204.8 783.7,1204.8 784.2,1204.8 784.7,1204.8 785.3,1204.8 785.8,1204.8 786.3,1204.8 786.9,1204.8 787.4,1204.8 787.9,1204.8 788.5,1204.8 789.0,1204.8 789.5,1204.8 790.1,1204.8 790.6,1204.8 791.1,1204.8 791.6,1204.8 792.2,1204.8 792.7,1204.8 793.2,1204.8 793.8,1204.8 794.3,1204.8 794.8,1204.8 795.4,1204.8 795.9,1204.8 796.4,1204.8 797.0,1204.8 797.5,1204.8 798.0,1204.8 798.5,1204.8 799.1,1204.8 799.6,1204.8 800.1,1204.7 800.7,1204.7 801.2,1204.6 801.7,1204.5 802.3,1204.4 802.8,1204.3 803.3,1204.1 803.9,1203.9 804.4,1203.6 804.9,1203.2 805.4,1202.7 806.0,1202.1 806.5,1201.3 807.0,1200.4 807.6,1199.3 808.1,1198.0 808.6,1196.4 809.2,1194.4 809.7,1192.2 810.2,1189.6 810.8,1186.6 811.3,1183.1 811.8,1179.1 812.3,1174.7 812.9,1169.7 813.4,1164.1 813.9,1158.0 814.5,1151.2 815.0,1144.0 815.5,1136.1 816.1,1127.8 816.6,1118.9 817.1,1109.7 817.7,1100.0 818.2,1090.0 818.7,1079.8 819.2,1069.4 819.8,1058.9 820.3,1048.5 820.8,1038.1 821.4,1027.9 821.9,1017.9 822.4,1008.3 823.0,999.0 823.5,990.2 824.0,981.9 824.6,974.1 825.1,966.9 825.6,960.2 826.1,954.1 826.7,948.6 827.2,943.6 827.7,939.2 828.3,935.3 828.8,931.8 829.3,928.9 829.9,926.3 830.4,924.1 830.9,922.2 831.5,920.6 832.0,919.3 832.5,918.2 833.0,917.3 833.6,916.5 834.1,915.9 834.6,915.5 835.2,915.1 835.7,914.8 836.2,914.5 836.8,914.4 837.3,914.2 837.8,914.1 838.4,914.0 838.9,914.0 839.4,913.9 839.9,913.9 840.5,913.9 841.0,913.8 841.5,913.8 842.1,913.8 842.6,913.8 843.1,913.8 843.7,913.8 844.2,913.8 844.7,913.8 845.3,913.8 845.8,913.8 846.3,913.8 846.8,913.8 847.4,913.8 847.9,913.8 848.4,913.8 849.0,913.8 849.5,913.8 850.0,913.8 850.6,913.8 851.1,913.8 851.6,913.8 852.2,913.8 852.7,913.8 853.2,913.8 853.7,913.8 854.3,913.8 854.8,913.8 855.3,913.8 855.9,913.8 856.4,913.8 856.9,913.8 857.5,913.8 858.0,913.8 858.5,913.8 859.1,913.8 859.6,913.8 860.1,913.8 860.6,913.8 861.2,913.8 861.7,913.8 862.2,913.8 862.8,913.8 863.3,913.8 863.8,913.8 864.4,913.8 864.9,913.8 865.4,913.8 866.0,913.8 866.5,913.8 867.0,913.8 867.6,913.8 868.1,913.8 868.6,913.8 869.1,913.8 869.7,913.8 870.2,913.8 870.7,913.8 871.3,913.8 871.8,913.8 872.3,913.8 872.9,913.8 873.4,913.8 873.9,913.8 874.5,913.8 875.0,913.8 875.5,913.8 876.0,913.8 876.6,913.8 877.1,913.8 877.6,913.8 878.2,913.8 878.7,913.8 879.2,913.8 879.8,913.8 880.3,913.8 880.8,913.8 881.4,913.8 881.9,913.8 882.4,913.8 882.9,913.8 883.5,913.8 884.0,913.8 884.5,913.8 885.1,913.8 885.6,913.8 886.1,913.8 886.7,913.8 887.2,913.8 887.7,913.8 888.3,913.8 888.8,913.8 889.3,913.8 889.8,913.8 890.4,913.8 890.9,913.8 891.4,913.8 892.0,913.8 892.5,913.8 893.0,913.8 893.6,913.8 894.1,913.8 894.6,913.8 895.2,913.8 895.7,913.8 896.2,913.8 896.7,913.8 897.3,913.8 897.8,913.8 898.3,913.8 898.9,913.8 899.4,913.8 899.9,913.8 900.5,913.8 901.0,913.8 901.5,913.8 902.1,913.8 902.6,913.8 903.1,913.8 903.6,913.8 904.2,913.8 904.7,913.8 905.2,913.8 905.8,913.8 906.3,913.8 906.8,913.8 907.4,913.8 907.9,913.8 908.4,913.8 909.0,913.8 909.5,913.8 910.0,913.8 910.5,913.8 911.1,913.8 911.6,913.8 912.1,913.8 912.7,913.8 913.2,913.8 913.7,913.8 914.3,913.8 914.8,913.8 915.3,913.8 915.9,913.8 916.4,913.8 916.9,913.8 917.4,913.8 918.0,913.8 918.5,913.8 919.0,913.8 919.6,913.8 920.1,913.8 920.6,913.8 921.2,913.8 921.7,913.8 922.2,913.8 922.8,913.8 923.3,913.8 923.8,913.8 924.3,913.8 924.9,913.8 925.4,913.8 925.9,913.8 926.5,913.8 927.0,913.8 927.5,913.8 928.1,913.8 928.6,913.8 929.1,913.8 929.7,913.8 930.2,913.8 930.7,913.8 931.2,913.8 931.8,913.8 932.3,913.8 932.8,913.8 933.4,913.8 933.9,913.8 934.4,913.8 935.0,913.8 935.5,913.8 936.0,913.8 936.6,913.8 937.1,913.8 937.6,913.8 938.1,913.8 938.7,913.8 939.2,913.8 939.7,913.8 940.3,913.8 940.8,913.8 941.3,913.8 941.9,913.8 942.4,913.8 942.9,913.8 943.5,913.8 944.0,913.8 944.5,913.8 945.1,913.8 945.6,913.8 946.1,913.8 946.6,913.8 947.2,913.8 947.7,913.8 948.2,913.8 948.8,913.8 949.3,913.8 949.8,913.8 950.4,913.8 950.9,913.8 951.4,913.8 952.0,913.8 952.5,913.8 953.0,913.8 953.5,913.8 954.1,913.8 954.6,913.8 955.1,913.8 955.7,913.8 956.2,913.8 956.7,913.8 957.3,913.8 957.8,913.8 958.3,913.8 958.9,913.8 959.4,913.8 959.9,913.8 960.4,913.8 961.0,913.8 961.5,913.8 962.0,913.8 962.6,913.8 963.1,913.8 963.6,913.8 964.2,913.8 964.7,913.8 965.2,913.8 965.8,913.8 966.3,913.8 966.8,913.8 967.3,913.8 967.9,913.8 968.4,913.8 968.9,913.8 969.5,913.8 970.0,913.8 970.5,913.8 971.1,913.8 971.6,913.8 972.1,913.8 972.7,913.8 973.2,913.8 973.7,913.8 974.2,913.8 974.8,913.8 975.3,913.8 975.8,913.8 976.4,913.8 976.9,913.8" fill="none" stroke="#a5a5a5" stroke-width="3" stroke-linejoin="round"/>
<polyline points="128.1,1031.6 128.6,1031.6 129.2,1031.6 129.7,1031.6 130.2,1031.6 130.8,1031.6 131.3,1031.6 131.8,1031.6 132.4,1031.6 132.9,1031.6 133.4,1031.6 134.0,1031.6 134.5,1031.6 135.0,1031.6 135.5,1031.6 136.1,1031.6 136.6,1031.6 137.1,1031.6 137.7,1031.6 138.2,1031.6 138.7,1031.6 139.3,1031.6 139.8,1031.6 140.3,1031.6 140.9,1031.6 141.4,1031.6 141.9,1031.6 142.4,1031.6 143.0,1031.6 143.5,1031.6 144.0,1031.6 144.6,1031.6 145.1,1031.6 145.6,1031.6 146.2,1031.6 146.7,1031.6 147.2,1031.6 147.8,1031.6 148.3,1031.6 148.8,1031.6 149.3,1031.6 149.9,1031.6 150.4,1031.6 150.9,1031.6 151.5,1031.6 152.0,1031.6 152.5,1031.6 153.1,1031.6 153.6,1031.6 154.1,1031.6 154.7,1031.6 155.2,1031.6 155.7,1031.6 156.2,1031.6 156.8,1031.6 157.3,1031.6 157.8,1031.6 158.4,1031.6 158.9,1031.6 159.4,1031.6 160.0,1031.6 160.5,1031.6 161.0,1031.6 161.6,1031.6 162.1,1031.6 162.6,1031.5 163.1,1031.5 163.7,1031.5 164.2,1031.5 164.7,1031.5 165.3,1031.5 165.8,1031.5 166.3,1031.5 166.9,1031.4 167.4,1031.4 167.9,1031.4 168.5,1031.4 169.0,1031.3 169.5,1031.3 170.0,1031.3 170.6,1031.2 171.1,1031.2 171.6,1031.2 172.2,1031.1 172.7,1031.1 173.2,1031.0 173.8,1030.9 174.3,1030.9 174.8,1030.8 175.4,1030.7 175.9,1030.7 176.4,1030.6 176.9,1030.5 177.5,1030.4 178.0,1030.3 178.5,1030.1 179.1,1030.0 179.6,1029.9 180.1,1029.7 180.7,1029.6 181.2,1029.4 181.7,1029.2 182.3,1029.0 182.8,1028.8 183.3,1028.6 183.9,1028.3 184.4,1028.1 184.9,1027.8 185.4,1027.5 186.0,1027.2 186.5,1026.9 187.0,1026.5 187.6,1026.2 188.1,1025.8 188.6,1025.4 189.2,1024.9 189.7,1024.4 190.2,1023.9 190.8,1023.4 191.3,1022.9 191.8,1022.3 192.3,1021.7 192.9,1021.0 193.4,1020.3 193.9,1019.6 194.5,1018.8 195.0,1018.0 195.5,1017.2 196.1,1016.3 196.6,1015.4 197.1,1014.4 197.7,1013.4 198.2,1012.4 198.7,1011.3 199.2,1010.1 199.8,1008.9 200.3,1007.7 200.8,1006.4 201.4,1005.0 201.9,1003.6 202.4,1002.1 203.0,1000.6 203.5,999.1 204.0,997.4 204.6,995.7 205.1,994.0 205.6,992.2 206.1,990.3 206.7,988.4 207.2,986.4 207.7,984.3 208.3,982.2 208.8,980.1 209.3,977.8 209.9,975.6 210.4,973.2 210.9,970.8 211.5,968.3 212.0,965.8 212.5,963.2 213.0,960.6 213.6,957.9 214.1,955.1 214.6,952.3 215.2,949.4 215.7,946.5 216.2,943.5 216.8,940.5 217.3,937.5 217.8,934.4 218.4,931.2 218.9,928.0 219.4,924.8 219.9,921.5 220.5,918.2 221.0,914.9 221.5,911.5 222.1,908.1 222.6,904.7 223.1,901.2 223.7,897.8 224.2,894.3 224.7,890.8 225.3,887.3 225.8,883.7 226.3,880.2 226.8,876.7 227.4,873.2 227.9,869.6 228.4,866.1 229.0,862.6 229.5,859.1 230.0,855.6 230.6,852.1 231.1,848.7 231.6,845.2 232.2,841.8 232.7,838.4 233.2,835.1 233.7,831.8 234.3,828.5 234.8,825.2 235.3,822.0 235.9,818.8 236.4,815.7 236.9,812.6 237.5,809.6 238.0,806.6 238.5,803.6 239.1,800.7 239.6,797.9 240.1,795.1 240.6,792.4 241.2,789.7 241.7,787.1 242.2,784.5 242.8,782.0 243.3,779.6 243.8,777.2 244.4,774.8 244.9,772.6 245.4,770.4 246.0,768.2 246.5,766.2 247.0,764.1 247.5,762.2 248.1,760.3 248.6,758.4 249.1,756.6 249.7,754.9 250.2,753.3 250.7,751.7 251.3,750.1 251.8,748.6 252.3,747.2 252.9,745.8 253.4,744.5 253.9,743.2 254.4,741.9 255.0,740.8 255.5,739.6 256.0,738.6 256.6,737.5 257.1,736.5 257.6,735.6 258.2,734.7 258.7,733.8 259.2,733.0 259.8,732.2 260.3,731.5 260.8,730.8 261.4,730.1 261.9,729.5 262.4,728.9 262.9,728.3 263.5,727.7 264.0,727.2 264.5,726.7 265.1,726.3 265.6,725.9 266.1,725.5 266.7,725.1 267.2,724.7 267.7,724.4 268.3,724.0 268.8,723.7 269.3,723.5 269.8,723.2 270.4,722.9 270.9,722.7 271.4,722.5 272.0,722.3 272.5,722.1 273.0,721.9 273.6,721.8 274.1,721.6 274.6,721.5 275.2,721.3 275.7,721.2 276.2,721.1 276.7,721.0 277.3,720.9 277.8,720.8 278.3,720.7 278.9,720.6 279.4,720.6 279.9,720.5 280.5,720.4 281.0,720.4 281.5,720.3 282.1,720.3 282.6,720.2 283.1,720.2 283.6,720.1 284.2,720.1 284.7,720.1 285.2,720.1 285.8,720.0 286.3,720.0 286.8,720.0 287.4,720.0 287.9,719.9 288.4,719.9 289.0,719.9 289.5,719.9 290.0,719.9 290.5,719.9 291.1,719.9 291.6,719.9 292.1,719.8 292.7,719.8 293.2,719.8 293.7,719.8 294.3,719.8 294.8,719.8 295.3,719.8 295.9,719.8 296.4,719.8 296.9,719.8 297.4,719.8 298.0,719.8 298.5,719.8 299.0,719.8 299.6,719.8 300.1,719.8 300.6,719.8 301.2,719.8 301.7,719.8 302.2,719.8 302.8,719.8 303.3,719.8 303.8,719.8 304.3,719.8 304.9,719.8 305.4,719.8 305.9,719.8 306.5,719.8 307.0,719.8 307.5,719.8 308.1,719.8 308.6,719.8 309.1,719.8 309.7,719.8 310.2,719.8 310.7,719.8 311.2,719.8 311.8,719.8 312.3,719.8 312.8,719.8 313.4,719.8 313.9,719.8 314.4,719.8 315.0,719.8 315.5,719.8 316.0,719.8 316.6,719.8 317.1,719.8 317.6,719.8 318.1,719.8 318.7,719.8 319.2,719.8 319.7,719.8 320.3,719.8 320.8,719.8 321.3,719.8 321.9,719.8 322.4,719.8 322.9,719.8 323.5,719.8 324.0,719.8 324.5,719.8 325.0,719.8 325.6,719.8 326.1,719.8 326.6,719.8 327.2,719.8 327.7,719.8 328.2,719.8 328.8,719.8 329.3,719.8 329.8,719.8 330.4,719.8 330.9,719.8 331.4,719.8 332.0,719.8 332.5,719.8 333.0,719.8 333.5,719.8 334.1,719.8 334.6,719.8 335.1,719.8 335.7,719.8 336.2,719.8 336.7,719.8 337.3,719.8 337.8,719.8 338.3,719.8 338.9,719.8 339.4,719.8 339.9,719.8 340.4,719.8 341.0,719.8 341.5,719.8 342.0,719.8 342.6,719.8 343.1,719.8 343.6,719.8 344.2,719.8 344.7,719.8 345.2,719.8 345.8,719.8 346.3,719.8 346.8,719.8 347.3,719.8 347.9,719.8 348.4,719.8 348.9,719.8 349.5,719.8 350.0,719.8 350.5,719.8 351.1,719.8 351.6,719.8 352.1,719.8 352.7,719.8 353.2,719.8 353.7,719.8 354.2,719.8 354.8,719.8 355.3,719.8 355.8,719.8 356.4,719.8 356.9,719.8 357.4,719.8 358.0,719.8 358.5,719.8 359.0,719.8 359.6,719.8 360.1,719.8 360.6,719.8 361.1,719.8 361.7,719.8 362.2,719.8 362.7,719.8 363.3,719.8 363.8,719.8 364.3,719.8 364.9,719.8 365.4,719.8 365.9,719.8 366.5,719.8 367.0,719.8 367.5,719.8 368.0,719.8 368.6,719.8 369.1,719.8 369.6,719.8 370.2,719.8 370.7,719.8 371.2,719.8 371.8,719.8 372.3,719.8 372.8,719.8 373.4,719.8 373.9,719.8 374.4,719.8 374.9,719.8 375.5,719.8 376.0,719.8 376.5,719.8 377.1,719.8 377.6,719.8 378.1,719.8 378.7,719.8 379.2,719.8 379.7,719.8 380.3,719.8 380.8,719.8 381.3,719.8 381.8,719.8 382.4,719.8 382.9,719.8 383.4,719.8 384.0,719.8 384.5,719.8 385.0,719.8 385.6,719.8 386.1,719.8 386.6,719.8 387.2,719.8 387.7,719.8 388.2,719.8 388.7,719.8 389.3,719.8 389.8,719.8 390.3,719.8 390.9,719.8 391.4,719.8 391.9,719.8 392.5,719.8 393.0,719.8 393.5,719.8 394.1,719.8 394.6,719.8 395.1,719.8 395.6,719.8 396.2,719.8 396.7,719.8 397.2,719.8 397.8,719.8 398.3,719.8 398.8,719.8 399.4,719.8 399.9,719.8 400.4,719.8 401.0,719.8 401.5,719.8 402.0,719.8 402.5,719.8 403.1,719.8 403.6,719.8 404.1,719.8 404.7,719.8 405.2,719.8 405.7,719.8 406.3,719.8 406.8,719.8 407.3,719.8 407.9,719.8 408.4,719.8 408.9,719.8 409.5,719.8 410.0,719.8 410.5,719.8 411.0,719.8 411.6,719.8 412.1,719.8 412.6,719.8 413.2,719.8 413.7,719.8 414.2,719.8 414.8,719.8 415.3,719.8 415.8,719.8 416.4,719.8 416.9,719.8 417.4,719.8 417.9,719.8 418.5,719.8 419.0,719.8 419.5,719.8 420.1,719.8 420.6,719.8 421.1,719.8 421.7,719.8 422.2,719.8 422.7,719.8 423.3,719.8 423.8,719.8 424.3,719.8 424.8,719.8 425.4,719.8 425.9,719.8 426.4,719.8 427.0,719.8 427.5,719.8 428.0,719.8 428.6,719.8 429.1,719.8 429.6,719.8 430.2,719.8 430.7,719.8 431.2,719.8 431.7,719.8 432.3,719.8 432.8,719.8 433.3,719.8 433.9,719.8 434.4,719.8 434.9,719.8 435.5,719.8 436.0,719.8 436.5,719.8 437.1,719.8 437.6,719.8 438.1,719.8 438.6,719.8 439.2,719.8 439.7,719.8 440.2,719.8 440.8,719.8 441.3,719.8 441.8,719.8 442.4,719.8 442.9,719.8 443.4,719.8 444.0,719.8 444.5,719.8 445.0,719.8 445.5,719.8 446.1,719.8 446.6,719.8 447.1,719.8 447.7,719.8 448.2,719.8 448.7,719.8 449.3,719.8 449.8,719.8 450.3,719.8 450.9,719.8 451.4,719.8 451.9,719.8 452.4,719.8 453.0,719.8 453.5,719.8 454.0,719.8 454.6,719.8 455.1,719.8 455.6,719.8 456.2,719.8 456.7,719.8 457.2,719.8 457.8,719.8 458.3,719.8 458.8,719.8 459.3,719.8 459.9,719.8 460.4,719.8 460.9,719.8 461.5,719.8 462.0,719.8 462.5,719.8 463.1,719.8 463.6,719.8 464.1,719.8 464.7,719.8 465.2,719.8 465.7,719.8 466.2,719.8 466.8,719.8 467.3,719.8 467.8,719.8 468.4,719.8 468.9,719.8 469.4,719.8 470.0,719.8 470.5,719.8 471.0,719.8 471.6,719.8 472.1,719.8 472.6,719.8 473.1,719.8 473.7,719.8 474.2,719.8 474.7,719.8 475.3,719.8 475.8,719.8 476.3,719.8 476.9,719.8 477.4,719.8 477.9,719.8 478.5,719.8 479.0,719.8 479.5,719.8 480.0,719.8 480.6,719.8 481.1,719.8 481.6,719.8 482.2,719.8 482.7,719.8 483.2,719.8 483.8,719.8 484.3,719.8 484.8,719.8 485.4,719.8 485.9,719.8 486.4,719.8 487.0,719.8 487.5,719.8 488.0,719.8 488.5,719.8 489.1,719.8 489.6,719.8 490.1,719.8 490.7,719.8 491.2,719.8 491.7,719.8 492.3,719.8 492.8,719.8 493.3,719.8 493.9,719.8 494.4,719.8 494.9,719.8 495.4,719.8 496.0,719.8 496.5,719.8 497.0,719.8 497.6,719.8 498.1,719.8 498.6,719.8 499.2,719.8 499.7,719.8 500.2,719.8 500.8,719.8 501.3,719.8 501.8,719.8 502.3,719.8 502.9,719.8 503.4,719.8 503.9,719.8 504.5,719.8 505.0,719.8 505.5,719.8 506.1,719.8 506.6,719.8 507.1,719.8 507.7,719.8 508.2,719.8 508.7,719.8 509.2,719.8 509.8,719.8 510.3,719.8 510.8,719.8 511.4,719.8 511.9,719.8 512.4,719.8 513.0,719.8 513.5,719.8 514.0,719.8 514.6,719.8 515.1,719.8 515.6,719.8 516.1,719.8 516.7,719.8 517.2,719.8 517.7,719.8 518.3,719.8 518.8,719.8 519.3,719.8 519.9,719.8 520.4,719.8 520.9,719.8 521.5,719.8 522.0,719.8 522.5,719.8 523.0,719.8 523.6,719.8 524.1,719.8 524.6,719.8 525.2,719.8 525.7,719.8 526.2,719.8 526.8,719.8 527.3,719.8 527.8,719.8 528.4,719.8 528.9,719.8 529.4,719.8 529.9,719.8 530.5,719.8 531.0,719.8 531.5,719.8 532.1,719.8 532.6,719.8 533.1,719.8 533.7,719.8 534.2,719.8 534.7,719.8 535.3,719.8 535.8,719.8 536.3,719.8 536.8,719.8 537.4,719.8 537.9,719.8 538.4,719.8 539.0,719.8 539.5,719.8 540.0,719.8 540.6,719.8 541.1,719.8 541.6,719.8 542.2,719.8 542.7,719.8 543.2,719.8 543.7,719.8 544.3,719.8 544.8,719.8 545.3,719.8 545.9,719.8 546.4,719.8 546.9,719.8 547.5,719.8 548.0,719.8 548.5,719.8 549.1,719.8 549.6,719.8 550.1,719.8 550.6,719.8 551.2,719.8 551.7,719.8 552.2,719.8 552.8,719.8 553.3,719.8 553.8,719.8 554.4,719.8 554.9,719.8 555.4,719.8 556.0,719.8 556.5,719.8 557.0,719.8 557.5,719.8 558.1,719.8 558.6,719.8 559.1,719.8 559.7,719.8 560.2,719.8 560.7,719.8 561.3,719.8 561.8,719.8 562.3,719.8 562.9,719.8 563.4,719.8 563.9,719.8 564.5,719.8 565.0,719.8 565.5,719.8 566.0,719.8 566.6,719.8 567.1,719.8 567.6,719.8 568.2,719.8 568.7,719.8 569.2,719.8 569.8,719.8 570.3,719.8 570.8,719.8 571.4,719.8 571.9,719.8 572.4,719.8 572.9,719.8 573.5,719.8 574.0,719.8 574.5,719.8 575.1,719.8 575.6,719.8 576.1,719.8 576.7,719.8 577.2,719.8 577.7,719.8 578.3,719.8 578.8,719.8 579.3,719.8 579.8,719.8 580.4,719.8 580.9,719.8 581.4,719.8 582.0,719.8 582.5,719.8 583.0,719.8 583.6,719.8 584.1,719.8 584.6,719.8 585.2,719.8 585.7,719.8 586.2,719.8 586.7,719.8 587.3,719.8 587.8,719.8 588.3,719.8 588.9,719.8 589.4,719.8 589.9,719.8 590.5,719.8 591.0,719.8 591.5,719.8 592.1,719.8 592.6,719.8 593.1,719.8 593.6,719.8 594.2,719.8 594.7,719.8 595.2,719.8 595.8,719.8 596.3,719.8 596.8,719.8 597.4,719.8 597.9,719.8 598.4,719.8 599.0,719.8 599.5,719.8 600.0,719.8 600.5,719.8 601.1,719.8 601.6,719.8 602.1,719.8 602.7,719.8 603.2,719.8 603.7,719.8 604.3,719.8 604.8,719.8 605.3,719.8 605.9,719.8 606.4,719.8 606.9,719.8 607.4,719.8 608.0,719.8 608.5,719.8 609.0,719.8 609.6,719.8 610.1,719.8 610.6,719.8 611.2,719.8 611.7,719.8 612.2,719.8 612.8,719.8 613.3,719.8 613.8,719.8 614.3,719.8 614.9,719.8 615.4,719.8 615.9,719.8 616.5,719.8 617.0,719.8 617.5,719.8 618.1,719.8 618.6,719.8 619.1,719.8 619.7,719.8 620.2,719.8 620.7,719.8 621.2,719.8 621.8,719.8 622.3,719.8 622.8,719.8 623.4,719.8 623.9,719.8 624.4,719.8 625.0,719.8 625.5,719.8 626.0,719.8 626.6,719.8 627.1,719.8 627.6,719.8 628.1,719.8 628.7,719.8 629.2,719.8 629.7,719.8 630.3,719.8 630.8,719.8 631.3,719.8 631.9,719.8 632.4,719.8 632.9,719.8 633.5,719.8 634.0,719.8 634.5,719.8 635.0,719.8 635.6,719.8 636.1,719.8 636.6,719.8 637.2,719.8 637.7,719.8 638.2,719.8 638.8,719.8 639.3,719.8 639.8,719.8 640.4,719.8 640.9,719.8 641.4,719.8 642.0,719.8 642.5,719.8 643.0,719.8 643.5,719.8 644.1,719.8 644.6,719.8 645.1,719.8 645.7,719.8 646.2,719.8 646.7,719.8 647.3,719.8 647.8,719.8 648.3,719.8 648.9,719.8 649.4,719.8 649.9,719.8 650.4,719.8 651.0,719.8 651.5,719.8 652.0,719.8 652.6,719.8 653.1,719.8 653.6,719.8 654.2,719.8 654.7,719.8 655.2,719.8 655.8,719.8 656.3,719.8 656.8,719.8 657.3,719.8 657.9,719.8 658.4,719.8 658.9,719.8 659.5,719.8 660.0,719.8 660.5,719.8 661.1,719.8 661.6,719.8 662.1,719.8 662.7,719.8 663.2,719.8 663.7,719.8 664.2,719.8 664.8,719.8 665.3,719.8 665.8,719.8 666.4,719.8 666.9,719.8 667.4,719.8 668.0,719.8 668.5,719.8 669.0,719.8 669.6,719.8 670.1,719.8 670.6,719.8 671.1,719.8 671.7,719.8 672.2,719.8 672.7,719.8 673.3,719.8 673.8,719.8 674.3,719.8 674.9,719.8 675.4,719.8 675.9,719.8 676.5,719.8 677.0,719.8 677.5,719.8 678.0,719.8 678.6,719.8 679.1,719.8 679.6,719.8 680.2,719.8 680.7,719.8 681.2,719.8 681.8,719.8 682.3,719.8 682.8,719.8 683.4,719.8 683.9,719.8 684.4,719.8 684.9,719.8 685.5,719.8 686.0,719.8 686.5,719.8 687.1,719.8 687.6,719.8 688.1,719.8 688.7,719.8 689.2,719.8 689.7,719.8 690.3,719.8 690.8,719.8 691.3,719.8 691.8,719.8 692.4,719.8 692.9,719.8 693.4,719.8 694.0,719.8 694.5,719.8 695.0,719.8 695.6,719.8 696.1,719.8 696.6,719.8 697.2,719.8 697.7,719.8 698.2,719.8 698.7,719.8 699.3,719.8 699.8,719.8 700.3,719.8 700.9,719.8 701.4,719.8 701.9,719.8 702.5,719.8 703.0,719.8 703.5,719.8 704.1,719.8 704.6,719.8 705.1,719.8 705.6,719.8 706.2,719.8 706.7,719.8 707.2,719.8 707.8,719.8 708.3,719.8 708.8,719.8 709.4,719.8 709.9,719.8 710.4,719.8 711.0,719.8 711.5,719.8 712.0,719.8 712.6,719.8 713.1,719.8 713.6,719.8 714.1,719.8 714.7,719.8 715.2,719.8 715.7,719.8 716.3,719.8 716.8,719.8 717.3,719.8 717.9,719.8 718.4,719.8 718.9,719.8 719.5,719.8 720.0,719.8 720.5,719.8 721.0,719.8 721.6,719.8 722.1,719.8 722.6,719.8 723.2,719.8 723.7,719.8 724.2,719.8 724.8,719.8 725.3,719.8 725.8,719.8 726.4,719.8 726.9,719.8 727.4,719.8 727.9,719.8 728.5,719.8 729.0,719.8 729.5,719.8 730.1,719.8 730.6,719.8 731.1,719.8 731.7,719.8 732.2,719.8 732.7,719.8 733.3,719.8 733.8,719.8 734.3,719.8 734.8,719.8 735.4,719.8 735.9,719.8 736.4,719.8 737.0,719.8 737.5,719.8 738.0,719.8 738.6,719.8 739.1,719.8 739.6,719.8 740.2,719.8 740.7,719.8 741.2,719.8 741.7,719.8 742.3,719.8 742.8,719.8 743.3,719.8 743.9,719.8 744.4,719.8 744.9,719.8 745.5,719.8 746.0,719.8 746.5,719.8 747.1,719.8 747.6,719.8 748.1,719.8 748.6,719.8 749.2,719.8 749.7,719.8 750.2,719.8 750.8,719.8 751.3,719.8 751.8,719.8 752.4,719.8 752.9,719.8 753.4,719.8 754.0,719.8 754.5,719.8 755.0,719.8 755.5,719.8 756.1,719.8 756.6,719.8 757.1,719.8 757.7,719.8 758.2,719.8 758.7,719.8 759.3,719.8 759.8,719.8 760.3,719.8 760.9,719.8 761.4,719.8 761.9,719.9 762.4,720.0 763.0,720.3 763.5,720.7 764.0,721.4 764.6,722.5 765.1,724.2 765.6,726.9 766.2,730.8 766.7,736.3 767.2,744.0 767.8,754.3 768.3,767.7 768.8,784.6 769.3,805.2 769.9,829.5 770.4,857.4 770.9,888.4 771.5,921.7 772.0,956.5 772.5,991.7 773.1,1026.1 773.6,1058.9 774.1,1089.0 774.7,1115.8 775.2,1139.0 775.7,1158.4 776.2,1174.2 776.8,1186.6 777.3,1196.1 777.8,1203.0 778.4,1208.0 778.9,1211.5 779.4,1213.8 780.0,1215.4 780.5,1216.3 781.0,1216.9 781.6,1217.3 782.1,1217.5 782.6,1217.6 783.1,1217.6 783.7,1217.7 784.2,1217.7 784.7,1217.7 785.3,1217.7 785.8,1217.7 786.3,1217.7 786.9,1217.7 787.4,1217.7 787.9,1217.7 788.5,1217.7 789.0,1217.7 789.5,1217.7 790.1,1217.7 790.6,1217.7 791.1,1217.7 791.6,1217.7 792.2,1217.7 792.7,1217.7 793.2,1217.7 793.8,1217.7 794.3,1217.7 794.8,1217.7 795.4,1217.7 795.9,1217.7 796.4,1217.7 797.0,1217.7 797.5,1217.7 798.0,1217.7 798.5,1217.7 799.1,1217.7 799.6,1217.7 800.1,1217.7 800.7,1217.7 801.2,1217.7 801.7,1217.7 802.3,1217.6 802.8,1217.6 803.3,1217.6 803.9,1217.6 804.4,1217.5 804.9,1217.4 805.4,1217.4 806.0,1217.3 806.5,1217.1 807.0,1217.0 807.6,1216.7 808.1,1216.5 808.6,1216.1 809.2,1215.7 809.7,1215.2 810.2,1214.6 810.8,1213.9 811.3,1213.0 811.8,1211.9 812.3,1210.6 812.9,1209.1 813.4,1207.3 813.9,1205.3 814.5,1202.9 815.0,1200.2 815.5,1197.1 816.1,1193.6 816.6,1189.7 817.1,1185.3 817.7,1180.4 818.2,1175.0 818.7,1169.2 819.2,1162.8 819.8,1156.0 820.3,1148.6 820.8,1140.8 821.4,1132.5 821.9,1123.9 822.4,1114.8 823.0,1105.5 823.5,1095.9 824.0,1086.0 824.6,1076.1 825.1,1066.1 825.6,1056.1 826.1,1046.1 826.7,1036.3 827.2,1026.6 827.7,1017.3 828.3,1008.2 828.8,999.5 829.3,991.2 829.9,983.4 830.4,976.0 830.9,969.1 831.5,962.7 832.0,956.8 832.5,951.4 833.0,946.5 833.6,942.1 834.1,938.1 834.6,934.6 835.2,931.5 835.7,928.8 836.2,926.4 836.8,924.3 837.3,922.5 837.8,921.0 838.4,919.7 838.9,918.6 839.4,917.7 839.9,916.9 840.5,916.3 841.0,915.8 841.5,915.4 842.1,915.0 842.6,914.8 843.1,914.5 843.7,914.4 844.2,914.2 844.7,914.1 845.3,914.1 845.8,914.0 846.3,913.9 846.8,913.9 847.4,913.9 847.9,913.9 848.4,913.8 849.0,913.8 849.5,913.8 850.0,913.8 850.6,913.8 851.1,913.8 851.6,913.8 852.2,913.8 852.7,913.8 853.2,913.8 853.7,913.8 854.3,913.8 854.8,913.8 855.3,913.8 855.9,913.8 856.4,913.8 856.9,913.8 857.5,913.8 858.0,913.8 858.5,913.8 859.1,913.8 859.6,913.8 860.1,913.8 860.6,913.8 861.2,913.8 861.7,913.8 862.2,913.8 862.8,913.8 863.3,913.8 863.8,913.8 864.4,913.8 864.9,913.8 865.4,913.8 866.0,913.8 866.5,913.8 867.0,913.8 867.6,913.8 868.1,913.8 868.6,913.8 869.1,913.8 869.7,913.8 870.2,913.8 870.7,913.8 871.3,913.8 871.8,913.8 872.3,913.8 872.9,913.8 873.4,913.8 873.9,913.8 874.5,913.8 875.0,913.8 875.5,913.8 876.0,913.8 876.6,913.8 877.1,913.8 877.6,913.8 878.2,913.8 878.7,913.8 879.2,913.8 879.8,913.8 880.3,913.8 880.8,913.8 881.4,913.8 881.9,913.8 882.4,913.8 882.9,913.8 883.5,913.8 884.0,913.8 884.5,913.8 885.1,913.8 885.6,913.8 886.1,913.8 886.7,913.8 887.2,913.8 887.7,913.8 888.3,913.8 888.8,913.8 889.3,913.8 889.8,913.8 890.4,913.8 890.9,913.8 891.4,913.8 892.0,913.8 892.5,913.8 893.0,913.8 893.6,913.8 894.1,913.8 894.6,913.8 895.2,913.8 895.7,913.8 896.2,913.8 896.7,913.8 897.3,913.8 897.8,913.8 898.3,913.8 898.9,913.8 899.4,913.8 899.9,913.8 900.5,913.8 901.0,913.8 901.5,913.8 902.1,913.8 902.6,913.8 903.1,913.8 903.6,913.8 904.2,913.8 904.7,913.8 905.2,913.8 905.8,913.8 906.3,913.8 906.8,913.8 907.4,913.8 907.9,913.8 908.4,913.8 909.0,913.8 909.5,913.8 910.0,913.8 910.5,913.8 911.1,913.8 911.6,913.8 912.1,913.8 912.7,913.8 913.2,913.8 913.7,913.8 914.3,913.8 914.8,913.8 915.3,913.8 915.9,913.8 916.4,913.8 916.9,913.8 917.4,913.8 918.0,913.8 918.5,913.8 919.0,913.8 919.6,913.8 920.1,913.8 920.6,913.8 921.2,913.8 921.7,913.8 922.2,913.8 922.8,913.8 923.3,913.8 923.8,913.8 924.3,913.8 924.9,913.8 925.4,913.8 925.9,913.8 926.5,913.8 927.0,913.8 927.5,913.8 928.1,913.8 928.6,913.8 929.1,913.8 929.7,913.8 930.2,913.8 930.7,913.8 931.2,913.8 931.8,913.8 932.3,913.8 932.8,913.8 933.4,913.8 933.9,913.8 934.4,913.8 935.0,913.8 935.5,913.8 936.0,913.8 936.6,913.8 937.1,913.8 937.6,913.8 938.1,913.8 938.7,913.8 939.2,913.8 939.7,913.8 940.3,913.8 940.8,913.8 941.3,913.8 941.9,913.8 942.4,913.8 942.9,913.8 943.5,913.8 944.0,913.8 944.5,913.8 945.1,913.8 945.6,913.8 946.1,913.8 946.6,913.8 947.2,913.8 947.7,913.8 948.2,913.8 948.8,913.8 949.3,913.8 949.8,913.8 950.4,913.8 950.9,913.8 951.4,913.8 952.0,913.8 952.5,913.8 953.0,913.8 953.5,913.8 954.1,913.8 954.6,913.8 955.1,913.8 955.7,913.8 956.2,913.8 956.7,913.8 957.3,913.8 957.8,913.8 958.3,913.8 958.9,913.8 959.4,913.8 959.9,913.8 960.4,913.8 961.0,913.8 961.5,913.8 962.0,913.8 962.6,913.8 963.1,913.8 963.6,913.8 964.2,913.8 964.7,913.8 965.2,913.8 965.8,913.8 966.3,913.8 966.8,913.8 967.3,913.8 967.9,913.8 968.4,913.8 968.9,913.8 969.5,913.8 970.0,913.8 970.5,913.8 971.1,913.8 971.6,913.8 972.1,913.8 972.7,913.8 973.2,913.8 973.7,913.8 974.2,913.8 974.8,913.8 975.3,913.8 975.8,913.8 976.4,913.8 976.9,913.8" fill="none" stroke="#eb7a2a" stroke-width="3" stroke-linejoin="round"/>
</g>
<rect x="122.0" y="695.2" width="855.0" height="532.2" fill="none" stroke="#333" stroke-width="2.2"/>
<path d="M113.5,1182.7H122.0 M113.5,1094.1H122.0 M113.5,1005.5H122.0 M113.5,916.9H122.0 M113.5,828.3H122.0 M113.5,739.7H122.0 M121.7,1227.4V1235.4 M228.6,1227.4V1235.4 M335.5,1227.4V1235.4 M442.4,1227.4V1235.4 M549.3,1227.4V1235.4 M656.2,1227.4V1235.4 M763.1,1227.4V1235.4 M870.0,1227.4V1235.4 M976.9,1227.4V1235.4" stroke="#333" stroke-width="2.2" fill="none"/>
<g font-family="Liberation Sans, sans-serif">
<text font-size="36.23" fill="#000" transform="translate(56.86,1195.70) scale(1.1795,1)">−4</text>
<text font-size="35.71" fill="#000" transform="translate(56.82,1107.10) scale(1.2196,1)">−2</text>
<text font-size="35.21" fill="#000" transform="translate(84.91,1018.15) scale(1.0591,1)">0</text>
<text font-size="35.71" fill="#000" transform="translate(84.43,929.90) scale(1.1015,1)">2</text>
<text font-size="36.23" fill="#000" transform="translate(85.69,841.30) scale(0.9783,1)">4</text>
<text font-size="35.21" fill="#000" transform="translate(84.48,752.35) scale(1.0932,1)">6</text>
<text font-size="33.38" fill="#000" transform="translate(87.98,1269.67) scale(1.2095,1)">−10</text>
<text font-size="33.38" fill="#000" transform="translate(218.10,1269.67) scale(1.1234,1)">0</text>
<text font-size="33.38" fill="#000" transform="translate(313.65,1269.67) scale(1.1384,1)">10</text>
<text font-size="33.38" fill="#000" transform="translate(421.55,1269.67) scale(1.1106,1)">20</text>
<text font-size="33.38" fill="#000" transform="translate(528.83,1269.67) scale(1.0999,1)">30</text>
<text font-size="33.38" fill="#000" transform="translate(636.48,1269.67) scale(1.0790,1)">40</text>
<text font-size="33.38" fill="#000" transform="translate(742.63,1269.67) scale(1.0999,1)">50</text>
<text font-size="33.38" fill="#000" transform="translate(849.15,1269.67) scale(1.1106,1)">60</text>
<text font-size="33.38" fill="#000" transform="translate(956.05,1269.67) scale(1.1106,1)">70</text>
<text font-size="39.13" fill="#000" transform="translate(205.31,1314.20) scale(1.0990,1)">Distance from H</text>
<text font-size="28.14" fill="#000" transform="translate(515.02,1320.00) scale(0.9840,1)">2</text>
<text font-size="39.13" fill="#000" transform="translate(532.83,1314.20) scale(1.1160,1)">O-Si interface [nm]</text>
<text font-size="41.30" fill="#000" transform="translate(38.70,1118.24) rotate(-90) scale(0.9876,1)">SLD [10</text>
<text font-size="28.41" fill="#000" transform="translate(23.50,967.95) rotate(-90) scale(1.1591,1)">−4</text>
<text font-size="40.37" fill="#000" transform="translate(38.70,916.79) rotate(-90) scale(1.0616,1)">nm</text>
<text font-size="28.43" fill="#000" transform="translate(23.80,854.64) rotate(-90) scale(1.1534,1)">−2</text>
<text font-size="41.30" fill="#000" transform="translate(38.70,812.74) rotate(-90) scale(1.1621,1)">]</text>
<text font-size="67.21" fill="#000" transform="translate(1.21,731.33) scale(0.9820,1)">b</text>
<text font-size="65.24" fill="#000" transform="translate(42.78,729.90) scale(0.6594,1)" stroke="#000" stroke-width="1.4" stroke-linejoin="round">)</text>
<text font-size="46.48" fill="#000" transform="translate(456.04,790.54) scale(1.0572,1)">Cu</text>
<text font-size="45.93" fill="#000" transform="translate(779.86,870.30) scale(1.0247,1)">TiH</text>
<text font-size="30.57" fill="#000" transform="translate(850.70,880.20) scale(0.9815,1)">x</text>
<text font-size="45.31" fill="#000" transform="translate(890.16,985.05) scale(1.0993,1)">Si</text>
<text font-size="48.70" fill="#000" transform="translate(143.54,1137.60) scale(0.9901,1)">H</text>
<text font-size="32.57" fill="#000" transform="translate(177.42,1148.40) scale(1.0931,1)">2</text>
<text font-size="49.01" fill="#000" transform="translate(197.39,1137.71) scale(1.0008,1)">O</text>
<line x1="347.4" y1="987.3" x2="417" y2="987.3" stroke="#376a98" stroke-width="3"/>
<line x1="347.4" y1="1035.7" x2="417" y2="1035.7" stroke="#dfa700" stroke-width="3"/>
<line x1="347.4" y1="1085" x2="417" y2="1085" stroke="#7db552" stroke-width="3"/>
<line x1="347.4" y1="1133.7" x2="417" y2="1133.7" stroke="#a5a5a5" stroke-width="3"/>
<line x1="347.4" y1="1181.6" x2="417" y2="1181.6" stroke="#eb7a2a" stroke-width="3"/>
<text font-size="40.00" fill="#000" transform="translate(429.26,1002.40) scale(0.9664,1)">-444 mV</text>
<text font-size="36.90" fill="#000" transform="translate(422.56,1049.83) scale(1.0454,1)">-1000 mV</text>
<text font-size="38.03" fill="#000" transform="translate(426.83,1098.62) scale(1.0331,1)">-1100 mV</text>
<text font-size="38.03" fill="#000" transform="translate(426.86,1147.62) scale(1.0150,1)">-1200 mV</text>
<text font-size="38.03" fill="#000" transform="translate(426.86,1196.32) scale(1.0150,1)">-1300 mV</text>
</g>
</svg></body></html>
